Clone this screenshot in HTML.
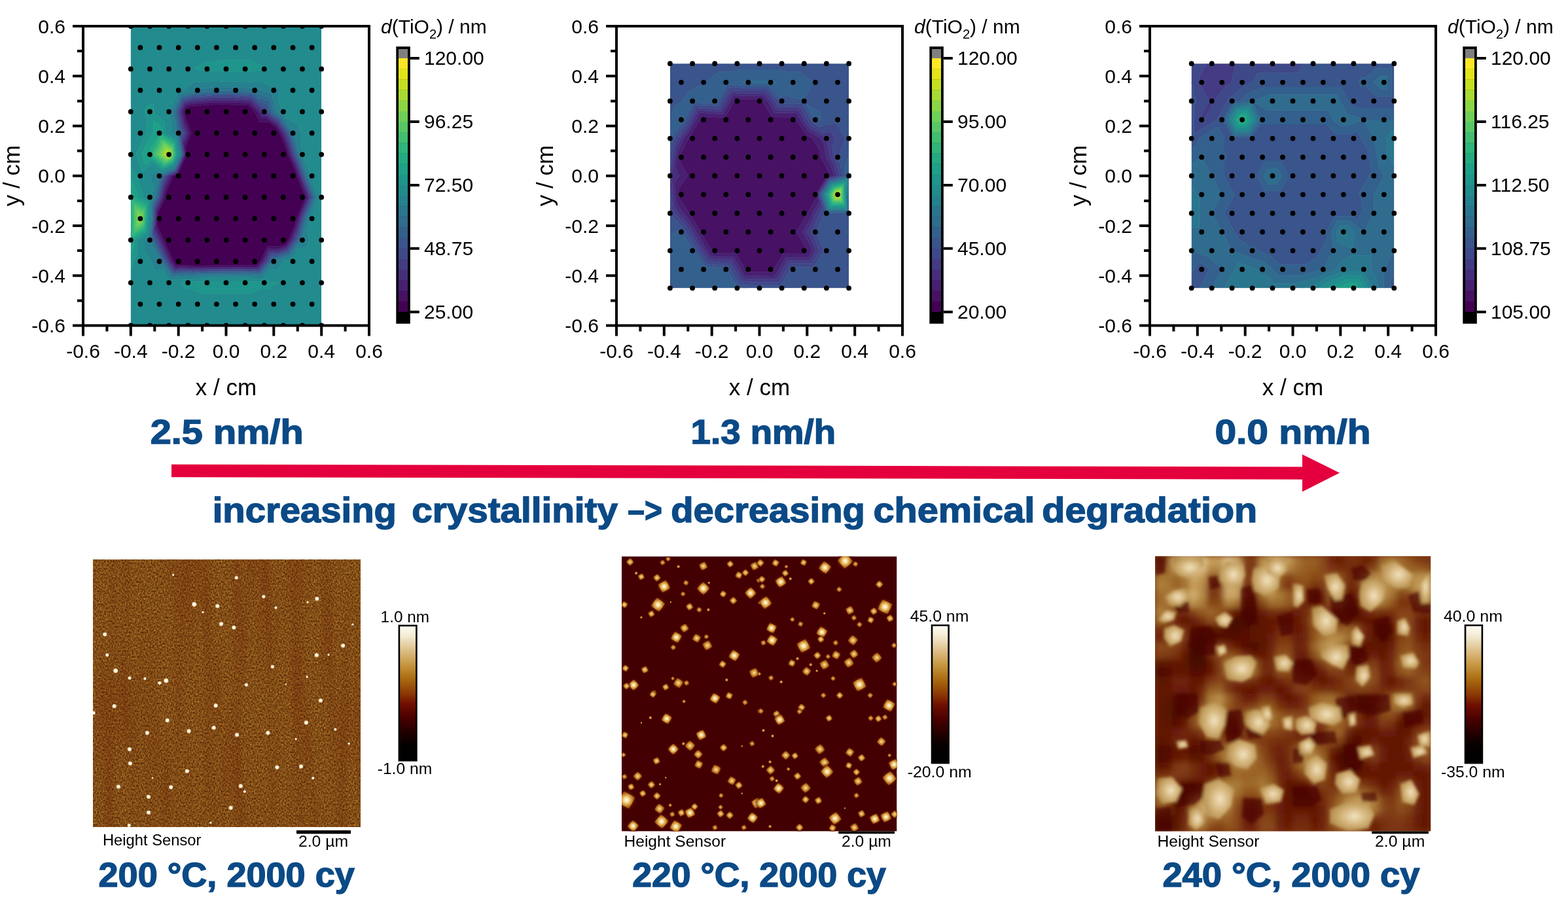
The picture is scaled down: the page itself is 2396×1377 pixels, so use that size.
<!DOCTYPE html>
<html><head><meta charset="utf-8"><title>TiO2 thickness maps and AFM</title>
<style>
html,body{margin:0;padding:0;background:#fff;}
body{width:2396px;height:1377px;overflow:hidden;position:relative;}
svg{position:absolute;left:0;top:0;}
</style></head><body>
<svg width="2396" height="1377" viewBox="0 0 2396 1377">
<clipPath id="cp0"><rect x="199.8" y="40.0" width="291.3" height="457.5"/></clipPath>
<g clip-path="url(#cp0)">
<path fill="#440154" stroke="#440154" stroke-width="0.6" fill-rule="evenodd" d="M283.3 179.6L281.8 170.7L284.5 164.7L290.8 162.7L321.1 160.0L350.3 160.0L379.0 161.0L389.0 170.7L396.7 186.5L410.8 186.5L422.0 195.1L427.3 203.4L437.1 226.7L440.1 236.1L451.1 260.7L453.7 268.8L466.9 301.4L453.1 334.1L451.2 342.4L440.8 366.8L438.9 369.7L435.9 373.4L428.7 376.2L408.2 376.8L397.6 399.5L391.9 405.5L298.9 406.0L275.1 405.0L270.0 405.5L265.3 399.5L239.6 342.9L241.0 334.1L240.6 332.6L240.7 327.8L252.4 301.4L254.2 292.7L264.9 268.8L268.5 267.6L270.0 266.5L271.6 266.4L285.1 236.1L283.0 226.5L292.6 203.4Z"/>
<path fill="#471164" stroke="#471164" stroke-width="0.6" fill-rule="evenodd" d="M284.6 183.0L292.6 203.4L283.0 226.5L285.1 236.1L271.6 266.4L270.0 266.5L268.5 267.6L264.9 268.8L254.2 292.7L252.4 301.4L240.7 327.8L240.6 332.6L241.0 334.1L239.6 342.9L265.3 399.5L270.0 405.5L275.1 405.0L298.9 406.0L391.9 405.5L397.6 399.5L408.2 376.8L428.7 376.2L435.9 373.4L438.9 369.7L440.8 366.8L451.2 342.4L453.1 334.1L466.9 301.4L453.7 268.8L451.1 260.7L440.1 236.1L437.1 226.7L427.3 203.4L422.0 195.1L410.8 186.5L396.7 186.5L389.0 170.7L379.0 161.0L350.3 160.0L321.1 160.0L290.8 162.7L284.5 164.7L281.8 170.7L283.3 179.6ZM281.5 183.6L279.1 170.7L283.2 161.6L292.4 159.1L322.8 156.4L351.9 156.4L380.6 157.4L394.1 170.7L399.2 181.1L408.4 181.1L423.1 192.6L430.3 203.4L438.7 223.2L442.5 236.1L452.3 258.0L456.1 268.8L469.4 301.4L455.7 334.1L452.6 345.6L443.8 366.8L437.0 376.1L435.8 376.6L427.1 379.7L409.8 380.3L400.7 399.5L393.0 408.1L297.8 408.5L276.3 407.6L268.7 408.3L262.4 399.5L238.0 346.4L239.1 338.2L239.4 324.9L249.9 301.4L252.6 289.1L261.7 268.8L267.9 266.2L270.7 264.3L283.3 236.1L281.2 222.5L289.1 203.4Z"/>
<path fill="#482071" stroke="#482071" stroke-width="0.6" fill-rule="evenodd" d="M282.8 187.1L289.1 203.4L281.2 222.5L283.3 236.1L270.7 264.3L267.9 266.2L261.7 268.8L252.6 289.1L249.9 301.4L239.4 324.9L239.1 338.2L238.0 346.4L262.4 399.5L268.7 408.3L276.3 407.6L297.8 408.5L393.0 408.1L400.7 399.5L409.8 380.3L427.1 379.7L435.8 376.6L437.0 376.1L443.8 366.8L452.6 345.6L455.7 334.1L469.4 301.4L456.1 268.8L452.3 258.0L442.5 236.1L438.7 223.2L430.3 203.4L423.1 192.6L408.4 181.1L399.2 181.1L394.1 170.7L380.6 157.4L351.9 156.4L322.8 156.4L292.4 159.1L283.2 161.6L279.1 170.7L281.5 183.6ZM280.7 188.8L277.0 170.7L282.1 159.3L293.7 156.2L324.1 153.5L353.2 153.5L381.9 154.5L398.2 170.7L401.1 176.7L406.4 176.7L424.1 190.4L432.8 203.4L439.9 220.4L444.7 236.1L453.3 255.6L471.2 301.4L457.6 334.1L453.8 348.3L446.0 366.8L440.0 375.4L438.0 378.1L425.9 382.5L411.0 383.0L403.2 399.5L393.8 409.8L384.8 409.4L297.0 410.3L277.1 409.4L267.8 410.3L260.0 399.5L236.8 349.2L238.3 334.1L238.5 322.7L247.9 301.4L251.4 286.3L259.2 268.8L270.3 263.4L282.4 236.1L279.8 219.3L286.4 203.4Z"/>
<path fill="#472e7c" stroke="#472e7c" stroke-width="0.6" fill-rule="evenodd" d="M281.6 191.1L286.4 203.4L279.8 219.3L282.4 236.1L270.3 263.4L259.2 268.8L251.4 286.3L247.9 301.4L238.5 322.7L238.3 334.1L236.8 349.2L260.0 399.5L267.8 410.3L277.1 409.4L297.0 410.3L384.8 409.4L393.8 409.8L403.2 399.5L411.0 383.0L425.9 382.5L438.0 378.1L440.0 375.4L446.0 366.8L453.8 348.3L457.6 334.1L471.2 301.4L453.3 255.6L444.7 236.1L439.9 220.4L432.8 203.4L424.1 190.4L406.4 176.7L401.1 176.7L398.2 170.7L381.9 154.5L353.2 153.5L324.1 153.5L293.7 156.2L282.1 159.3L277.0 170.7L280.0 186.9ZM278.7 189.8L275.1 170.7L281.2 157.2L294.9 153.5L325.2 150.9L354.3 150.9L383.0 152.0L401.9 170.7L402.9 172.7L404.6 172.7L425.0 188.5L434.9 203.4L441.0 217.9L446.5 236.1L454.3 253.5L459.8 268.8L473.0 301.4L459.4 334.1L454.9 350.7L448.1 366.8L439.5 379.0L438.8 380.0L424.8 384.9L412.1 385.4L405.4 399.5L394.6 411.6L384.0 411.1L307.2 411.5L296.2 412.0L277.9 411.1L267.0 412.2L257.8 399.5L235.6 351.8L237.4 334.1L237.6 320.7L246.2 301.4L250.2 283.7L256.9 268.8L269.9 262.4L281.6 236.1L278.5 216.5L283.9 203.4Z"/>
<path fill="#443b84" stroke="#443b84" stroke-width="0.6" fill-rule="evenodd" d="M279.2 191.1L283.9 203.4L278.5 216.5L281.6 236.1L269.9 262.4L256.9 268.8L250.2 283.7L246.2 301.4L237.6 320.7L237.4 334.1L235.6 351.8L257.8 399.5L267.0 412.2L277.9 411.1L296.2 412.0L307.2 411.5L384.0 411.1L394.6 411.6L405.4 399.5L412.1 385.4L424.8 384.9L438.8 380.0L439.5 379.0L448.1 366.8L454.9 350.7L459.4 334.1L473.0 301.4L459.8 268.8L454.3 253.5L446.5 236.1L441.0 217.9L434.9 203.4L425.0 188.5L404.6 172.7L402.9 172.7L401.9 170.7L383.0 152.0L354.3 150.9L325.2 150.9L294.9 153.5L281.2 157.2L275.1 170.7ZM277.5 192.6L273.4 170.7L280.3 155.2L296.0 151.0L326.3 148.5L355.4 148.5L384.1 149.5L402.4 167.7L404.7 168.6L405.3 170.7L425.8 186.6L437.0 203.4L442.1 215.5L448.3 236.1L455.2 251.5L461.4 268.8L474.6 301.4L461.0 334.1L455.9 353.0L450.1 366.8L443.0 376.9L439.5 381.7L435.6 383.1L423.8 387.3L413.1 387.7L407.5 399.5L395.3 413.1L383.3 412.6L307.8 413.0L295.5 413.5L278.6 412.7L266.2 414.0L255.8 399.5L234.6 354.2L236.4 334.1L236.8 318.9L244.6 301.4L249.1 281.3L254.7 268.8L269.4 261.5L280.8 236.1L277.3 213.8L281.6 203.4Z"/>
<path fill="#3f4889" stroke="#3f4889" stroke-width="0.6" fill-rule="evenodd" d="M278.5 195.2L281.6 203.4L277.3 213.8L280.8 236.1L269.4 261.5L254.7 268.8L249.1 281.3L244.6 301.4L236.8 318.9L236.4 334.1L234.6 354.2L255.8 399.5L266.2 414.0L278.6 412.7L295.5 413.5L307.8 413.0L383.3 412.6L395.3 413.1L407.5 399.5L413.1 387.7L423.8 387.3L435.6 383.1L439.5 381.7L443.0 376.9L450.1 366.8L455.9 353.0L461.0 334.1L474.6 301.4L461.4 268.8L455.2 251.5L448.3 236.1L442.1 215.5L437.0 203.4L425.8 186.6L405.3 170.7L404.7 168.6L402.4 167.7L384.1 149.5L355.4 148.5L326.3 148.5L296.0 151.0L280.3 155.2L273.4 170.7L277.5 192.6ZM276.3 195.3L271.6 170.7L279.4 153.2L297.1 148.5L327.3 146.1L356.5 146.1L385.1 147.2L399.7 161.6L406.6 164.3L408.4 170.7L426.6 184.8L439.0 203.4L443.1 213.2L450.0 236.1L456.0 249.5L463.0 268.8L476.2 301.4L462.7 334.1L456.9 355.3L451.5 367.6L440.3 383.4L422.7 389.6L414.1 389.9L409.6 399.5L396.0 414.7L382.7 414.1L308.5 414.4L294.9 415.0L279.3 414.3L265.4 415.7L253.8 399.5L233.5 356.6L235.5 334.1L235.9 317.1L242.9 301.4L248.1 278.9L252.6 268.8L269.0 260.5L279.9 236.1L276.1 211.1L279.3 203.4Z"/>
<path fill="#3a548c" stroke="#3a548c" stroke-width="0.6" fill-rule="evenodd" d="M277.8 199.3L279.3 203.4L276.1 211.1L279.9 236.1L269.0 260.5L252.6 268.8L248.1 278.9L242.9 301.4L235.9 317.1L235.5 334.1L233.5 356.6L253.8 399.5L265.4 415.7L279.3 414.3L294.9 415.0L308.5 414.4L382.7 414.1L396.0 414.7L409.6 399.5L414.1 389.9L422.7 389.6L440.3 383.4L451.5 367.6L456.9 355.3L462.7 334.1L476.2 301.4L463.0 268.8L456.0 249.5L450.0 236.1L443.1 213.2L439.0 203.4L426.6 184.8L408.4 170.7L406.6 164.3L399.7 161.6L385.1 147.2L356.5 146.1L327.3 146.1L306.1 147.6L297.1 148.5L279.4 153.2L271.6 170.7L276.3 195.3ZM275.0 198.1L269.9 170.7L278.6 151.2L298.2 146.1L328.4 143.7L357.6 143.7L386.2 144.7L396.9 155.4L408.6 159.9L411.6 170.7L427.4 183.0L441.0 203.4L444.1 210.9L451.8 236.1L456.9 247.5L464.6 268.8L477.8 301.4L464.3 334.1L457.9 357.5L454.0 366.8L441.1 385.1L421.7 392.0L415.1 392.2L411.6 399.5L396.7 416.3L382.0 415.6L309.1 415.9L294.2 416.6L280.0 415.9L264.6 417.5L251.8 399.5L235.9 366.8L232.4 358.6L234.6 334.1L235.1 315.2L241.3 301.4L247.0 276.5L250.4 268.8L268.6 259.5L279.0 236.1L274.9 208.5L277.0 203.4Z"/>
<path fill="#34608d" stroke="#34608d" stroke-width="0.6" fill-rule="evenodd" d="M275.5 199.3L277.0 203.4L274.9 208.5L279.0 236.1L268.6 259.5L250.4 268.8L247.0 276.5L241.3 301.4L235.1 315.2L234.6 334.1L232.4 358.6L235.9 366.8L251.8 399.5L264.6 417.5L280.0 415.9L294.2 416.6L309.1 415.9L382.0 415.6L396.7 416.3L411.6 399.5L415.1 392.2L421.7 392.0L441.1 385.1L454.0 366.8L457.9 357.5L464.3 334.1L477.8 301.4L464.6 268.8L456.9 247.5L451.8 236.1L444.1 210.9L441.0 203.4L427.4 183.0L411.6 170.7L408.6 159.9L396.9 155.4L386.2 144.7L357.6 143.7L328.4 143.7L298.2 146.1L278.6 151.2L269.9 170.7ZM273.7 201.0L268.0 170.7L277.6 149.1L299.4 143.4L329.6 141.1L358.7 141.1L387.3 142.2L394.0 148.9L410.6 155.3L414.9 170.7L428.3 181.0L443.1 203.4L445.2 208.5L453.7 236.1L457.8 245.5L466.3 268.8L479.4 301.4L466.0 334.1L459.0 359.9L456.1 366.8L441.9 386.9L420.6 394.4L416.1 394.6L413.8 399.5L397.4 418.0L381.3 417.2L309.9 417.5L293.4 418.2L280.8 417.7L263.8 419.3L249.6 399.5L233.6 366.8L231.3 361.6L231.4 358.6L233.7 334.1L234.3 313.3L239.6 301.4L245.9 274.0L248.2 268.8L268.1 258.5L278.1 236.1L273.8 207.5L273.7 205.7L274.6 203.4Z"/>
<path fill="#2f6c8e" stroke="#2f6c8e" stroke-width="0.6" fill-rule="evenodd" d="M274.6 203.4L273.7 205.7L273.8 207.5L278.1 236.1L268.1 258.5L248.2 268.8L245.9 274.0L239.6 301.4L234.3 313.3L233.7 334.1L231.4 358.6L231.3 361.6L233.6 366.8L249.6 399.5L263.8 419.3L280.8 417.7L293.4 418.2L309.9 417.5L381.3 417.2L397.4 418.0L413.8 399.5L416.1 394.6L420.6 394.4L441.9 386.9L456.1 366.8L459.0 359.9L466.0 334.1L479.4 301.4L466.3 268.8L457.8 245.5L453.7 236.1L445.2 208.5L443.1 203.4L428.3 181.0L414.9 170.7L410.6 155.3L394.0 148.9L387.3 142.2L358.7 141.1L329.6 141.1L299.4 143.4L277.6 149.1L268.0 170.7L273.4 199.3ZM271.9 203.4L266.0 170.7L276.6 146.9L302.8 140.3L330.8 138.4L359.9 138.4L388.6 139.4L390.9 141.8L412.9 150.3L418.5 170.7L429.2 179.0L445.5 203.4L455.7 236.1L458.9 243.2L468.1 268.8L481.3 301.4L467.9 334.1L460.1 362.5L458.3 366.8L442.8 388.9L420.8 396.7L417.3 397.2L415.3 400.7L398.2 419.6L380.5 418.9L310.6 419.2L292.7 419.9L281.6 419.4L262.9 421.4L247.4 399.5L231.1 366.8L230.0 364.4L230.0 362.7L232.8 334.1L233.3 311.2L237.7 301.4L244.6 271.2L245.7 268.8L246.8 267.9L267.7 257.5L277.2 236.1L272.5 203.8Z"/>
<path fill="#2a768e" stroke="#2a768e" stroke-width="0.6" fill-rule="evenodd" d="M272.5 203.8L277.2 236.1L267.7 257.5L246.8 267.9L245.7 268.8L244.6 271.2L237.7 301.4L233.3 311.2L232.8 334.1L230.0 362.7L230.0 364.4L231.1 366.8L247.4 399.5L262.9 421.4L281.6 419.4L292.7 419.9L310.6 419.2L380.5 418.9L398.2 419.6L415.3 400.7L417.3 397.2L420.8 396.7L442.8 388.9L458.3 366.8L460.1 362.5L467.9 334.1L481.3 301.4L468.1 268.8L458.9 243.2L455.7 236.1L445.5 203.4L429.2 179.0L418.5 170.7L412.9 150.3L390.9 141.8L388.6 139.4L359.9 138.4L330.8 138.4L302.8 140.3L276.6 146.9L266.0 170.7L271.9 203.4ZM269.3 204.1L268.3 203.4L267.7 192.4L263.5 170.7L275.4 144.1L299.2 138.0L301.0 136.3L302.5 136.5L328.7 133.1L362.2 133.3L387.8 134.9L390.8 134.5L415.6 144.3L422.9 170.7L430.4 176.3L446.2 200.5L448.2 201.7L449.0 203.4L449.2 207.2L458.0 236.1L483.4 301.4L470.2 334.1L461.1 366.8L443.7 391.1L420.1 399.5L419.1 401.2L417.7 401.0L399.3 422.1L379.5 421.2L311.6 421.4L291.6 422.3L282.6 421.8L261.9 423.6L244.5 399.5L234.0 378.2L228.0 368.9L227.9 366.8L228.7 366.1L228.6 362.7L229.5 357.4L229.3 354.5L231.4 336.9L231.9 309.6L235.7 300.3L242.5 271.1L241.8 268.8L243.1 267.7L243.8 268.1L246.1 266.3L250.9 264.7L252.1 263.4L253.3 263.3L255.1 262.0L259.1 260.6L261.0 258.8L267.2 256.5L276.4 236.1L274.5 227.9L274.5 223.9L272.6 215.6L272.6 211.5L271.6 205.9Z"/>
<path fill="#26818e" stroke="#26818e" stroke-width="0.6" fill-rule="evenodd" d="M271.6 205.9L272.6 211.5L272.6 215.6L274.5 223.9L274.5 227.9L276.4 236.1L267.2 256.5L261.0 258.8L259.1 260.6L255.1 262.0L253.3 263.3L252.1 263.4L250.9 264.7L246.1 266.3L243.8 268.1L243.1 267.7L241.8 268.8L242.5 271.1L235.7 300.3L231.9 309.6L231.4 336.9L229.3 354.5L229.5 357.4L228.6 362.7L228.7 366.1L227.9 366.8L228.0 368.9L234.0 378.2L244.5 399.5L261.9 423.6L282.6 421.8L291.6 422.3L311.6 421.4L379.5 421.2L399.3 422.1L417.7 401.0L419.1 401.2L420.1 399.5L443.7 391.1L461.1 366.8L470.2 334.1L483.4 301.4L458.0 236.1L449.2 207.2L449.0 203.4L448.2 201.7L446.2 200.5L430.4 176.3L422.9 170.7L415.6 144.3L390.8 134.5L387.8 134.9L362.2 133.3L328.7 133.1L302.5 136.5L301.0 136.3L299.2 138.0L275.4 144.1L263.5 170.7L267.7 192.4L268.3 203.4ZM268.4 207.5L266.8 206.6L264.0 206.5L262.2 203.4L261.5 199.3L261.9 194.8L261.2 191.1L261.5 186.5L260.5 178.9L260.9 177.1L258.9 170.7L273.1 139.0L280.7 138.0L295.6 124.2L307.1 126.1L324.4 123.4L337.1 124.2L366.3 124.2L383.7 125.7L395.6 123.8L399.2 125.8L404.8 127.6L415.9 132.5L421.3 131.4L427.0 138.0L424.8 152.5L430.2 170.7L432.5 171.5L436.9 179.7L453.6 189.6L459.8 203.4L461.5 234.9L473.4 264.7L480.3 285.3L487.2 301.4L480.3 317.6L468.9 351.3L473.0 366.8L467.5 379.1L456.6 379.1L450.5 390.0L448.7 391.3L448.1 392.6L446.6 393.2L445.5 395.1L444.1 395.4L442.8 397.2L441.2 397.2L439.7 398.4L437.0 398.4L432.4 399.5L424.5 413.3L413.0 411.4L410.8 415.2L409.9 415.8L408.6 418.6L405.5 419.9L403.5 423.4L402.6 424.0L401.4 426.7L388.3 426.1L378.1 424.3L313.0 424.7L299.3 426.6L282.4 426.6L260.1 427.7L258.8 425.5L257.6 425.1L257.1 424.0L255.1 422.6L249.0 411.8L237.3 413.4L231.1 399.5L221.0 383.1L221.0 366.8L223.9 363.5L227.2 362.7L226.5 358.6L228.1 350.4L227.5 346.4L229.0 342.1L228.4 338.2L229.4 333.1L229.2 325.9L229.9 321.9L229.2 317.8L230.2 313.7L229.3 309.6L230.4 305.5L229.9 303.6L231.7 299.5L231.8 297.3L235.0 287.8L229.4 268.8L231.5 266.3L234.2 265.2L237.0 262.2L240.0 260.8L243.1 261.4L245.2 264.9L250.9 260.9L254.5 260.6L257.0 258.2L260.0 256.7L263.4 256.1L265.8 253.2L273.4 236.1L274.0 232.0L271.5 223.8L272.1 219.7L269.6 211.6L269.8 209.7Z"/>
<path fill="#228b8d" stroke="#228b8d" stroke-width="0.6" fill-rule="evenodd" d="M199.8 411.3L209.8 389.1L209.8 366.8L224.5 356.7L225.2 354.5L225.0 351.2L226.2 342.3L226.3 336.4L227.1 334.1L226.6 331.2L227.2 325.9L226.8 322.6L227.4 309.6L227.2 305.4L219.6 301.4L211.4 275.6L199.8 253.7L199.8 40.0L491.2 40.0L491.2 497.5L199.8 497.5ZM269.8 209.7L269.6 211.6L272.1 219.7L271.5 223.8L274.0 232.0L273.4 236.1L265.8 253.2L263.4 256.1L260.0 256.7L257.0 258.2L254.5 260.6L250.9 260.9L245.2 264.9L243.1 261.4L240.0 260.8L237.0 262.2L234.2 265.2L231.5 266.3L229.4 268.8L235.0 287.8L231.8 297.3L231.7 299.5L229.9 303.6L230.4 305.5L229.3 309.6L230.2 313.7L229.2 317.8L229.9 321.9L229.2 325.9L229.4 333.1L228.4 338.2L229.0 342.1L227.5 346.4L228.1 350.4L226.5 358.6L227.2 362.7L223.9 363.5L221.0 366.8L221.0 383.1L231.1 399.5L237.3 413.4L249.0 411.8L255.1 422.6L257.1 424.0L257.6 425.1L258.8 425.5L260.1 427.7L282.4 426.6L299.3 426.6L313.0 424.7L378.1 424.3L388.3 426.1L401.4 426.7L402.6 424.0L403.5 423.4L405.5 419.9L408.6 418.6L409.9 415.8L410.8 415.2L413.0 411.4L424.5 413.3L432.4 399.5L437.0 398.4L439.7 398.4L441.2 397.2L442.8 397.2L444.1 395.4L445.5 395.1L446.6 393.2L448.1 392.6L448.7 391.3L450.5 390.0L456.6 379.1L467.5 379.1L473.0 366.8L468.9 351.3L480.3 317.6L487.2 301.4L480.3 285.3L473.4 264.7L461.5 234.9L459.8 203.4L453.6 189.6L436.9 179.7L432.5 171.5L430.2 170.7L424.8 152.5L427.0 138.0L421.3 131.4L415.9 132.5L404.8 127.6L399.2 125.8L395.6 123.8L383.7 125.7L366.3 124.2L337.1 124.2L324.4 123.4L307.1 126.1L295.6 124.2L280.7 138.0L273.1 139.0L258.9 170.7L260.9 177.1L260.5 178.9L261.5 186.5L261.2 191.1L261.9 194.8L261.5 199.3L262.2 203.4L264.0 206.5L266.8 206.6L268.4 207.5ZM324.7 94.7L320.7 95.6L312.0 95.6L294.5 105.4L315.0 108.4L317.6 108.1L343.6 109.7L376.7 109.9L403.3 106.4L404.4 106.8L411.1 105.4L405.6 101.3L401.9 101.3L380.7 91.7L339.4 91.7ZM255.3 205.3L252.3 203.4L251.3 185.9L234.4 170.7L234.4 158.5L224.6 160.9L220.2 170.7L224.6 180.5L223.7 203.4L218.3 212.2L207.7 236.1L217.4 261.9L234.7 249.0L247.4 260.0L253.2 257.8L254.4 256.5L259.1 254.8L264.9 251.3L271.6 236.1L271.0 227.9L270.0 225.6L269.2 220.2L269.1 215.6L268.2 213.4L257.0 205.9ZM352.8 448.5L381.9 448.5L399.4 441.9L408.1 441.9L425.6 432.1L405.1 429.1L403.2 430.9L375.7 429.9L315.4 429.9L286.7 430.9L276.3 432.1L282.9 441.9L291.6 441.9L309.1 448.5Z"/>
<path fill="#1f958b" stroke="#1f958b" stroke-width="0.6" fill-rule="evenodd" d="M199.8 253.7L211.4 275.6L219.6 301.4L227.2 305.4L227.4 309.6L226.8 322.6L227.2 325.9L226.6 331.2L227.1 334.1L226.3 336.4L226.2 342.3L225.0 351.2L225.2 354.5L224.5 356.7L209.8 366.8L209.8 389.1L199.8 411.3L199.8 387.8L204.5 377.3L204.5 366.8L223.2 354.0L225.1 334.1L225.7 309.6L225.6 308.9L211.4 301.4L206.6 286.3L199.8 273.6ZM326.1 94.5L339.4 91.7L380.7 91.7L401.9 101.3L405.6 101.3L411.1 105.4L404.4 106.8L403.3 106.4L376.7 109.9L343.6 109.7L317.6 108.1L315.0 108.4L294.5 105.4L312.0 95.6L320.7 95.6ZM257.0 205.9L268.2 213.4L269.1 215.6L269.2 220.2L270.0 225.6L271.0 227.9L271.6 236.1L264.9 251.3L259.1 254.8L254.4 256.5L253.2 257.8L247.4 260.0L234.7 249.0L217.4 261.9L207.7 236.1L218.3 212.2L223.7 203.4L224.6 180.5L220.2 170.7L224.6 160.9L234.4 158.5L234.4 170.7L251.3 185.9L252.3 203.4ZM349.1 448.5L309.1 448.5L291.6 441.9L282.9 441.9L276.3 432.1L286.7 430.9L315.4 429.9L375.7 429.9L403.2 430.9L405.1 429.1L425.6 432.1L408.1 441.9L399.4 441.9L381.9 448.5ZM247.7 203.4L247.2 195.1L234.9 184.1L234.2 203.4L222.8 222.1L216.5 236.1L222.2 251.2L232.3 243.6L248.5 257.6L264.2 249.7L270.3 236.1L267.2 215.7Z"/>
<path fill="#1fa088" stroke="#1fa088" stroke-width="0.6" fill-rule="evenodd" d="M199.8 353.2L200.1 366.2L222.0 351.2L223.6 334.1L224.1 312.4L203.1 301.4L201.8 297.1L199.8 293.5L199.8 273.6L206.6 286.3L211.4 301.4L225.6 308.9L225.7 309.6L225.1 334.1L223.2 354.0L204.5 366.8L204.5 377.3L199.8 387.8ZM250.1 204.9L267.2 215.7L270.3 236.1L264.2 249.7L248.5 257.6L232.3 243.6L222.2 251.2L216.5 236.1L222.8 222.1L234.2 203.4L234.9 184.1L247.2 195.1L247.7 203.4ZM243.7 203.8L240.5 210.2L227.2 232.1L225.4 236.1L227.0 240.4L229.9 238.2L249.6 255.2L263.5 248.2L268.9 236.1L266.2 218.0Z"/>
<path fill="#24aa83" stroke="#24aa83" stroke-width="0.6" fill-rule="evenodd" d="M199.8 293.5L201.8 297.1L203.1 301.4L224.1 312.4L223.6 334.1L222.0 351.2L200.1 366.2ZM246.3 205.4L266.2 218.0L268.9 236.1L263.5 248.2L249.6 255.2L229.9 238.2L227.0 240.4L225.4 236.1L227.2 232.1L240.5 210.2L243.7 203.8ZM202.4 361.1L220.8 348.4L222.1 334.1L222.5 315.9L201.3 304.8ZM245.5 207.9L231.3 236.1L250.6 252.8L262.8 246.7L267.6 236.1L265.2 220.2Z"/>
<path fill="#2fb47c" stroke="#2fb47c" stroke-width="0.6" fill-rule="evenodd" d="M202.3 356.0L201.3 304.8L222.5 315.9L222.1 334.1L220.8 348.4L202.4 361.1ZM248.1 209.5L265.2 220.2L267.6 236.1L262.8 246.7L250.6 252.8L231.3 236.1L245.5 207.9ZM204.7 355.9L219.6 345.7L220.6 334.1L221.0 319.4L203.8 310.4ZM247.3 211.9L235.1 236.1L251.7 250.4L262.2 245.2L266.2 236.1L264.1 222.5Z"/>
<path fill="#42be71" stroke="#42be71" stroke-width="0.6" fill-rule="evenodd" d="M204.6 353.1L203.8 310.4L221.0 319.4L220.6 334.1L219.6 345.7L204.7 355.9ZM249.9 213.5L264.1 222.5L266.2 236.1L262.2 245.2L251.7 250.4L235.1 236.1L247.3 211.9ZM207.0 350.7L218.3 342.9L219.4 322.9L206.4 316.1ZM249.1 215.9L239.0 236.1L252.8 248.0L261.5 243.6L264.9 236.1L263.1 224.8Z"/>
<path fill="#58c765" stroke="#58c765" stroke-width="0.6" fill-rule="evenodd" d="M207.0 350.2L206.4 316.1L219.4 322.9L218.3 342.9L207.0 350.7ZM251.8 217.6L263.1 224.8L264.9 236.1L261.5 243.6L252.8 248.0L239.0 236.1L249.1 215.9ZM209.3 345.5L217.1 340.2L217.8 326.4L208.9 321.7ZM250.9 220.0L242.8 236.1L253.9 245.6L260.8 242.1L263.5 236.1L262.1 227.0Z"/>
<path fill="#70cf57" stroke="#70cf57" stroke-width="0.6" fill-rule="evenodd" d="M209.2 338.7L208.9 321.7L217.8 326.4L217.1 340.2L209.3 345.5ZM253.6 221.7L262.1 227.0L263.5 236.1L260.8 242.1L253.9 245.6L242.8 236.1L250.9 220.0ZM211.6 340.4L215.9 337.4L216.3 329.9L211.4 327.3ZM258.9 227.9L252.7 224.0L246.7 236.1L254.9 243.2L260.1 240.6L262.1 236.1L261.1 229.3Z"/>
<path fill="#8bd646" stroke="#8bd646" stroke-width="0.6" fill-rule="evenodd" d="M211.5 335.8L211.4 327.3L216.3 329.9L215.9 337.4L211.6 340.4ZM261.1 229.3L262.1 236.1L260.3 240.2L254.9 243.2L246.7 236.1L252.7 224.0ZM213.9 335.2L214.7 334.7L214.7 333.4L213.9 332.9ZM254.5 228.1L250.5 236.1L256.0 240.8L259.4 239.1L260.8 236.1L260.1 231.6Z"/>
<path fill="#a8db34" stroke="#a8db34" stroke-width="0.6" fill-rule="evenodd" d="M213.9 332.9L214.7 333.4L214.7 334.7L213.9 335.2ZM257.3 229.8L260.1 231.6L260.8 236.1L259.4 239.1L256.0 240.8L250.5 236.1L254.5 228.1ZM256.3 232.1L254.3 236.1L257.1 238.4L258.8 237.6L259.4 236.1L259.1 233.8Z"/>
<path fill="#c5e021" stroke="#c5e021" stroke-width="0.6" fill-rule="evenodd" d="M259.1 233.8L259.4 236.1L258.8 237.6L257.1 238.4L254.3 236.1L256.3 232.1Z"/>
</g>
<clipPath id="ax0"><rect x="127" y="40" width="437" height="457.5"/></clipPath>
<g fill="#000" clip-path="url(#ax0)"><circle cx="199.8" cy="40.0" r="3.9"/><circle cx="229.0" cy="40.0" r="3.9"/><circle cx="258.1" cy="40.0" r="3.9"/><circle cx="287.2" cy="40.0" r="3.9"/><circle cx="316.4" cy="40.0" r="3.9"/><circle cx="345.5" cy="40.0" r="3.9"/><circle cx="374.6" cy="40.0" r="3.9"/><circle cx="403.8" cy="40.0" r="3.9"/><circle cx="432.9" cy="40.0" r="3.9"/><circle cx="462.0" cy="40.0" r="3.9"/><circle cx="491.2" cy="40.0" r="3.9"/><circle cx="214.4" cy="72.7" r="3.9"/><circle cx="243.5" cy="72.7" r="3.9"/><circle cx="272.7" cy="72.7" r="3.9"/><circle cx="301.8" cy="72.7" r="3.9"/><circle cx="330.9" cy="72.7" r="3.9"/><circle cx="360.1" cy="72.7" r="3.9"/><circle cx="389.2" cy="72.7" r="3.9"/><circle cx="418.3" cy="72.7" r="3.9"/><circle cx="447.5" cy="72.7" r="3.9"/><circle cx="476.6" cy="72.7" r="3.9"/><circle cx="199.8" cy="105.4" r="3.9"/><circle cx="229.0" cy="105.4" r="3.9"/><circle cx="258.1" cy="105.4" r="3.9"/><circle cx="287.2" cy="105.4" r="3.9"/><circle cx="316.4" cy="105.4" r="3.9"/><circle cx="345.5" cy="105.4" r="3.9"/><circle cx="374.6" cy="105.4" r="3.9"/><circle cx="403.8" cy="105.4" r="3.9"/><circle cx="432.9" cy="105.4" r="3.9"/><circle cx="462.0" cy="105.4" r="3.9"/><circle cx="491.2" cy="105.4" r="3.9"/><circle cx="214.4" cy="138.0" r="3.9"/><circle cx="243.5" cy="138.0" r="3.9"/><circle cx="272.7" cy="138.0" r="3.9"/><circle cx="301.8" cy="138.0" r="3.9"/><circle cx="330.9" cy="138.0" r="3.9"/><circle cx="360.1" cy="138.0" r="3.9"/><circle cx="389.2" cy="138.0" r="3.9"/><circle cx="418.3" cy="138.0" r="3.9"/><circle cx="447.5" cy="138.0" r="3.9"/><circle cx="476.6" cy="138.0" r="3.9"/><circle cx="199.8" cy="170.7" r="3.9"/><circle cx="229.0" cy="170.7" r="3.9"/><circle cx="258.1" cy="170.7" r="3.9"/><circle cx="287.2" cy="170.7" r="3.9"/><circle cx="316.4" cy="170.7" r="3.9"/><circle cx="345.5" cy="170.7" r="3.9"/><circle cx="374.6" cy="170.7" r="3.9"/><circle cx="403.8" cy="170.7" r="3.9"/><circle cx="432.9" cy="170.7" r="3.9"/><circle cx="462.0" cy="170.7" r="3.9"/><circle cx="491.2" cy="170.7" r="3.9"/><circle cx="214.4" cy="203.4" r="3.9"/><circle cx="243.5" cy="203.4" r="3.9"/><circle cx="272.7" cy="203.4" r="3.9"/><circle cx="301.8" cy="203.4" r="3.9"/><circle cx="330.9" cy="203.4" r="3.9"/><circle cx="360.1" cy="203.4" r="3.9"/><circle cx="389.2" cy="203.4" r="3.9"/><circle cx="418.3" cy="203.4" r="3.9"/><circle cx="447.5" cy="203.4" r="3.9"/><circle cx="476.6" cy="203.4" r="3.9"/><circle cx="199.8" cy="236.1" r="3.9"/><circle cx="229.0" cy="236.1" r="3.9"/><circle cx="258.1" cy="236.1" r="3.9"/><circle cx="287.2" cy="236.1" r="3.9"/><circle cx="316.4" cy="236.1" r="3.9"/><circle cx="345.5" cy="236.1" r="3.9"/><circle cx="374.6" cy="236.1" r="3.9"/><circle cx="403.8" cy="236.1" r="3.9"/><circle cx="432.9" cy="236.1" r="3.9"/><circle cx="462.0" cy="236.1" r="3.9"/><circle cx="491.2" cy="236.1" r="3.9"/><circle cx="214.4" cy="268.8" r="3.9"/><circle cx="243.5" cy="268.8" r="3.9"/><circle cx="272.7" cy="268.8" r="3.9"/><circle cx="301.8" cy="268.8" r="3.9"/><circle cx="330.9" cy="268.8" r="3.9"/><circle cx="360.1" cy="268.8" r="3.9"/><circle cx="389.2" cy="268.8" r="3.9"/><circle cx="418.3" cy="268.8" r="3.9"/><circle cx="447.5" cy="268.8" r="3.9"/><circle cx="476.6" cy="268.8" r="3.9"/><circle cx="199.8" cy="301.4" r="3.9"/><circle cx="229.0" cy="301.4" r="3.9"/><circle cx="258.1" cy="301.4" r="3.9"/><circle cx="287.2" cy="301.4" r="3.9"/><circle cx="316.4" cy="301.4" r="3.9"/><circle cx="345.5" cy="301.4" r="3.9"/><circle cx="374.6" cy="301.4" r="3.9"/><circle cx="403.8" cy="301.4" r="3.9"/><circle cx="432.9" cy="301.4" r="3.9"/><circle cx="462.0" cy="301.4" r="3.9"/><circle cx="491.2" cy="301.4" r="3.9"/><circle cx="214.4" cy="334.1" r="3.9"/><circle cx="243.5" cy="334.1" r="3.9"/><circle cx="272.7" cy="334.1" r="3.9"/><circle cx="301.8" cy="334.1" r="3.9"/><circle cx="330.9" cy="334.1" r="3.9"/><circle cx="360.1" cy="334.1" r="3.9"/><circle cx="389.2" cy="334.1" r="3.9"/><circle cx="418.3" cy="334.1" r="3.9"/><circle cx="447.5" cy="334.1" r="3.9"/><circle cx="476.6" cy="334.1" r="3.9"/><circle cx="199.8" cy="366.8" r="3.9"/><circle cx="229.0" cy="366.8" r="3.9"/><circle cx="258.1" cy="366.8" r="3.9"/><circle cx="287.2" cy="366.8" r="3.9"/><circle cx="316.4" cy="366.8" r="3.9"/><circle cx="345.5" cy="366.8" r="3.9"/><circle cx="374.6" cy="366.8" r="3.9"/><circle cx="403.8" cy="366.8" r="3.9"/><circle cx="432.9" cy="366.8" r="3.9"/><circle cx="462.0" cy="366.8" r="3.9"/><circle cx="491.2" cy="366.8" r="3.9"/><circle cx="214.4" cy="399.5" r="3.9"/><circle cx="243.5" cy="399.5" r="3.9"/><circle cx="272.7" cy="399.5" r="3.9"/><circle cx="301.8" cy="399.5" r="3.9"/><circle cx="330.9" cy="399.5" r="3.9"/><circle cx="360.1" cy="399.5" r="3.9"/><circle cx="389.2" cy="399.5" r="3.9"/><circle cx="418.3" cy="399.5" r="3.9"/><circle cx="447.5" cy="399.5" r="3.9"/><circle cx="476.6" cy="399.5" r="3.9"/><circle cx="199.8" cy="432.1" r="3.9"/><circle cx="229.0" cy="432.1" r="3.9"/><circle cx="258.1" cy="432.1" r="3.9"/><circle cx="287.2" cy="432.1" r="3.9"/><circle cx="316.4" cy="432.1" r="3.9"/><circle cx="345.5" cy="432.1" r="3.9"/><circle cx="374.6" cy="432.1" r="3.9"/><circle cx="403.8" cy="432.1" r="3.9"/><circle cx="432.9" cy="432.1" r="3.9"/><circle cx="462.0" cy="432.1" r="3.9"/><circle cx="491.2" cy="432.1" r="3.9"/><circle cx="214.4" cy="464.8" r="3.9"/><circle cx="243.5" cy="464.8" r="3.9"/><circle cx="272.7" cy="464.8" r="3.9"/><circle cx="301.8" cy="464.8" r="3.9"/><circle cx="330.9" cy="464.8" r="3.9"/><circle cx="360.1" cy="464.8" r="3.9"/><circle cx="389.2" cy="464.8" r="3.9"/><circle cx="418.3" cy="464.8" r="3.9"/><circle cx="447.5" cy="464.8" r="3.9"/><circle cx="476.6" cy="464.8" r="3.9"/><circle cx="199.8" cy="497.5" r="3.9"/><circle cx="229.0" cy="497.5" r="3.9"/><circle cx="258.1" cy="497.5" r="3.9"/><circle cx="287.2" cy="497.5" r="3.9"/><circle cx="316.4" cy="497.5" r="3.9"/><circle cx="345.5" cy="497.5" r="3.9"/><circle cx="374.6" cy="497.5" r="3.9"/><circle cx="403.8" cy="497.5" r="3.9"/><circle cx="432.9" cy="497.5" r="3.9"/><circle cx="462.0" cy="497.5" r="3.9"/><circle cx="491.2" cy="497.5" r="3.9"/></g>
<rect x="127" y="40" width="437" height="457.5" fill="none" stroke="#000" stroke-width="4"/>
<path d="M111.0 497.5h16M127.0 498.5v15M118.0 459.4h9M163.4 498.5v8M111.0 421.2h16M199.8 498.5v15M118.0 383.1h9M236.3 498.5v8M111.0 345.0h16M272.7 498.5v15M118.0 306.9h9M309.1 498.5v8M111.0 268.7h16M345.5 498.5v15M118.0 230.6h9M381.9 498.5v8M111.0 192.5h16M418.3 498.5v15M118.0 154.4h9M454.8 498.5v8M111.0 116.2h16M491.2 498.5v15M118.0 78.1h9M527.6 498.5v8M111.0 40.0h16M564.0 498.5v15" stroke="#000" stroke-width="4" fill="none"/>
<g style="font-family:'Liberation Sans',Arial,sans-serif;font-size:30px" fill="#000"><text x="100.0" y="508.2" text-anchor="end">-0.6</text><text x="127.0" y="547" text-anchor="middle">-0.6</text><text x="100.0" y="431.9" text-anchor="end">-0.4</text><text x="199.8" y="547" text-anchor="middle">-0.4</text><text x="100.0" y="355.7" text-anchor="end">-0.2</text><text x="272.7" y="547" text-anchor="middle">-0.2</text><text x="100.0" y="279.4" text-anchor="end">0.0</text><text x="345.5" y="547" text-anchor="middle">0.0</text><text x="100.0" y="203.2" text-anchor="end">0.2</text><text x="418.3" y="547" text-anchor="middle">0.2</text><text x="100.0" y="126.9" text-anchor="end">0.4</text><text x="491.2" y="547" text-anchor="middle">0.4</text><text x="100.0" y="50.7" text-anchor="end">0.6</text><text x="564.0" y="547" text-anchor="middle">0.6</text></g>
<text style="font-family:'Liberation Sans',Arial,sans-serif;font-size:35px" x="345.5" y="604" text-anchor="middle">x / cm</text>
<text style="font-family:'Liberation Sans',Arial,sans-serif;font-size:35px" transform="translate(30.0,268.5) rotate(-90)" text-anchor="middle">y / cm</text>
<text style="font-family:'Liberation Sans',Arial,sans-serif;font-size:30px" x="582.0" y="50.8"><tspan font-style="italic">d</tspan>(TiO<tspan font-size="20px" dy="8">2</tspan><tspan dy="-8">) / nm</tspan></text>
<rect x="605.3" y="71.1" width="21.5" height="423.6" fill="#000"/>
<rect x="609.0" y="75" width="14" height="14.5" fill="#808080"/>
<rect x="609.0" y="460.55" width="14" height="16.45" fill="#440154"/>
<rect x="609.0" y="444.39" width="14" height="16.45" fill="#471164"/>
<rect x="609.0" y="428.24" width="14" height="16.45" fill="#482071"/>
<rect x="609.0" y="412.08" width="14" height="16.45" fill="#472e7c"/>
<rect x="609.0" y="395.93" width="14" height="16.45" fill="#443b84"/>
<rect x="609.0" y="379.77" width="14" height="16.45" fill="#3f4889"/>
<rect x="609.0" y="363.62" width="14" height="16.45" fill="#3a548c"/>
<rect x="609.0" y="347.47" width="14" height="16.45" fill="#34608d"/>
<rect x="609.0" y="331.31" width="14" height="16.45" fill="#2f6c8e"/>
<rect x="609.0" y="315.16" width="14" height="16.45" fill="#2a768e"/>
<rect x="609.0" y="299.00" width="14" height="16.45" fill="#26818e"/>
<rect x="609.0" y="282.85" width="14" height="16.45" fill="#228b8d"/>
<rect x="609.0" y="266.70" width="14" height="16.45" fill="#1f958b"/>
<rect x="609.0" y="250.54" width="14" height="16.45" fill="#1fa088"/>
<rect x="609.0" y="234.39" width="14" height="16.45" fill="#24aa83"/>
<rect x="609.0" y="218.23" width="14" height="16.45" fill="#2fb47c"/>
<rect x="609.0" y="202.08" width="14" height="16.45" fill="#42be71"/>
<rect x="609.0" y="185.93" width="14" height="16.45" fill="#58c765"/>
<rect x="609.0" y="169.77" width="14" height="16.45" fill="#70cf57"/>
<rect x="609.0" y="153.62" width="14" height="16.45" fill="#8bd646"/>
<rect x="609.0" y="137.46" width="14" height="16.45" fill="#a8db34"/>
<rect x="609.0" y="121.31" width="14" height="16.45" fill="#c5e021"/>
<rect x="609.0" y="105.15" width="14" height="16.45" fill="#e2e418"/>
<rect x="609.0" y="89.00" width="14" height="16.45" fill="#fde725"/>
<rect x="609.0" y="476.7" width="14" height="14.3" fill="#000"/>
<text style="font-family:'Liberation Sans',Arial,sans-serif;font-size:30px" x="648.0" y="99.3">120.00</text>
<text style="font-family:'Liberation Sans',Arial,sans-serif;font-size:30px" x="648.0" y="196.2">96.25</text>
<text style="font-family:'Liberation Sans',Arial,sans-serif;font-size:30px" x="648.0" y="293.2">72.50</text>
<text style="font-family:'Liberation Sans',Arial,sans-serif;font-size:30px" x="648.0" y="390.1">48.75</text>
<text style="font-family:'Liberation Sans',Arial,sans-serif;font-size:30px" x="648.0" y="487.0">25.00</text>
<path d="M626.8 89.0h14M626.8 185.9h14M626.8 282.9h14M626.8 379.8h14M626.8 476.7h14" stroke="#000" stroke-width="4"/>
<clipPath id="cp1"><rect x="1023.9" y="97.2" width="273.1" height="343.1"/></clipPath>
<g clip-path="url(#cp1)">
<path fill="#471164" stroke="#471164" stroke-width="0.6" fill-rule="evenodd" d="M1141.3 415.3L1124.2 386.7L1094.3 386.7L1090.4 386.2L1088.0 383.1L1056.0 329.5L1052.9 325.9L1037.7 302.8L1036.4 289.6L1050.8 268.7L1038.4 244.5L1039.8 238.1L1043.9 228.1L1052.0 211.6L1055.4 207.1L1069.9 183.0L1072.2 178.1L1107.5 179.9L1124.4 151.2L1162.2 151.5L1165.1 154.4L1179.9 179.1L1213.9 179.3L1231.8 206.4L1241.6 211.6L1252.2 229.5L1252.5 233.0L1254.0 240.2L1266.2 263.3L1267.8 268.7L1263.4 269.6L1246.4 297.3L1248.1 301.2L1216.9 354.5L1231.4 378.8L1233.2 382.8L1231.1 386.9L1196.9 386.9L1179.9 415.5Z"/>
<path fill="#482071" stroke="#482071" stroke-width="0.6" fill-rule="evenodd" d="M1141.4 415.3L1179.9 415.5L1196.9 386.9L1231.1 386.9L1233.2 382.8L1231.4 378.8L1216.9 354.5L1248.1 301.2L1246.4 297.3L1263.4 269.6L1267.8 268.7L1266.2 263.3L1254.0 240.2L1252.5 233.0L1252.2 229.5L1241.6 211.6L1231.8 206.4L1213.9 179.3L1179.9 179.1L1165.1 154.4L1162.2 151.5L1124.4 151.2L1107.5 179.9L1072.2 178.1L1069.9 183.0L1055.4 207.1L1052.0 211.6L1043.9 228.1L1039.8 238.1L1038.4 244.5L1050.8 268.7L1036.4 289.6L1037.7 302.8L1052.9 325.9L1056.0 329.5L1088.0 383.1L1090.4 386.2L1094.3 386.7L1124.2 386.7ZM1146.0 421.7L1137.8 421.1L1120.8 392.5L1097.8 392.5L1087.3 391.4L1081.0 383.1L1052.5 335.3L1043.7 325.9L1033.3 310.2L1030.5 279.8L1038.1 268.7L1031.6 255.9L1035.9 231.6L1045.0 211.6L1052.5 202.2L1064.0 183.0L1068.8 172.4L1104.3 174.7L1121.2 145.8L1131.1 146.4L1165.3 146.4L1172.8 154.4L1183.7 172.6L1217.6 173.1L1222.9 183.0L1235.3 200.6L1254.0 211.6L1258.5 219.0L1262.2 240.2L1270.6 255.9L1274.1 268.7L1264.4 271.2L1248.3 297.3L1252.0 307.7L1241.1 325.9L1236.0 338.0L1226.1 354.5L1236.0 371.1L1241.1 383.1L1235.0 393.5L1200.8 393.5L1183.7 422.1Z"/>
<path fill="#472e7c" stroke="#472e7c" stroke-width="0.6" fill-rule="evenodd" d="M1149.6 422.1L1183.7 422.1L1200.8 393.5L1235.0 393.5L1241.1 383.1L1236.0 371.1L1226.1 354.5L1236.0 338.0L1241.1 325.9L1252.0 307.7L1248.3 297.3L1264.4 271.2L1274.1 268.7L1270.6 255.9L1262.2 240.2L1258.5 219.0L1254.0 211.6L1235.3 200.6L1222.9 183.0L1217.6 173.1L1183.7 172.6L1172.8 154.4L1165.3 146.4L1131.1 146.4L1121.2 145.8L1104.3 174.7L1068.8 172.4L1064.0 183.0L1052.5 202.2L1045.0 211.6L1035.9 231.6L1031.6 255.9L1038.1 268.7L1030.5 279.8L1033.3 310.2L1043.7 325.9L1052.5 335.3L1081.0 383.1L1087.3 391.4L1097.8 392.5L1120.8 392.5L1137.8 421.1ZM1135.2 425.4L1118.2 396.8L1100.4 396.8L1085.0 395.3L1075.8 383.1L1049.9 339.7L1037.1 325.9L1030.2 315.5L1026.3 272.8L1029.1 268.7L1026.7 264.1L1033.2 227.1L1040.3 211.6L1050.4 198.7L1059.8 183.0L1066.6 168.6L1102.0 170.8L1118.8 141.8L1133.3 142.7L1167.5 142.7L1178.5 154.4L1186.5 167.9L1220.3 168.6L1228.1 183.0L1237.7 196.6L1263.0 211.4L1268.1 240.2L1273.7 250.6L1278.7 268.7L1265.2 272.6L1250.1 297.3L1254.8 312.4L1246.7 325.9L1239.3 343.5L1232.6 354.5L1239.3 365.6L1246.7 383.1L1237.8 398.2L1203.6 398.2L1186.5 426.8L1152.4 426.8Z"/>
<path fill="#443b84" stroke="#443b84" stroke-width="0.6" fill-rule="evenodd" d="M1023.9 260.8L1030.6 222.7L1035.6 211.6L1048.4 195.3L1055.8 183.0L1064.4 164.9L1099.8 167.1L1116.5 137.9L1135.5 139.1L1169.6 139.1L1183.9 154.4L1189.3 163.3L1222.9 164.2L1233.1 183.0L1240.0 192.8L1258.1 203.5L1269.3 200.8L1275.7 211.6L1271.2 225.4L1273.9 240.2L1276.8 245.6L1283.2 268.7L1265.9 273.8L1251.5 297.3L1257.6 317.0L1252.2 325.9L1242.4 348.8L1239.0 354.5L1242.4 360.2L1252.2 383.1L1240.5 402.8L1206.4 402.8L1189.3 431.4L1155.2 431.4L1132.8 429.6L1115.7 401.0L1102.9 401.0L1082.7 399.0L1070.9 383.1L1047.4 343.8L1030.8 325.9L1027.2 320.5L1023.9 284.5ZM1139.0 425.7L1152.4 426.8L1186.5 426.8L1203.6 398.2L1237.8 398.2L1246.7 383.1L1239.3 365.6L1232.6 354.5L1239.3 343.5L1246.7 325.9L1254.8 312.4L1250.1 297.3L1265.2 272.6L1278.7 268.7L1273.7 250.6L1268.1 240.2L1263.1 211.6L1237.7 196.6L1228.1 183.0L1220.3 168.6L1186.5 167.9L1178.5 154.4L1167.5 142.7L1133.3 142.7L1118.8 141.8L1102.0 170.8L1066.6 168.6L1059.8 183.0L1050.4 198.7L1040.3 211.6L1033.2 227.1L1026.7 264.1L1029.1 268.7L1026.3 272.8L1030.2 315.5L1037.1 325.9L1049.9 339.7L1075.8 383.1L1085.0 395.3L1100.4 396.8L1118.2 396.8L1135.2 425.4Z"/>
<path fill="#3f4889" stroke="#3f4889" stroke-width="0.6" fill-rule="evenodd" d="M1023.9 284.5L1027.2 320.5L1030.8 325.9L1047.4 343.8L1070.9 383.1L1082.7 399.0L1102.9 401.0L1115.7 401.0L1132.8 429.6L1155.2 431.4L1189.3 431.4L1206.4 402.8L1240.5 402.8L1252.2 383.1L1242.4 360.2L1239.0 354.5L1242.4 348.8L1252.2 325.9L1257.6 317.0L1251.5 297.3L1265.9 273.8L1283.2 268.7L1276.8 245.6L1273.9 240.2L1271.2 225.4L1275.7 211.6L1269.3 200.8L1258.1 203.5L1240.0 192.8L1233.1 183.0L1222.9 164.2L1189.3 163.3L1183.9 154.4L1169.6 139.1L1135.5 139.1L1116.5 137.9L1099.8 167.1L1064.4 164.9L1055.8 183.0L1048.4 195.3L1035.6 211.6L1030.6 222.7L1023.9 260.8L1023.9 237.5L1026.8 221.0L1029.9 211.6L1031.6 210.2L1045.9 191.2L1050.8 183.0L1061.9 160.7L1097.1 162.5L1113.7 133.2L1129.9 134.1L1137.9 135.1L1172.0 135.1L1174.9 137.4L1182.4 146.2L1185.3 148.5L1190.4 154.4L1192.5 157.9L1226.1 158.9L1236.3 177.5L1236.8 179.4L1238.7 183.0L1242.9 188.0L1252.3 193.8L1277.1 187.9L1291.2 211.6L1281.1 242.0L1282.8 247.3L1283.2 250.9L1285.6 258.0L1286.1 261.6L1288.5 268.7L1266.6 274.9L1252.9 297.3L1260.8 322.4L1255.4 333.1L1254.4 336.7L1248.3 350.4L1250.8 354.5L1248.3 358.7L1258.7 383.1L1243.8 408.2L1209.6 408.2L1192.5 436.8L1158.4 436.8L1131.7 435.0L1129.9 434.3L1112.9 405.7L1105.7 405.7L1080.0 403.6L1065.2 383.1L1044.6 348.6L1041.7 346.2L1034.1 337.4L1031.3 335.1L1025.4 328.5L1023.9 329.6Z"/>
<path fill="#3a548c" stroke="#3a548c" stroke-width="0.6" fill-rule="evenodd" d="M1297.1 236.3L1290.2 257.2L1293.3 268.7L1267.3 276.1L1254.4 297.3L1263.2 325.4L1296.8 325.4L1297.1 309.3L1297.1 440.3L1140.6 440.3L1127.0 439.3L1109.9 410.7L1077.6 407.6L1059.3 383.1L1041.6 353.5L1038.2 349.8L1023.9 360.0L1023.9 329.6L1025.4 328.5L1031.3 335.1L1034.1 337.4L1041.7 346.2L1044.6 348.6L1065.2 383.1L1080.0 403.6L1105.7 405.7L1112.9 405.7L1129.9 434.3L1131.7 435.0L1158.4 436.8L1192.5 436.8L1209.6 408.2L1243.8 408.2L1258.7 383.1L1248.3 358.7L1250.8 354.5L1248.3 350.4L1254.4 336.7L1255.4 333.1L1260.8 322.4L1252.9 297.3L1266.6 274.9L1288.5 268.7L1286.1 261.6L1285.6 258.0L1283.2 250.9L1282.8 247.3L1281.1 242.0L1291.2 211.6L1277.1 187.9L1252.3 193.8L1242.9 188.0L1238.7 183.0L1236.8 179.4L1236.3 177.5L1226.1 158.9L1192.5 157.9L1190.4 154.4L1185.3 148.5L1182.4 146.2L1174.9 137.4L1172.0 135.1L1137.9 135.1L1129.9 134.1L1113.7 133.2L1097.1 162.5L1061.9 160.7L1050.8 183.0L1045.9 191.2L1031.6 210.2L1029.9 211.6L1026.8 221.0L1023.9 237.5L1023.9 216.3L1024.8 211.6L1043.7 187.5L1048.2 179.4L1059.3 156.4L1094.7 158.5L1111.2 129.0L1140.4 130.9L1174.5 130.9L1191.3 148.8L1199.6 146.0L1227.8 152.8L1244.0 125.8L1221.4 109.6L1202.0 109.6L1189.4 106.0L1131.6 106.0L1119.0 109.6L1099.6 109.6L1075.9 127.0L1050.3 141.3L1042.4 154.4L1029.2 163.2L1023.9 195.7L1023.9 97.2L1297.1 97.2ZM1023.9 423.6L1027.9 433.6L1031.9 440.3L1023.9 440.3ZM1249.3 184.4L1255.3 183.0L1253.0 171.1L1231.6 159.1L1244.6 183.0L1247.0 185.0Z"/>
<path fill="#34608d" stroke="#34608d" stroke-width="0.6" fill-rule="evenodd" d="M1297.1 309.3L1296.8 325.4L1263.2 325.4L1254.4 297.3L1267.3 276.1L1293.3 268.7L1290.2 257.2L1297.1 236.3ZM1031.9 440.3L1027.9 433.6L1023.9 423.6L1023.9 360.0L1038.2 349.8L1041.6 353.5L1059.3 383.1L1077.6 407.6L1109.9 410.7L1127.0 439.3L1140.6 440.3ZM1023.9 195.7L1029.2 163.2L1042.4 154.4L1050.3 141.3L1075.9 127.0L1099.6 109.6L1119.0 109.6L1131.6 106.0L1189.4 106.0L1202.0 109.6L1221.4 109.6L1244.0 125.8L1227.8 152.8L1199.6 146.0L1191.3 148.8L1174.5 130.9L1140.4 130.9L1111.2 129.0L1094.7 158.5L1059.3 156.4L1046.4 183.0L1039.0 193.9L1024.8 211.6L1023.9 216.3ZM1247.0 185.0L1244.6 183.0L1231.6 159.1L1253.0 171.1L1255.3 183.0ZM1141.8 123.1L1132.1 125.8L1143.0 126.5L1177.2 126.5L1179.5 129.0L1189.0 125.8L1179.2 123.1ZM1038.9 183.4L1038.2 187.7L1041.4 183.6L1044.8 176.6L1039.4 180.2ZM1296.7 269.3L1268.1 277.4L1256.0 297.3L1264.3 323.7L1295.7 323.7Z"/>
<path fill="#2f6c8e" stroke="#2f6c8e" stroke-width="0.6" fill-rule="evenodd" d="M1145.1 123.1L1179.2 123.1L1189.0 125.8L1179.5 129.0L1177.2 126.5L1143.0 126.5L1132.1 125.8L1141.8 123.1ZM1039.4 180.2L1044.8 176.6L1041.4 183.6L1038.2 187.7ZM1296.6 275.1L1295.7 323.7L1264.3 323.7L1256.0 297.3L1268.1 277.4L1296.7 269.3ZM1295.6 271.2L1268.9 278.8L1257.6 297.3L1265.3 321.9L1294.7 321.9Z"/>
<path fill="#2a768e" stroke="#2a768e" stroke-width="0.6" fill-rule="evenodd" d="M1295.6 273.4L1294.7 321.9L1265.3 321.9L1257.6 297.3L1268.9 278.8L1295.6 271.2ZM1294.5 273.1L1269.7 280.1L1259.2 297.3L1266.4 320.2L1293.6 320.2Z"/>
<path fill="#26818e" stroke="#26818e" stroke-width="0.6" fill-rule="evenodd" d="M1294.4 278.6L1293.6 320.2L1266.4 320.2L1259.2 297.3L1269.7 280.1L1294.5 273.1ZM1293.4 274.9L1270.5 281.4L1260.8 297.3L1267.4 318.4L1292.6 318.4Z"/>
<path fill="#228b8d" stroke="#228b8d" stroke-width="0.6" fill-rule="evenodd" d="M1293.3 276.8L1292.6 318.4L1267.4 318.4L1260.8 297.3L1270.5 281.4L1293.4 274.9ZM1292.3 276.8L1271.3 282.7L1262.3 297.3L1268.4 316.7L1291.5 316.7Z"/>
<path fill="#1f958b" stroke="#1f958b" stroke-width="0.6" fill-rule="evenodd" d="M1292.2 282.0L1291.5 316.7L1268.4 316.7L1262.3 297.3L1271.3 282.7L1292.3 276.8ZM1291.2 278.7L1272.1 284.1L1263.9 297.3L1269.5 314.9L1290.5 314.9Z"/>
<path fill="#1fa088" stroke="#1fa088" stroke-width="0.6" fill-rule="evenodd" d="M1291.1 280.2L1290.5 314.9L1269.5 314.9L1263.9 297.3L1272.1 284.1L1291.2 278.7ZM1290.0 280.5L1272.9 285.4L1265.5 297.3L1270.5 313.2L1289.5 313.2Z"/>
<path fill="#24aa83" stroke="#24aa83" stroke-width="0.6" fill-rule="evenodd" d="M1290.0 285.4L1289.5 313.2L1270.5 313.2L1265.5 297.3L1272.9 285.4L1290.0 280.5ZM1288.9 282.4L1273.6 286.7L1267.1 297.3L1271.6 311.4L1288.4 311.4Z"/>
<path fill="#2fb47c" stroke="#2fb47c" stroke-width="0.6" fill-rule="evenodd" d="M1288.9 283.7L1288.4 311.4L1271.6 311.4L1267.1 297.3L1273.6 286.7L1288.9 282.4ZM1287.8 284.2L1274.4 288.0L1268.7 297.3L1272.6 309.7L1287.4 309.7Z"/>
<path fill="#42be71" stroke="#42be71" stroke-width="0.6" fill-rule="evenodd" d="M1287.7 288.9L1287.4 309.7L1272.6 309.7L1268.7 297.3L1274.4 288.0L1287.8 284.2ZM1286.7 286.1L1275.2 289.3L1270.3 297.3L1273.7 307.9L1286.3 307.9Z"/>
<path fill="#58c765" stroke="#58c765" stroke-width="0.6" fill-rule="evenodd" d="M1286.7 287.1L1286.3 307.9L1273.7 307.9L1270.3 297.3L1275.2 289.3L1286.7 286.1ZM1285.6 288.0L1276.0 290.7L1271.9 297.3L1274.7 306.2L1285.3 306.2Z"/>
<path fill="#70cf57" stroke="#70cf57" stroke-width="0.6" fill-rule="evenodd" d="M1285.5 292.3L1285.3 306.2L1274.7 306.2L1271.9 297.3L1276.0 290.7L1285.6 288.0ZM1284.3 302.1L1284.5 289.8L1276.8 292.0L1273.5 297.3L1275.8 304.4L1284.2 304.4Z"/>
<path fill="#8bd646" stroke="#8bd646" stroke-width="0.6" fill-rule="evenodd" d="M1284.2 304.4L1275.8 304.4L1273.5 297.3L1276.8 292.0L1284.5 289.8ZM1283.4 291.7L1277.6 293.3L1275.1 297.3L1276.8 302.7L1283.2 302.7Z"/>
<path fill="#a8db34" stroke="#a8db34" stroke-width="0.6" fill-rule="evenodd" d="M1283.3 295.7L1283.2 302.7L1276.8 302.7L1275.1 297.3L1277.6 293.3L1283.4 291.7ZM1282.1 300.9L1282.3 293.5L1278.4 294.6L1276.7 297.3L1277.9 300.9Z"/>
<path fill="#c5e021" stroke="#c5e021" stroke-width="0.6" fill-rule="evenodd" d="M1282.1 300.9L1277.9 300.9L1276.7 297.3L1278.4 294.6L1282.3 293.5ZM1281.2 295.4L1279.2 296.0L1278.3 297.3L1278.9 299.2L1281.1 299.2Z"/>
<path fill="#e2e418" stroke="#e2e418" stroke-width="0.6" fill-rule="evenodd" d="M1281.1 299.2L1278.9 299.2L1278.3 297.3L1279.2 296.0L1281.2 295.4Z"/>
<path fill="#fde725" stroke="#fde725" stroke-width="0.6" fill-rule="evenodd" d=""/>
</g>
<clipPath id="ax1"><rect x="942" y="40" width="437" height="457.5"/></clipPath>
<g fill="#000" clip-path="url(#ax1)"><circle cx="1023.9" cy="97.2" r="3.9"/><circle cx="1058.1" cy="97.2" r="3.9"/><circle cx="1092.2" cy="97.2" r="3.9"/><circle cx="1126.4" cy="97.2" r="3.9"/><circle cx="1160.5" cy="97.2" r="3.9"/><circle cx="1194.6" cy="97.2" r="3.9"/><circle cx="1228.8" cy="97.2" r="3.9"/><circle cx="1262.9" cy="97.2" r="3.9"/><circle cx="1297.1" cy="97.2" r="3.9"/><circle cx="1041.0" cy="125.8" r="3.9"/><circle cx="1075.1" cy="125.8" r="3.9"/><circle cx="1109.3" cy="125.8" r="3.9"/><circle cx="1143.4" cy="125.8" r="3.9"/><circle cx="1177.6" cy="125.8" r="3.9"/><circle cx="1211.7" cy="125.8" r="3.9"/><circle cx="1245.9" cy="125.8" r="3.9"/><circle cx="1280.0" cy="125.8" r="3.9"/><circle cx="1023.9" cy="154.4" r="3.9"/><circle cx="1058.1" cy="154.4" r="3.9"/><circle cx="1092.2" cy="154.4" r="3.9"/><circle cx="1126.4" cy="154.4" r="3.9"/><circle cx="1160.5" cy="154.4" r="3.9"/><circle cx="1194.6" cy="154.4" r="3.9"/><circle cx="1228.8" cy="154.4" r="3.9"/><circle cx="1262.9" cy="154.4" r="3.9"/><circle cx="1297.1" cy="154.4" r="3.9"/><circle cx="1041.0" cy="183.0" r="3.9"/><circle cx="1075.1" cy="183.0" r="3.9"/><circle cx="1109.3" cy="183.0" r="3.9"/><circle cx="1143.4" cy="183.0" r="3.9"/><circle cx="1177.6" cy="183.0" r="3.9"/><circle cx="1211.7" cy="183.0" r="3.9"/><circle cx="1245.9" cy="183.0" r="3.9"/><circle cx="1280.0" cy="183.0" r="3.9"/><circle cx="1023.9" cy="211.6" r="3.9"/><circle cx="1058.1" cy="211.6" r="3.9"/><circle cx="1092.2" cy="211.6" r="3.9"/><circle cx="1126.4" cy="211.6" r="3.9"/><circle cx="1160.5" cy="211.6" r="3.9"/><circle cx="1194.6" cy="211.6" r="3.9"/><circle cx="1228.8" cy="211.6" r="3.9"/><circle cx="1262.9" cy="211.6" r="3.9"/><circle cx="1297.1" cy="211.6" r="3.9"/><circle cx="1041.0" cy="240.2" r="3.9"/><circle cx="1075.1" cy="240.2" r="3.9"/><circle cx="1109.3" cy="240.2" r="3.9"/><circle cx="1143.4" cy="240.2" r="3.9"/><circle cx="1177.6" cy="240.2" r="3.9"/><circle cx="1211.7" cy="240.2" r="3.9"/><circle cx="1245.9" cy="240.2" r="3.9"/><circle cx="1280.0" cy="240.2" r="3.9"/><circle cx="1023.9" cy="268.7" r="3.9"/><circle cx="1058.1" cy="268.7" r="3.9"/><circle cx="1092.2" cy="268.7" r="3.9"/><circle cx="1126.4" cy="268.7" r="3.9"/><circle cx="1160.5" cy="268.7" r="3.9"/><circle cx="1194.6" cy="268.7" r="3.9"/><circle cx="1228.8" cy="268.7" r="3.9"/><circle cx="1262.9" cy="268.7" r="3.9"/><circle cx="1297.1" cy="268.7" r="3.9"/><circle cx="1041.0" cy="297.3" r="3.9"/><circle cx="1075.1" cy="297.3" r="3.9"/><circle cx="1109.3" cy="297.3" r="3.9"/><circle cx="1143.4" cy="297.3" r="3.9"/><circle cx="1177.6" cy="297.3" r="3.9"/><circle cx="1211.7" cy="297.3" r="3.9"/><circle cx="1245.9" cy="297.3" r="3.9"/><circle cx="1280.0" cy="297.3" r="3.9"/><circle cx="1023.9" cy="325.9" r="3.9"/><circle cx="1058.1" cy="325.9" r="3.9"/><circle cx="1092.2" cy="325.9" r="3.9"/><circle cx="1126.4" cy="325.9" r="3.9"/><circle cx="1160.5" cy="325.9" r="3.9"/><circle cx="1194.6" cy="325.9" r="3.9"/><circle cx="1228.8" cy="325.9" r="3.9"/><circle cx="1262.9" cy="325.9" r="3.9"/><circle cx="1297.1" cy="325.9" r="3.9"/><circle cx="1041.0" cy="354.5" r="3.9"/><circle cx="1075.1" cy="354.5" r="3.9"/><circle cx="1109.3" cy="354.5" r="3.9"/><circle cx="1143.4" cy="354.5" r="3.9"/><circle cx="1177.6" cy="354.5" r="3.9"/><circle cx="1211.7" cy="354.5" r="3.9"/><circle cx="1245.9" cy="354.5" r="3.9"/><circle cx="1280.0" cy="354.5" r="3.9"/><circle cx="1023.9" cy="383.1" r="3.9"/><circle cx="1058.1" cy="383.1" r="3.9"/><circle cx="1092.2" cy="383.1" r="3.9"/><circle cx="1126.4" cy="383.1" r="3.9"/><circle cx="1160.5" cy="383.1" r="3.9"/><circle cx="1194.6" cy="383.1" r="3.9"/><circle cx="1228.8" cy="383.1" r="3.9"/><circle cx="1262.9" cy="383.1" r="3.9"/><circle cx="1297.1" cy="383.1" r="3.9"/><circle cx="1041.0" cy="411.7" r="3.9"/><circle cx="1075.1" cy="411.7" r="3.9"/><circle cx="1109.3" cy="411.7" r="3.9"/><circle cx="1143.4" cy="411.7" r="3.9"/><circle cx="1177.6" cy="411.7" r="3.9"/><circle cx="1211.7" cy="411.7" r="3.9"/><circle cx="1245.9" cy="411.7" r="3.9"/><circle cx="1280.0" cy="411.7" r="3.9"/><circle cx="1023.9" cy="440.3" r="3.9"/><circle cx="1058.1" cy="440.3" r="3.9"/><circle cx="1092.2" cy="440.3" r="3.9"/><circle cx="1126.4" cy="440.3" r="3.9"/><circle cx="1160.5" cy="440.3" r="3.9"/><circle cx="1194.6" cy="440.3" r="3.9"/><circle cx="1228.8" cy="440.3" r="3.9"/><circle cx="1262.9" cy="440.3" r="3.9"/><circle cx="1297.1" cy="440.3" r="3.9"/></g>
<rect x="942" y="40" width="437" height="457.5" fill="none" stroke="#000" stroke-width="4"/>
<path d="M926.0 497.5h16M942.0 498.5v15M933.0 459.4h9M978.4 498.5v8M926.0 421.2h16M1014.8 498.5v15M933.0 383.1h9M1051.3 498.5v8M926.0 345.0h16M1087.7 498.5v15M933.0 306.9h9M1124.1 498.5v8M926.0 268.7h16M1160.5 498.5v15M933.0 230.6h9M1196.9 498.5v8M926.0 192.5h16M1233.3 498.5v15M933.0 154.4h9M1269.8 498.5v8M926.0 116.2h16M1306.2 498.5v15M933.0 78.1h9M1342.6 498.5v8M926.0 40.0h16M1379.0 498.5v15" stroke="#000" stroke-width="4" fill="none"/>
<g style="font-family:'Liberation Sans',Arial,sans-serif;font-size:30px" fill="#000"><text x="915.0" y="508.2" text-anchor="end">-0.6</text><text x="942.0" y="547" text-anchor="middle">-0.6</text><text x="915.0" y="431.9" text-anchor="end">-0.4</text><text x="1014.8" y="547" text-anchor="middle">-0.4</text><text x="915.0" y="355.7" text-anchor="end">-0.2</text><text x="1087.7" y="547" text-anchor="middle">-0.2</text><text x="915.0" y="279.4" text-anchor="end">0.0</text><text x="1160.5" y="547" text-anchor="middle">0.0</text><text x="915.0" y="203.2" text-anchor="end">0.2</text><text x="1233.3" y="547" text-anchor="middle">0.2</text><text x="915.0" y="126.9" text-anchor="end">0.4</text><text x="1306.2" y="547" text-anchor="middle">0.4</text><text x="915.0" y="50.7" text-anchor="end">0.6</text><text x="1379.0" y="547" text-anchor="middle">0.6</text></g>
<text style="font-family:'Liberation Sans',Arial,sans-serif;font-size:35px" x="1160.5" y="604" text-anchor="middle">x / cm</text>
<text style="font-family:'Liberation Sans',Arial,sans-serif;font-size:35px" transform="translate(845.0,268.5) rotate(-90)" text-anchor="middle">y / cm</text>
<text style="font-family:'Liberation Sans',Arial,sans-serif;font-size:30px" x="1397.0" y="50.8"><tspan font-style="italic">d</tspan>(TiO<tspan font-size="20px" dy="8">2</tspan><tspan dy="-8">) / nm</tspan></text>
<rect x="1420.3" y="71.1" width="21.5" height="423.6" fill="#000"/>
<rect x="1424.0" y="75" width="14" height="14.5" fill="#808080"/>
<rect x="1424.0" y="460.55" width="14" height="16.45" fill="#440154"/>
<rect x="1424.0" y="444.39" width="14" height="16.45" fill="#471164"/>
<rect x="1424.0" y="428.24" width="14" height="16.45" fill="#482071"/>
<rect x="1424.0" y="412.08" width="14" height="16.45" fill="#472e7c"/>
<rect x="1424.0" y="395.93" width="14" height="16.45" fill="#443b84"/>
<rect x="1424.0" y="379.77" width="14" height="16.45" fill="#3f4889"/>
<rect x="1424.0" y="363.62" width="14" height="16.45" fill="#3a548c"/>
<rect x="1424.0" y="347.47" width="14" height="16.45" fill="#34608d"/>
<rect x="1424.0" y="331.31" width="14" height="16.45" fill="#2f6c8e"/>
<rect x="1424.0" y="315.16" width="14" height="16.45" fill="#2a768e"/>
<rect x="1424.0" y="299.00" width="14" height="16.45" fill="#26818e"/>
<rect x="1424.0" y="282.85" width="14" height="16.45" fill="#228b8d"/>
<rect x="1424.0" y="266.70" width="14" height="16.45" fill="#1f958b"/>
<rect x="1424.0" y="250.54" width="14" height="16.45" fill="#1fa088"/>
<rect x="1424.0" y="234.39" width="14" height="16.45" fill="#24aa83"/>
<rect x="1424.0" y="218.23" width="14" height="16.45" fill="#2fb47c"/>
<rect x="1424.0" y="202.08" width="14" height="16.45" fill="#42be71"/>
<rect x="1424.0" y="185.93" width="14" height="16.45" fill="#58c765"/>
<rect x="1424.0" y="169.77" width="14" height="16.45" fill="#70cf57"/>
<rect x="1424.0" y="153.62" width="14" height="16.45" fill="#8bd646"/>
<rect x="1424.0" y="137.46" width="14" height="16.45" fill="#a8db34"/>
<rect x="1424.0" y="121.31" width="14" height="16.45" fill="#c5e021"/>
<rect x="1424.0" y="105.15" width="14" height="16.45" fill="#e2e418"/>
<rect x="1424.0" y="89.00" width="14" height="16.45" fill="#fde725"/>
<rect x="1424.0" y="476.7" width="14" height="14.3" fill="#000"/>
<text style="font-family:'Liberation Sans',Arial,sans-serif;font-size:30px" x="1463.0" y="99.3">120.00</text>
<text style="font-family:'Liberation Sans',Arial,sans-serif;font-size:30px" x="1463.0" y="196.2">95.00</text>
<text style="font-family:'Liberation Sans',Arial,sans-serif;font-size:30px" x="1463.0" y="293.2">70.00</text>
<text style="font-family:'Liberation Sans',Arial,sans-serif;font-size:30px" x="1463.0" y="390.1">45.00</text>
<text style="font-family:'Liberation Sans',Arial,sans-serif;font-size:30px" x="1463.0" y="487.0">20.00</text>
<path d="M1441.8 89.0h14M1441.8 185.9h14M1441.8 282.9h14M1441.8 379.8h14M1441.8 476.7h14" stroke="#000" stroke-width="4"/>
<clipPath id="cp2"><rect x="1820.7" y="97.2" width="309.5" height="343.1"/></clipPath>
<g clip-path="url(#cp2)">
<path fill="#443b84" stroke="#443b84" stroke-width="0.6" fill-rule="evenodd" d="M1890.4 97.2L1886.5 104.3L1881.5 125.8L1871.4 133.5L1855.6 154.4L1853.6 157.9L1840.1 183.0L1837.2 184.8L1834.3 186.5L1834.3 179.4L1847.8 154.4L1834.3 129.4L1832.3 118.6L1843.9 97.2L1851.7 97.2L1882.6 97.2Z"/>
<path fill="#3f4889" stroke="#3f4889" stroke-width="0.6" fill-rule="evenodd" d="M1843.9 97.2L1832.3 118.6L1834.3 129.4L1847.8 154.4L1834.3 179.4L1834.3 186.5L1837.2 184.8L1840.1 183.0L1853.6 157.9L1855.6 154.4L1871.4 133.5L1881.5 125.8L1886.5 104.3L1890.4 97.2L1913.6 97.2L1944.5 97.2L1975.5 97.2L1991.0 97.2L1983.2 111.5L1967.8 111.5L1952.3 111.5L1936.8 111.5L1921.3 111.5L1913.6 125.8L1900.7 130.5L1890.4 140.1L1879.4 148.4L1874.9 154.4L1863.3 175.8L1859.4 183.0L1842.0 193.7L1824.6 204.4L1824.6 161.5L1828.5 154.4L1824.6 147.2L1820.7 125.8L1820.7 97.2Z"/>
<path fill="#3a548c" stroke="#3a548c" stroke-width="0.6" fill-rule="evenodd" d="M1820.7 125.8L1824.6 147.2L1828.5 154.4L1824.6 161.5L1824.6 204.4L1842.0 193.7L1859.4 183.0L1863.3 175.8L1874.9 154.4L1879.4 148.4L1890.4 140.1L1900.7 130.5L1913.6 125.8L1921.3 111.5L1936.8 111.5L1952.3 111.5L1967.8 111.5L1983.2 111.5L1991.0 97.2L2006.5 97.2L2037.4 97.2L2068.4 97.2L2099.3 97.2L2130.3 97.2L2130.3 154.4L2130.3 165.1L2124.5 165.1L2105.1 165.1L2093.5 165.1L2074.2 165.1L2064.5 161.5L2060.6 154.4L2049.0 132.9L2025.8 132.9L2018.1 132.9L1994.8 132.9L1987.1 132.9L1963.9 132.9L1956.2 132.9L1932.9 132.9L1923.3 136.5L1907.1 142.5L1894.2 154.4L1883.6 156.2L1869.1 183.0L1883.6 209.8L1912.6 209.8L1925.2 190.1L1932.9 190.1L1956.2 190.1L1963.9 190.1L1987.1 190.1L1994.8 190.1L2018.1 190.1L2025.8 190.1L2041.3 204.4L2064.5 204.4L2074.2 200.8L2080.0 211.6L2089.6 229.4L2091.6 240.2L2095.5 261.6L2091.6 268.7L2080.0 290.2L2076.1 297.3L2080.0 304.5L2080.0 325.9L2074.2 336.7L2066.0 330.2L2039.7 330.2L2026.6 354.5L2027.7 365.3L2018.1 383.1L2012.3 393.8L1994.8 404.6L1987.1 404.6L1963.9 404.6L1956.2 404.6L1940.7 390.3L1921.3 383.1L1917.5 376.0L1909.7 376.0L1892.3 365.3L1886.5 354.5L1876.8 336.7L1871.0 325.9L1876.8 315.2L1886.5 297.3L1876.8 279.5L1871.0 268.7L1871.0 247.3L1874.9 240.2L1871.0 233.0L1871.0 211.6L1861.4 193.7L1846.8 202.6L1832.3 211.6L1826.5 222.3L1820.7 225.9L1820.7 211.6L1820.7 154.4ZM2124.5 440.3L2124.5 429.6L2130.3 418.9L2130.3 440.3ZM1820.7 418.9L1830.4 401.0L1840.1 404.6L1847.8 411.7L1842.0 422.4L1832.3 440.3L1820.7 440.3ZM2126.4 104.3L2103.2 104.3L2087.7 118.6L2080.0 118.6L2076.1 125.8L2080.0 132.9L2087.7 132.9L2103.2 147.2L2126.4 147.2ZM1920.0 268.7L1932.3 291.4L1956.8 291.4L1969.1 268.7L1956.8 246.1L1932.3 246.1Z"/>
<path fill="#34608d" stroke="#34608d" stroke-width="0.6" fill-rule="evenodd" d="M2130.3 183.0L2114.8 183.0L2083.8 183.0L2058.0 173.4L2047.7 154.4L2042.6 144.8L2032.3 144.8L2011.6 144.8L2001.3 144.8L1980.7 144.8L1970.3 144.8L1949.7 144.8L1939.4 144.8L1913.6 154.4L1885.2 159.1L1872.3 183.0L1885.2 206.8L1911.0 206.8L1926.3 183.0L1913.6 154.4L1936.8 168.7L1952.3 168.7L1967.8 168.7L1983.2 168.7L1998.7 168.7L2014.2 168.7L2029.7 168.7L2037.4 183.0L2047.7 192.5L2058.0 192.5L2083.8 183.0L2099.3 211.6L2104.5 240.2L2107.1 254.5L2114.8 268.7L2107.1 283.0L2099.3 297.3L2099.3 325.9L2083.8 354.5L2062.2 337.4L2043.6 337.4L2034.3 354.5L2037.4 383.1L2021.9 411.7L1994.8 418.9L1985.8 421.2L1965.2 421.2L1954.9 421.2L1944.5 411.7L1934.2 402.2L1921.3 397.4L1908.4 392.7L1882.6 383.1L1867.2 354.5L1851.7 325.9L1867.2 297.3L1851.7 268.7L1836.2 240.2L1851.7 211.6L1836.2 240.2L1820.7 249.7L1820.7 225.9L1826.5 222.3L1832.3 211.6L1846.8 202.6L1861.4 193.7L1871.0 211.6L1871.0 233.0L1874.9 240.2L1871.0 247.3L1871.0 268.7L1876.8 279.5L1886.5 297.3L1876.8 315.2L1871.0 325.9L1876.8 336.7L1886.5 354.5L1892.3 365.3L1909.7 376.0L1917.5 376.0L1921.3 383.1L1940.7 390.3L1956.2 404.6L1963.9 404.6L1987.1 404.6L1994.8 404.6L2012.3 393.8L2018.1 383.1L2027.7 365.3L2026.6 354.5L2039.7 330.2L2066.0 330.2L2074.2 336.7L2080.0 325.9L2080.0 304.5L2076.1 297.3L2080.0 290.2L2091.6 268.7L2095.5 261.6L2091.6 240.2L2089.6 229.4L2080.0 211.6L2074.2 200.8L2064.5 204.4L2041.3 204.4L2025.8 190.1L2018.1 190.1L1994.8 190.1L1987.1 190.1L1963.9 190.1L1956.2 190.1L1932.9 190.1L1925.2 190.1L1912.6 209.8L1883.6 209.8L1869.1 183.0L1883.6 156.2L1894.2 154.4L1907.1 142.5L1923.3 136.5L1932.9 132.9L1956.2 132.9L1963.9 132.9L1987.1 132.9L1994.8 132.9L2018.1 132.9L2025.8 132.9L2049.0 132.9L2060.6 154.4L2064.5 161.5L2074.2 165.1L2093.5 165.1L2105.1 165.1L2124.5 165.1L2130.3 165.1ZM2130.3 418.9L2124.5 429.6L2124.5 440.3L2114.8 440.3L2114.8 411.7L2130.3 383.1ZM1832.3 440.3L1842.0 422.4L1847.8 411.7L1840.1 404.6L1830.4 401.0L1820.7 418.9L1820.7 383.1L1846.5 392.7L1867.2 411.7L1851.7 440.3ZM2126.4 147.2L2103.2 147.2L2087.7 132.9L2080.0 132.9L2076.1 125.8L2080.0 118.6L2087.7 118.6L2103.2 104.3L2126.4 104.3ZM1932.3 246.1L1956.8 246.1L1969.1 268.7L1956.8 291.4L1932.3 291.4L1920.0 268.7ZM2120.0 116.2L2109.6 116.2L2099.3 125.8L2109.6 135.3L2120.0 135.3ZM1930.8 268.7L1937.7 281.5L1951.4 281.5L1958.3 268.7L1951.4 256.0L1937.7 256.0Z"/>
<path fill="#2f6c8e" stroke="#2f6c8e" stroke-width="0.6" fill-rule="evenodd" d="M2130.3 200.8L2124.5 200.8L2118.7 211.6L2118.7 233.0L2130.3 254.5L2130.3 268.7L2130.3 325.9L2130.3 383.1L2114.8 411.7L2114.8 440.3L2105.1 440.3L2105.1 429.6L2095.5 411.7L2095.5 390.3L2072.2 390.3L2064.5 390.3L2047.1 401.0L2041.3 411.7L2025.2 417.7L2015.5 423.6L1999.7 427.8L1979.4 433.2L1971.6 433.2L1948.4 433.2L1932.9 418.9L1925.2 418.9L1921.3 411.7L1902.0 404.6L1892.3 401.0L1886.5 411.7L1876.8 429.6L1871.0 440.3L1851.7 440.3L1867.2 411.7L1846.5 392.7L1820.7 383.1L1820.7 347.4L1832.3 347.4L1832.3 325.9L1832.3 304.5L1820.7 283.0L1820.7 268.7L1820.7 249.7L1836.2 240.2L1851.7 211.6L1836.2 240.2L1851.7 268.7L1867.2 297.3L1851.7 325.9L1867.2 354.5L1882.6 383.1L1908.4 392.7L1921.3 397.4L1934.2 402.2L1944.5 411.7L1954.9 421.2L1965.2 421.2L1985.8 421.2L1994.8 418.9L2021.9 411.7L2037.4 383.1L2034.3 354.5L2043.6 337.4L2062.2 337.4L2083.8 354.5L2099.3 325.9L2099.3 297.3L2107.1 283.0L2114.8 268.7L2107.1 254.5L2104.5 240.2L2099.3 211.6L2083.8 183.0L2058.0 192.5L2047.7 192.5L2037.4 183.0L2029.7 168.7L2014.2 168.7L1998.7 168.7L1983.2 168.7L1967.8 168.7L1952.3 168.7L1936.8 168.7L1913.6 154.4L1926.3 183.0L1911.0 206.8L1885.2 206.8L1872.3 183.0L1885.2 159.1L1913.6 154.4L1939.4 144.8L1949.7 144.8L1970.3 144.8L1980.7 144.8L2001.3 144.8L2011.6 144.8L2032.3 144.8L2042.6 144.8L2047.7 154.4L2058.0 173.4L2083.8 183.0L2114.8 183.0L2130.3 183.0ZM2120.0 135.3L2109.6 135.3L2099.3 125.8L2109.6 116.2L2120.0 116.2ZM1937.7 256.0L1951.4 256.0L1958.3 268.7L1951.4 281.5L1937.7 281.5L1930.8 268.7ZM1941.5 268.7L1943.0 271.5L1946.1 271.5L1947.6 268.7L1946.1 266.0L1943.0 266.0ZM1875.5 183.0L1886.8 203.8L1909.4 203.8L1922.7 183.0L1911.7 157.9L1886.8 162.1ZM2058.3 344.5L2047.5 344.5L2042.1 354.5L2043.9 371.2L2066.4 379.6L2070.9 354.5Z"/>
<path fill="#2a768e" stroke="#2a768e" stroke-width="0.6" fill-rule="evenodd" d="M2130.3 254.5L2118.7 233.0L2118.7 211.6L2124.5 200.8L2130.3 200.8L2130.3 211.6ZM2096.7 440.3L2082.6 414.1L2054.2 414.1L2051.0 415.3L2028.4 423.6L2009.0 435.5L2004.5 436.7L1991.0 440.3L1975.5 440.3L1944.5 440.3L1913.6 440.3L1882.6 440.3L1871.0 440.3L1876.8 429.6L1886.5 411.7L1892.3 401.0L1902.0 404.6L1921.3 411.7L1925.2 418.9L1932.9 418.9L1948.4 433.2L1971.6 433.2L1979.4 433.2L1999.7 427.8L2015.5 423.6L2025.2 417.7L2041.3 411.7L2047.1 401.0L2064.5 390.3L2072.2 390.3L2095.5 390.3L2095.5 411.7L2105.1 429.6L2105.1 440.3L2099.3 440.3ZM1820.7 283.0L1832.3 304.5L1832.3 325.9L1832.3 347.4L1820.7 347.4L1820.7 325.9ZM1943.0 266.0L1946.1 266.0L1947.6 268.7L1946.1 271.5L1943.0 271.5L1941.5 268.7ZM1886.8 162.1L1911.7 157.9L1922.7 183.0L1909.4 203.8L1886.8 203.8L1875.5 183.0ZM2070.9 354.5L2066.4 379.6L2043.9 371.2L2042.1 354.5L2047.5 344.5L2058.3 344.5ZM1878.8 183.0L1888.4 200.8L1907.8 200.8L1919.2 183.0L1909.7 161.5L1888.4 165.1ZM2054.4 351.7L2051.3 351.7L2049.8 354.5L2050.3 359.3L2056.8 361.7L2058.0 354.5Z"/>
<path fill="#26818e" stroke="#26818e" stroke-width="0.6" fill-rule="evenodd" d="M2090.3 440.3L2079.3 420.1L2057.4 420.1L2046.1 424.2L2031.6 429.6L2014.2 440.3L2006.5 440.3L1991.0 440.3L2004.5 436.7L2009.0 435.5L2028.4 423.6L2051.0 415.3L2054.2 414.1L2082.6 414.1L2096.7 440.3ZM1888.4 165.1L1909.7 161.5L1919.2 183.0L1907.8 200.8L1888.4 200.8L1878.8 183.0ZM2058.0 354.5L2056.8 361.7L2050.3 359.3L2049.8 354.5L2051.3 351.7L2054.4 351.7ZM1882.0 183.0L1890.1 197.9L1906.2 197.9L1915.7 183.0L1907.8 165.1L1890.1 168.1Z"/>
<path fill="#228b8d" stroke="#228b8d" stroke-width="0.6" fill-rule="evenodd" d="M2083.8 440.3L2076.1 426.0L2060.6 426.0L2041.3 433.2L2034.8 435.5L2027.1 440.3L2014.2 440.3L2031.6 429.6L2046.1 424.2L2057.4 420.1L2079.3 420.1L2090.3 440.3ZM1890.1 168.1L1907.8 165.1L1915.7 183.0L1906.2 197.9L1890.1 197.9L1882.0 183.0ZM1885.2 183.0L1891.7 194.9L1904.6 194.9L1912.2 183.0L1905.9 168.7L1891.7 171.1Z"/>
<path fill="#1f958b" stroke="#1f958b" stroke-width="0.6" fill-rule="evenodd" d="M2077.4 440.3L2072.9 432.0L2063.9 432.0L2041.3 440.3L2037.4 440.3L2027.1 440.3L2034.8 435.5L2041.3 433.2L2060.6 426.0L2076.1 426.0L2083.8 440.3ZM1891.7 171.1L1905.9 168.7L1912.2 183.0L1904.6 194.9L1891.7 194.9L1885.2 183.0ZM1888.4 183.0L1893.3 191.9L1903.0 191.9L1908.7 183.0L1903.9 172.2L1893.3 174.0Z"/>
<path fill="#1fa088" stroke="#1fa088" stroke-width="0.6" fill-rule="evenodd" d="M2070.9 440.3L2069.7 437.9L2067.1 437.9L2060.6 440.3L2041.3 440.3L2063.9 432.0L2072.9 432.0L2077.4 440.3ZM1893.3 174.0L1903.9 172.2L1908.7 183.0L1903.0 191.9L1893.3 191.9L1888.4 183.0ZM1891.7 183.0L1894.9 188.9L1901.3 188.9L1905.2 183.0L1902.0 175.8L1894.9 177.0Z"/>
<path fill="#24aa83" stroke="#24aa83" stroke-width="0.6" fill-rule="evenodd" d="M2060.6 440.3L2067.1 437.9L2069.7 437.9L2070.9 440.3L2068.4 440.3ZM1894.9 177.0L1902.0 175.8L1905.2 183.0L1901.3 188.9L1894.9 188.9L1891.7 183.0ZM1894.9 183.0L1896.5 185.9L1899.7 185.9L1901.6 183.0L1900.1 179.4L1896.5 180.0Z"/>
<path fill="#2fb47c" stroke="#2fb47c" stroke-width="0.6" fill-rule="evenodd" d="M1896.5 180.0L1900.1 179.4L1901.6 183.0L1899.7 185.9L1896.5 185.9L1894.9 183.0Z"/>
<path fill="#42be71" stroke="#42be71" stroke-width="0.6" fill-rule="evenodd" d=""/>
</g>
<clipPath id="ax2"><rect x="1757" y="40" width="437" height="457.5"/></clipPath>
<g fill="#000" clip-path="url(#ax2)"><circle cx="1820.7" cy="97.2" r="3.9"/><circle cx="1851.7" cy="97.2" r="3.9"/><circle cx="1882.6" cy="97.2" r="3.9"/><circle cx="1913.6" cy="97.2" r="3.9"/><circle cx="1944.5" cy="97.2" r="3.9"/><circle cx="1975.5" cy="97.2" r="3.9"/><circle cx="2006.5" cy="97.2" r="3.9"/><circle cx="2037.4" cy="97.2" r="3.9"/><circle cx="2068.4" cy="97.2" r="3.9"/><circle cx="2099.3" cy="97.2" r="3.9"/><circle cx="2130.3" cy="97.2" r="3.9"/><circle cx="1836.2" cy="125.8" r="3.9"/><circle cx="1867.2" cy="125.8" r="3.9"/><circle cx="1898.1" cy="125.8" r="3.9"/><circle cx="1929.1" cy="125.8" r="3.9"/><circle cx="1960.0" cy="125.8" r="3.9"/><circle cx="1991.0" cy="125.8" r="3.9"/><circle cx="2021.9" cy="125.8" r="3.9"/><circle cx="2052.9" cy="125.8" r="3.9"/><circle cx="2083.8" cy="125.8" r="3.9"/><circle cx="2114.8" cy="125.8" r="3.9"/><circle cx="1820.7" cy="154.4" r="3.9"/><circle cx="1851.7" cy="154.4" r="3.9"/><circle cx="1882.6" cy="154.4" r="3.9"/><circle cx="1913.6" cy="154.4" r="3.9"/><circle cx="1944.5" cy="154.4" r="3.9"/><circle cx="1975.5" cy="154.4" r="3.9"/><circle cx="2006.5" cy="154.4" r="3.9"/><circle cx="2037.4" cy="154.4" r="3.9"/><circle cx="2068.4" cy="154.4" r="3.9"/><circle cx="2099.3" cy="154.4" r="3.9"/><circle cx="2130.3" cy="154.4" r="3.9"/><circle cx="1836.2" cy="183.0" r="3.9"/><circle cx="1867.2" cy="183.0" r="3.9"/><circle cx="1898.1" cy="183.0" r="3.9"/><circle cx="1929.1" cy="183.0" r="3.9"/><circle cx="1960.0" cy="183.0" r="3.9"/><circle cx="1991.0" cy="183.0" r="3.9"/><circle cx="2021.9" cy="183.0" r="3.9"/><circle cx="2052.9" cy="183.0" r="3.9"/><circle cx="2083.8" cy="183.0" r="3.9"/><circle cx="2114.8" cy="183.0" r="3.9"/><circle cx="1820.7" cy="211.6" r="3.9"/><circle cx="1851.7" cy="211.6" r="3.9"/><circle cx="1882.6" cy="211.6" r="3.9"/><circle cx="1913.6" cy="211.6" r="3.9"/><circle cx="1944.5" cy="211.6" r="3.9"/><circle cx="1975.5" cy="211.6" r="3.9"/><circle cx="2006.5" cy="211.6" r="3.9"/><circle cx="2037.4" cy="211.6" r="3.9"/><circle cx="2068.4" cy="211.6" r="3.9"/><circle cx="2099.3" cy="211.6" r="3.9"/><circle cx="2130.3" cy="211.6" r="3.9"/><circle cx="1836.2" cy="240.2" r="3.9"/><circle cx="1867.2" cy="240.2" r="3.9"/><circle cx="1898.1" cy="240.2" r="3.9"/><circle cx="1929.1" cy="240.2" r="3.9"/><circle cx="1960.0" cy="240.2" r="3.9"/><circle cx="1991.0" cy="240.2" r="3.9"/><circle cx="2021.9" cy="240.2" r="3.9"/><circle cx="2052.9" cy="240.2" r="3.9"/><circle cx="2083.8" cy="240.2" r="3.9"/><circle cx="2114.8" cy="240.2" r="3.9"/><circle cx="1820.7" cy="268.7" r="3.9"/><circle cx="1851.7" cy="268.7" r="3.9"/><circle cx="1882.6" cy="268.7" r="3.9"/><circle cx="1913.6" cy="268.7" r="3.9"/><circle cx="1944.5" cy="268.7" r="3.9"/><circle cx="1975.5" cy="268.7" r="3.9"/><circle cx="2006.5" cy="268.7" r="3.9"/><circle cx="2037.4" cy="268.7" r="3.9"/><circle cx="2068.4" cy="268.7" r="3.9"/><circle cx="2099.3" cy="268.7" r="3.9"/><circle cx="2130.3" cy="268.7" r="3.9"/><circle cx="1836.2" cy="297.3" r="3.9"/><circle cx="1867.2" cy="297.3" r="3.9"/><circle cx="1898.1" cy="297.3" r="3.9"/><circle cx="1929.1" cy="297.3" r="3.9"/><circle cx="1960.0" cy="297.3" r="3.9"/><circle cx="1991.0" cy="297.3" r="3.9"/><circle cx="2021.9" cy="297.3" r="3.9"/><circle cx="2052.9" cy="297.3" r="3.9"/><circle cx="2083.8" cy="297.3" r="3.9"/><circle cx="2114.8" cy="297.3" r="3.9"/><circle cx="1820.7" cy="325.9" r="3.9"/><circle cx="1851.7" cy="325.9" r="3.9"/><circle cx="1882.6" cy="325.9" r="3.9"/><circle cx="1913.6" cy="325.9" r="3.9"/><circle cx="1944.5" cy="325.9" r="3.9"/><circle cx="1975.5" cy="325.9" r="3.9"/><circle cx="2006.5" cy="325.9" r="3.9"/><circle cx="2037.4" cy="325.9" r="3.9"/><circle cx="2068.4" cy="325.9" r="3.9"/><circle cx="2099.3" cy="325.9" r="3.9"/><circle cx="2130.3" cy="325.9" r="3.9"/><circle cx="1836.2" cy="354.5" r="3.9"/><circle cx="1867.2" cy="354.5" r="3.9"/><circle cx="1898.1" cy="354.5" r="3.9"/><circle cx="1929.1" cy="354.5" r="3.9"/><circle cx="1960.0" cy="354.5" r="3.9"/><circle cx="1991.0" cy="354.5" r="3.9"/><circle cx="2021.9" cy="354.5" r="3.9"/><circle cx="2052.9" cy="354.5" r="3.9"/><circle cx="2083.8" cy="354.5" r="3.9"/><circle cx="2114.8" cy="354.5" r="3.9"/><circle cx="1820.7" cy="383.1" r="3.9"/><circle cx="1851.7" cy="383.1" r="3.9"/><circle cx="1882.6" cy="383.1" r="3.9"/><circle cx="1913.6" cy="383.1" r="3.9"/><circle cx="1944.5" cy="383.1" r="3.9"/><circle cx="1975.5" cy="383.1" r="3.9"/><circle cx="2006.5" cy="383.1" r="3.9"/><circle cx="2037.4" cy="383.1" r="3.9"/><circle cx="2068.4" cy="383.1" r="3.9"/><circle cx="2099.3" cy="383.1" r="3.9"/><circle cx="2130.3" cy="383.1" r="3.9"/><circle cx="1836.2" cy="411.7" r="3.9"/><circle cx="1867.2" cy="411.7" r="3.9"/><circle cx="1898.1" cy="411.7" r="3.9"/><circle cx="1929.1" cy="411.7" r="3.9"/><circle cx="1960.0" cy="411.7" r="3.9"/><circle cx="1991.0" cy="411.7" r="3.9"/><circle cx="2021.9" cy="411.7" r="3.9"/><circle cx="2052.9" cy="411.7" r="3.9"/><circle cx="2083.8" cy="411.7" r="3.9"/><circle cx="2114.8" cy="411.7" r="3.9"/><circle cx="1820.7" cy="440.3" r="3.9"/><circle cx="1851.7" cy="440.3" r="3.9"/><circle cx="1882.6" cy="440.3" r="3.9"/><circle cx="1913.6" cy="440.3" r="3.9"/><circle cx="1944.5" cy="440.3" r="3.9"/><circle cx="1975.5" cy="440.3" r="3.9"/><circle cx="2006.5" cy="440.3" r="3.9"/><circle cx="2037.4" cy="440.3" r="3.9"/><circle cx="2068.4" cy="440.3" r="3.9"/><circle cx="2099.3" cy="440.3" r="3.9"/><circle cx="2130.3" cy="440.3" r="3.9"/></g>
<rect x="1757" y="40" width="437" height="457.5" fill="none" stroke="#000" stroke-width="4"/>
<path d="M1741.0 497.5h16M1757.0 498.5v15M1748.0 459.4h9M1793.4 498.5v8M1741.0 421.2h16M1829.8 498.5v15M1748.0 383.1h9M1866.3 498.5v8M1741.0 345.0h16M1902.7 498.5v15M1748.0 306.9h9M1939.1 498.5v8M1741.0 268.7h16M1975.5 498.5v15M1748.0 230.6h9M2011.9 498.5v8M1741.0 192.5h16M2048.3 498.5v15M1748.0 154.4h9M2084.8 498.5v8M1741.0 116.2h16M2121.2 498.5v15M1748.0 78.1h9M2157.6 498.5v8M1741.0 40.0h16M2194.0 498.5v15" stroke="#000" stroke-width="4" fill="none"/>
<g style="font-family:'Liberation Sans',Arial,sans-serif;font-size:30px" fill="#000"><text x="1730.0" y="508.2" text-anchor="end">-0.6</text><text x="1757.0" y="547" text-anchor="middle">-0.6</text><text x="1730.0" y="431.9" text-anchor="end">-0.4</text><text x="1829.8" y="547" text-anchor="middle">-0.4</text><text x="1730.0" y="355.7" text-anchor="end">-0.2</text><text x="1902.7" y="547" text-anchor="middle">-0.2</text><text x="1730.0" y="279.4" text-anchor="end">0.0</text><text x="1975.5" y="547" text-anchor="middle">0.0</text><text x="1730.0" y="203.2" text-anchor="end">0.2</text><text x="2048.3" y="547" text-anchor="middle">0.2</text><text x="1730.0" y="126.9" text-anchor="end">0.4</text><text x="2121.2" y="547" text-anchor="middle">0.4</text><text x="1730.0" y="50.7" text-anchor="end">0.6</text><text x="2194.0" y="547" text-anchor="middle">0.6</text></g>
<text style="font-family:'Liberation Sans',Arial,sans-serif;font-size:35px" x="1975.5" y="604" text-anchor="middle">x / cm</text>
<text style="font-family:'Liberation Sans',Arial,sans-serif;font-size:35px" transform="translate(1660.0,268.5) rotate(-90)" text-anchor="middle">y / cm</text>
<text style="font-family:'Liberation Sans',Arial,sans-serif;font-size:30px" x="2212.0" y="50.8"><tspan font-style="italic">d</tspan>(TiO<tspan font-size="20px" dy="8">2</tspan><tspan dy="-8">) / nm</tspan></text>
<rect x="2235.3" y="71.1" width="21.5" height="423.6" fill="#000"/>
<rect x="2239.0" y="75" width="14" height="14.5" fill="#808080"/>
<rect x="2239.0" y="460.55" width="14" height="16.45" fill="#440154"/>
<rect x="2239.0" y="444.39" width="14" height="16.45" fill="#471164"/>
<rect x="2239.0" y="428.24" width="14" height="16.45" fill="#482071"/>
<rect x="2239.0" y="412.08" width="14" height="16.45" fill="#472e7c"/>
<rect x="2239.0" y="395.93" width="14" height="16.45" fill="#443b84"/>
<rect x="2239.0" y="379.77" width="14" height="16.45" fill="#3f4889"/>
<rect x="2239.0" y="363.62" width="14" height="16.45" fill="#3a548c"/>
<rect x="2239.0" y="347.47" width="14" height="16.45" fill="#34608d"/>
<rect x="2239.0" y="331.31" width="14" height="16.45" fill="#2f6c8e"/>
<rect x="2239.0" y="315.16" width="14" height="16.45" fill="#2a768e"/>
<rect x="2239.0" y="299.00" width="14" height="16.45" fill="#26818e"/>
<rect x="2239.0" y="282.85" width="14" height="16.45" fill="#228b8d"/>
<rect x="2239.0" y="266.70" width="14" height="16.45" fill="#1f958b"/>
<rect x="2239.0" y="250.54" width="14" height="16.45" fill="#1fa088"/>
<rect x="2239.0" y="234.39" width="14" height="16.45" fill="#24aa83"/>
<rect x="2239.0" y="218.23" width="14" height="16.45" fill="#2fb47c"/>
<rect x="2239.0" y="202.08" width="14" height="16.45" fill="#42be71"/>
<rect x="2239.0" y="185.93" width="14" height="16.45" fill="#58c765"/>
<rect x="2239.0" y="169.77" width="14" height="16.45" fill="#70cf57"/>
<rect x="2239.0" y="153.62" width="14" height="16.45" fill="#8bd646"/>
<rect x="2239.0" y="137.46" width="14" height="16.45" fill="#a8db34"/>
<rect x="2239.0" y="121.31" width="14" height="16.45" fill="#c5e021"/>
<rect x="2239.0" y="105.15" width="14" height="16.45" fill="#e2e418"/>
<rect x="2239.0" y="89.00" width="14" height="16.45" fill="#fde725"/>
<rect x="2239.0" y="476.7" width="14" height="14.3" fill="#000"/>
<text style="font-family:'Liberation Sans',Arial,sans-serif;font-size:30px" x="2278.0" y="99.3">120.00</text>
<text style="font-family:'Liberation Sans',Arial,sans-serif;font-size:30px" x="2278.0" y="196.2">116.25</text>
<text style="font-family:'Liberation Sans',Arial,sans-serif;font-size:30px" x="2278.0" y="293.2">112.50</text>
<text style="font-family:'Liberation Sans',Arial,sans-serif;font-size:30px" x="2278.0" y="390.1">108.75</text>
<text style="font-family:'Liberation Sans',Arial,sans-serif;font-size:30px" x="2278.0" y="487.0">105.00</text>
<path d="M2256.8 89.0h14M2256.8 185.9h14M2256.8 282.9h14M2256.8 379.8h14M2256.8 476.7h14" stroke="#000" stroke-width="4"/>
<text style="font-family:'Liberation Sans',Arial,sans-serif;font-weight:bold;font-size:52px" x="229.8" y="678.4" textLength="233.8" lengthAdjust="spacingAndGlyphs" fill="#0b4a86" stroke="#0b4a86" stroke-width="1.4">2.5 nm/h</text>
<text style="font-family:'Liberation Sans',Arial,sans-serif;font-weight:bold;font-size:52px" x="1055.6" y="678.4" textLength="221.5" lengthAdjust="spacingAndGlyphs" fill="#0b4a86" stroke="#0b4a86" stroke-width="1.4">1.3 nm/h</text>
<text style="font-family:'Liberation Sans',Arial,sans-serif;font-weight:bold;font-size:52px" x="1856.4" y="678.4" textLength="238.2" lengthAdjust="spacingAndGlyphs" fill="#0b4a86" stroke="#0b4a86" stroke-width="1.4">0.0 nm/h</text>
<polygon points="262,709.7 1990,713.4 1990,694.6 2047,722.7 1990,751.5 1990,732.7 262,729.2" fill="#e4003c"/>
<text style="font-family:'Liberation Sans',Arial,sans-serif;font-weight:bold;font-size:53px" x="324.7" y="798.0" textLength="281.1" lengthAdjust="spacingAndGlyphs" fill="#0b4a86" stroke="#0b4a86" stroke-width="1.4">increasing</text>
<text style="font-family:'Liberation Sans',Arial,sans-serif;font-weight:bold;font-size:53px" x="629.3" y="798.0" textLength="314.6" lengthAdjust="spacingAndGlyphs" fill="#0b4a86" stroke="#0b4a86" stroke-width="1.4">crystallinity</text>
<text style="font-family:'Liberation Sans',Arial,sans-serif;font-weight:bold;font-size:53px" x="959.3" y="798.0" textLength="52.5" lengthAdjust="spacingAndGlyphs" fill="#0b4a86" stroke="#0b4a86" stroke-width="1.4">–&gt;</text>
<text style="font-family:'Liberation Sans',Arial,sans-serif;font-weight:bold;font-size:53px" x="1025.2" y="798.0" textLength="296.6" lengthAdjust="spacingAndGlyphs" fill="#0b4a86" stroke="#0b4a86" stroke-width="1.4">decreasing</text>
<text style="font-family:'Liberation Sans',Arial,sans-serif;font-weight:bold;font-size:53px" x="1334.5" y="798.0" textLength="246.7" lengthAdjust="spacingAndGlyphs" fill="#0b4a86" stroke="#0b4a86" stroke-width="1.4">chemical</text>
<text style="font-family:'Liberation Sans',Arial,sans-serif;font-weight:bold;font-size:53px" x="1592.3" y="798.0" textLength="328.8" lengthAdjust="spacingAndGlyphs" fill="#0b4a86" stroke="#0b4a86" stroke-width="1.4">degradation</text>
<text style="font-family:'Liberation Sans',Arial,sans-serif;font-weight:bold;font-size:51px" x="150.5" y="1355.2" textLength="391.3" lengthAdjust="spacingAndGlyphs" fill="#0b4a86" stroke="#0b4a86" stroke-width="1.4">200 °C, 2000 cy</text>
<text style="font-family:'Liberation Sans',Arial,sans-serif;font-weight:bold;font-size:51px" x="966.3" y="1355.2" textLength="387.4" lengthAdjust="spacingAndGlyphs" fill="#0b4a86" stroke="#0b4a86" stroke-width="1.4">220 °C, 2000 cy</text>
<text style="font-family:'Liberation Sans',Arial,sans-serif;font-weight:bold;font-size:51px" x="1776.4" y="1355.2" textLength="393.1" lengthAdjust="spacingAndGlyphs" fill="#0b4a86" stroke="#0b4a86" stroke-width="1.4">240 °C, 2000 cy</text>
<defs>
<linearGradient id="afmcb" x1="0" y1="0" x2="0" y2="1">
<stop offset="0" stop-color="#fffef6"/><stop offset="0.08" stop-color="#f3ead2"/><stop offset="0.18" stop-color="#ddc08a"/>
<stop offset="0.30" stop-color="#c4923a"/><stop offset="0.40" stop-color="#a8680f"/><stop offset="0.50" stop-color="#8c3a05"/>
<stop offset="0.58" stop-color="#700e00"/><stop offset="0.68" stop-color="#4a0000"/><stop offset="0.80" stop-color="#1e0000"/>
<stop offset="0.88" stop-color="#050000"/><stop offset="1" stop-color="#000"/></linearGradient>
<radialGradient id="sp1" r="0.72"><stop offset="0" stop-color="#fffdf0"/><stop offset="0.25" stop-color="#f6e0a0"/><stop offset="0.55" stop-color="#d49a3a"/><stop offset="0.85" stop-color="#9a4a10"/><stop offset="1" stop-color="#6a1604"/></radialGradient>
<radialGradient id="sp2" r="0.72"><stop offset="0" stop-color="#f8e4a8"/><stop offset="0.35" stop-color="#dca848"/><stop offset="0.75" stop-color="#a45a14"/><stop offset="1" stop-color="#6a1604"/></radialGradient>
<radialGradient id="sp3" r="0.72"><stop offset="0" stop-color="#ecc070"/><stop offset="0.5" stop-color="#b87020"/><stop offset="1" stop-color="#70200a"/></radialGradient>
<radialGradient id="halo"><stop offset="0.4" stop-color="#8a3008" stop-opacity="0.9"/><stop offset="1" stop-color="#420002" stop-opacity="0"/></radialGradient>
<filter id="bl08" x="-2%" y="-2%" width="104%" height="104%"><feGaussianBlur stdDeviation="0.7"/></filter>
<radialGradient id="sc"><stop offset="0" stop-color="#f0c878"/><stop offset="0.6" stop-color="#b06a20"/><stop offset="1" stop-color="#420002" stop-opacity="0"/></radialGradient>
<radialGradient id="wd"><stop offset="0" stop-color="#ffffff"/><stop offset="0.6" stop-color="#fff6e0"/><stop offset="1" stop-color="#f0d8a8" stop-opacity="0.6"/></radialGradient>
<filter id="n1" x="0" y="0" width="100%" height="100%" color-interpolation-filters="sRGB">
<feTurbulence type="fractalNoise" baseFrequency="0.45 0.35" numOctaves="2" seed="7"/>
<feColorMatrix type="matrix" values="0.58 0 0 0 0.22  0.55 0 0 0 0.03  0.25 0 0 0 -0.035  0 0 0 0 1"/>
</filter>
<radialGradient id="fl" cx="0.55" cy="0.5" r="0.65"><stop offset="0" stop-color="#f2e4c2"/><stop offset="0.45" stop-color="#d4b47a"/><stop offset="1" stop-color="#a8803e"/></radialGradient>
<filter id="bl1" x="-2%" y="-2%" width="104%" height="104%"><feGaussianBlur stdDeviation="2.2"/></filter>
<filter id="lf1" x="0" y="0" width="100%" height="100%" color-interpolation-filters="sRGB">
<feTurbulence type="fractalNoise" baseFrequency="0.045 0.004" numOctaves="2" seed="3"/>
<feColorMatrix type="matrix" values="0 0 0 0 0.42  0 0 0 0 0.13  0 0 0 0 0.03  -2.2 0 0 0 1.25"/>
</filter>
<filter id="bl3" x="-5%" y="-5%" width="110%" height="110%"><feGaussianBlur stdDeviation="5"/></filter>
<filter id="n3" x="0" y="0" width="100%" height="100%" color-interpolation-filters="sRGB">
<feTurbulence type="fractalNoise" baseFrequency="0.06" numOctaves="3" seed="11"/>
<feColorMatrix type="matrix" values="0 0 0 0 0.5  0 0 0 0 0.3  0 0 0 0 0.1  1.6 0 0 0 -0.8"/>
</filter>
<clipPath id="ca1"><rect x="142" y="855" width="409" height="409"/></clipPath>
<clipPath id="ca2"><rect x="950" y="850.3" width="420.5" height="420.3"/></clipPath>
<clipPath id="ca3"><rect x="1765" y="850" width="421.3" height="420.5"/></clipPath>
</defs>
<g clip-path="url(#ca1)"><rect x="142" y="855" width="409" height="409" fill="#8e4713"/>
<rect x="142" y="855" width="409" height="409" filter="url(#n1)"/>
<rect x="142" y="855" width="409" height="409" filter="url(#lf1)" opacity="0.35"/>
<circle cx="264.7" cy="878.6" r="1.8" fill="url(#wd)"/>
<circle cx="361.2" cy="882.9" r="2.8" fill="url(#wd)"/>
<circle cx="402.9" cy="911.8" r="2.8" fill="url(#wd)"/>
<circle cx="484.4" cy="915.1" r="3.3" fill="url(#wd)"/>
<circle cx="470.0" cy="920.5" r="1.8" fill="url(#wd)"/>
<circle cx="296.8" cy="923.6" r="3.8" fill="url(#wd)"/>
<circle cx="332.3" cy="926.2" r="3.3" fill="url(#wd)"/>
<circle cx="421.5" cy="928.8" r="2.3" fill="url(#wd)"/>
<circle cx="310.1" cy="935.7" r="1.8" fill="url(#wd)"/>
<circle cx="338.0" cy="953.6" r="3.3" fill="url(#wd)"/>
<circle cx="357.4" cy="959.1" r="3.3" fill="url(#wd)"/>
<circle cx="538.9" cy="954.3" r="1.8" fill="url(#wd)"/>
<circle cx="160.3" cy="969.5" r="3.3" fill="url(#wd)"/>
<circle cx="524.2" cy="986.8" r="3.3" fill="url(#wd)"/>
<circle cx="163.7" cy="1001.0" r="2.8" fill="url(#wd)"/>
<circle cx="483.8" cy="1001.2" r="3.3" fill="url(#wd)"/>
<circle cx="502.0" cy="1000.7" r="1.8" fill="url(#wd)"/>
<circle cx="416.3" cy="1018.9" r="2.8" fill="url(#wd)"/>
<circle cx="176.7" cy="1025.0" r="3.8" fill="url(#wd)"/>
<circle cx="198.0" cy="1036.2" r="2.8" fill="url(#wd)"/>
<circle cx="221.4" cy="1037.1" r="2.3" fill="url(#wd)"/>
<circle cx="243.9" cy="1043.7" r="2.8" fill="url(#wd)"/>
<circle cx="253.8" cy="1040.2" r="3.8" fill="url(#wd)"/>
<circle cx="376.4" cy="1046.6" r="2.8" fill="url(#wd)"/>
<circle cx="469.1" cy="1034.5" r="1.8" fill="url(#wd)"/>
<circle cx="437.0" cy="1045.7" r="1.3" fill="url(#wd)"/>
<circle cx="174.6" cy="1079.3" r="3.3" fill="url(#wd)"/>
<circle cx="329.7" cy="1078.4" r="3.3" fill="url(#wd)"/>
<circle cx="489.9" cy="1070.6" r="3.3" fill="url(#wd)"/>
<circle cx="143.1" cy="1089.6" r="2.8" fill="url(#wd)"/>
<circle cx="255.7" cy="1100.9" r="3.3" fill="url(#wd)"/>
<circle cx="326.6" cy="1112.2" r="3.3" fill="url(#wd)"/>
<circle cx="467.9" cy="1104.4" r="3.3" fill="url(#wd)"/>
<circle cx="224.9" cy="1120.0" r="3.3" fill="url(#wd)"/>
<circle cx="288.6" cy="1117.4" r="3.3" fill="url(#wd)"/>
<circle cx="362.1" cy="1123.1" r="3.3" fill="url(#wd)"/>
<circle cx="409.4" cy="1120.0" r="3.3" fill="url(#wd)"/>
<circle cx="512.4" cy="1114.8" r="2.3" fill="url(#wd)"/>
<circle cx="452.1" cy="1129.5" r="1.8" fill="url(#wd)"/>
<circle cx="198.0" cy="1145.1" r="3.3" fill="url(#wd)"/>
<circle cx="198.9" cy="1166.7" r="3.3" fill="url(#wd)"/>
<circle cx="285.9" cy="1178.5" r="3.3" fill="url(#wd)"/>
<circle cx="423.4" cy="1172.8" r="3.3" fill="url(#wd)"/>
<circle cx="460.0" cy="1171.4" r="3.3" fill="url(#wd)"/>
<circle cx="478.3" cy="1189.2" r="2.3" fill="url(#wd)"/>
<circle cx="233.0" cy="1188.9" r="1.3" fill="url(#wd)"/>
<circle cx="180.9" cy="1202.2" r="3.3" fill="url(#wd)"/>
<circle cx="261.3" cy="1203.1" r="3.3" fill="url(#wd)"/>
<circle cx="367.8" cy="1201.4" r="3.3" fill="url(#wd)"/>
<circle cx="373.8" cy="1209.7" r="2.3" fill="url(#wd)"/>
<circle cx="227.0" cy="1217.8" r="3.3" fill="url(#wd)"/>
<circle cx="352.7" cy="1234.6" r="3.3" fill="url(#wd)"/>
<circle cx="227.1" cy="1241.7" r="3.3" fill="url(#wd)"/>
<circle cx="197.2" cy="1261.5" r="2.8" fill="url(#wd)"/>
<circle cx="321.9" cy="1257.3" r="1.8" fill="url(#wd)"/>
<circle cx="533.2" cy="1136.4" r="1.8" fill="url(#wd)"/>
</g>
<g clip-path="url(#ca2)"><rect x="950" y="850.3" width="420.5" height="420.3" fill="#420002"/><g filter="url(#bl08)">
<circle cx="962.8" cy="858.9" r="7.7" fill="url(#halo)"/>
<rect x="958.5" y="854.6" width="8.5" height="8.5" fill="url(#sp2)" transform="rotate(50 962.8 858.9)"/>
<circle cx="1012.5" cy="859.7" r="5.8" fill="url(#halo)"/>
<rect x="1009.3" y="856.5" width="6.4" height="6.4" fill="url(#sp3)" transform="rotate(55 1012.5 859.7)"/>
<circle cx="1021.0" cy="854.2" r="5.1" fill="url(#halo)"/>
<rect x="1018.1" y="851.4" width="5.7" height="5.7" fill="url(#sp3)" transform="rotate(57 1021.0 854.2)"/>
<circle cx="1036.6" cy="865.9" r="3.0" fill="url(#sc)"/>
<circle cx="1074.7" cy="865.1" r="9.0" fill="url(#halo)"/>
<rect x="1069.7" y="860.1" width="10.0" height="10.0" fill="url(#sp2)" transform="rotate(63 1074.7 865.1)"/>
<circle cx="1115.8" cy="862.0" r="7.1" fill="url(#halo)"/>
<rect x="1111.9" y="858.1" width="7.8" height="7.8" fill="url(#sp2)" transform="rotate(55 1115.8 862.0)"/>
<circle cx="1153.1" cy="865.1" r="9.0" fill="url(#halo)"/>
<rect x="1148.1" y="860.1" width="10.0" height="10.0" fill="url(#sp2)" transform="rotate(62 1153.1 865.1)"/>
<circle cx="1129.0" cy="879.1" r="7.7" fill="url(#halo)"/>
<rect x="1124.7" y="874.8" width="8.5" height="8.5" fill="url(#sp2)" transform="rotate(26 1129.0 879.1)"/>
<circle cx="1139.1" cy="875.2" r="7.1" fill="url(#halo)"/>
<rect x="1135.2" y="871.3" width="7.8" height="7.8" fill="url(#sp2)" transform="rotate(44 1139.1 875.2)"/>
<circle cx="979.9" cy="881.4" r="7.1" fill="url(#halo)"/>
<rect x="976.0" y="877.5" width="7.8" height="7.8" fill="url(#sp2)" transform="rotate(63 979.9 881.4)"/>
<circle cx="972.1" cy="876.0" r="3.0" fill="url(#sc)"/>
<circle cx="1003.9" cy="883.0" r="7.7" fill="url(#halo)"/>
<rect x="999.6" y="878.7" width="8.5" height="8.5" fill="url(#sp2)" transform="rotate(51 1003.9 883.0)"/>
<circle cx="1014.8" cy="896.2" r="12.8" fill="url(#halo)"/>
<rect x="1007.7" y="889.1" width="14.2" height="14.2" fill="url(#sp1)" transform="rotate(61 1014.8 896.2)"/>
<circle cx="1048.2" cy="890.7" r="5.8" fill="url(#halo)"/>
<rect x="1045.0" y="887.5" width="6.4" height="6.4" fill="url(#sp3)" transform="rotate(30 1048.2 890.7)"/>
<circle cx="1074.7" cy="899.3" r="12.8" fill="url(#halo)"/>
<rect x="1067.6" y="892.2" width="14.2" height="14.2" fill="url(#sp1)" transform="rotate(44 1074.7 899.3)"/>
<circle cx="1083.2" cy="890.7" r="2.4" fill="url(#sc)"/>
<circle cx="1105.0" cy="907.8" r="7.1" fill="url(#halo)"/>
<rect x="1101.1" y="903.9" width="7.8" height="7.8" fill="url(#sp2)" transform="rotate(35 1105.0 907.8)"/>
<circle cx="1146.9" cy="906.3" r="11.5" fill="url(#halo)"/>
<rect x="1140.5" y="899.9" width="12.8" height="12.8" fill="url(#sp1)" transform="rotate(47 1146.9 906.3)"/>
<circle cx="1120.5" cy="917.9" r="7.7" fill="url(#halo)"/>
<rect x="1116.2" y="913.6" width="8.5" height="8.5" fill="url(#sp2)" transform="rotate(48 1120.5 917.9)"/>
<circle cx="1043.6" cy="907.8" r="5.1" fill="url(#halo)"/>
<rect x="1040.8" y="904.9" width="5.7" height="5.7" fill="url(#sp3)" transform="rotate(26 1043.6 907.8)"/>
<circle cx="954.2" cy="924.1" r="7.1" fill="url(#halo)"/>
<rect x="950.3" y="920.2" width="7.8" height="7.8" fill="url(#sp2)" transform="rotate(34 954.2 924.1)"/>
<circle cx="1005.5" cy="924.1" r="14.1" fill="url(#halo)"/>
<rect x="997.7" y="916.3" width="15.7" height="15.7" fill="url(#sp1)" transform="rotate(36 1005.5 924.1)"/>
<circle cx="995.4" cy="938.1" r="7.1" fill="url(#halo)"/>
<rect x="991.5" y="934.2" width="7.8" height="7.8" fill="url(#sp2)" transform="rotate(62 995.4 938.1)"/>
<circle cx="979.9" cy="943.6" r="2.4" fill="url(#sc)"/>
<circle cx="1053.7" cy="927.3" r="7.7" fill="url(#halo)"/>
<rect x="1049.4" y="923.0" width="8.5" height="8.5" fill="url(#sp2)" transform="rotate(56 1053.7 927.3)"/>
<circle cx="1068.4" cy="931.9" r="5.8" fill="url(#halo)"/>
<rect x="1065.2" y="928.7" width="6.4" height="6.4" fill="url(#sp3)" transform="rotate(31 1068.4 931.9)"/>
<circle cx="1082.4" cy="931.9" r="3.0" fill="url(#sc)"/>
<circle cx="1024.9" cy="920.3" r="1.8" fill="url(#sc)"/>
<circle cx="1045.9" cy="959.9" r="9.0" fill="url(#halo)"/>
<rect x="1040.9" y="954.9" width="10.0" height="10.0" fill="url(#sp2)" transform="rotate(57 1045.9 959.9)"/>
<circle cx="1033.5" cy="973.9" r="11.5" fill="url(#halo)"/>
<rect x="1027.1" y="967.5" width="12.8" height="12.8" fill="url(#sp1)" transform="rotate(31 1033.5 973.9)"/>
<circle cx="1028.8" cy="989.4" r="5.8" fill="url(#halo)"/>
<rect x="1025.6" y="986.2" width="6.4" height="6.4" fill="url(#sp3)" transform="rotate(50 1028.8 989.4)"/>
<circle cx="1064.5" cy="975.4" r="9.0" fill="url(#halo)"/>
<rect x="1059.5" y="970.4" width="10.0" height="10.0" fill="url(#sp2)" transform="rotate(30 1064.5 975.4)"/>
<circle cx="1079.3" cy="973.1" r="5.1" fill="url(#halo)"/>
<rect x="1076.5" y="970.2" width="5.7" height="5.7" fill="url(#sp3)" transform="rotate(25 1079.3 973.1)"/>
<circle cx="1080.9" cy="986.3" r="10.3" fill="url(#halo)"/>
<rect x="1075.2" y="980.6" width="11.4" height="11.4" fill="url(#sp2)" transform="rotate(60 1080.9 986.3)"/>
<circle cx="1122.0" cy="1001.8" r="11.5" fill="url(#halo)"/>
<rect x="1115.6" y="995.4" width="12.8" height="12.8" fill="url(#sp1)" transform="rotate(33 1122.0 1001.8)"/>
<circle cx="1104.2" cy="1015.1" r="7.7" fill="url(#halo)"/>
<rect x="1099.9" y="1010.8" width="8.5" height="8.5" fill="url(#sp2)" transform="rotate(34 1104.2 1015.1)"/>
<circle cx="1152.4" cy="1028.3" r="10.3" fill="url(#halo)"/>
<rect x="1146.7" y="1022.6" width="11.4" height="11.4" fill="url(#sp2)" transform="rotate(64 1152.4 1028.3)"/>
<circle cx="1159.3" cy="886.9" r="5.1" fill="url(#halo)"/>
<rect x="1156.5" y="884.0" width="5.7" height="5.7" fill="url(#sp3)" transform="rotate(60 1159.3 886.9)"/>
<circle cx="955.8" cy="1021.3" r="7.1" fill="url(#halo)"/>
<rect x="951.9" y="1017.4" width="7.8" height="7.8" fill="url(#sp2)" transform="rotate(37 955.8 1021.3)"/>
<circle cx="985.3" cy="1023.6" r="7.7" fill="url(#halo)"/>
<rect x="981.0" y="1019.3" width="8.5" height="8.5" fill="url(#sp2)" transform="rotate(63 985.3 1023.6)"/>
<circle cx="968.2" cy="1046.9" r="10.9" fill="url(#halo)"/>
<rect x="962.1" y="1040.8" width="12.1" height="12.1" fill="url(#sp1)" transform="rotate(47 968.2 1046.9)"/>
<circle cx="957.3" cy="1048.5" r="7.1" fill="url(#halo)"/>
<rect x="953.4" y="1044.6" width="7.8" height="7.8" fill="url(#sp2)" transform="rotate(52 957.3 1048.5)"/>
<circle cx="1036.6" cy="1043.8" r="10.3" fill="url(#halo)"/>
<rect x="1030.9" y="1038.1" width="11.4" height="11.4" fill="url(#sp2)" transform="rotate(33 1036.6 1043.8)"/>
<circle cx="1049.0" cy="1043.8" r="5.8" fill="url(#halo)"/>
<rect x="1045.8" y="1040.6" width="6.4" height="6.4" fill="url(#sp3)" transform="rotate(63 1049.0 1043.8)"/>
<circle cx="1028.0" cy="1036.8" r="3.8" fill="url(#halo)"/>
<rect x="1025.9" y="1034.7" width="4.3" height="4.3" fill="url(#sp3)" transform="rotate(53 1028.0 1036.8)"/>
<circle cx="1017.2" cy="1050.0" r="7.1" fill="url(#halo)"/>
<rect x="1013.3" y="1046.1" width="7.8" height="7.8" fill="url(#sp2)" transform="rotate(64 1017.2 1050.0)"/>
<circle cx="1110.4" cy="1039.1" r="3.0" fill="url(#sc)"/>
<circle cx="999.3" cy="1058.6" r="5.8" fill="url(#halo)"/>
<rect x="996.1" y="1055.4" width="6.4" height="6.4" fill="url(#sp3)" transform="rotate(61 999.3 1058.6)"/>
<circle cx="1160.9" cy="921.0" r="3.8" fill="url(#halo)"/>
<rect x="1158.8" y="918.9" width="4.3" height="4.3" fill="url(#sp3)" transform="rotate(37 1160.9 921.0)"/>
<circle cx="1161.9" cy="860.4" r="7.7" fill="url(#halo)"/>
<rect x="1157.6" y="856.1" width="8.5" height="8.5" fill="url(#sp2)" transform="rotate(39 1161.9 860.4)"/>
<circle cx="1185.2" cy="860.4" r="7.7" fill="url(#halo)"/>
<rect x="1180.9" y="856.1" width="8.5" height="8.5" fill="url(#sp2)" transform="rotate(32 1185.2 860.4)"/>
<circle cx="1201.5" cy="865.9" r="3.8" fill="url(#halo)"/>
<rect x="1199.4" y="863.8" width="4.3" height="4.3" fill="url(#sp3)" transform="rotate(31 1201.5 865.9)"/>
<circle cx="1227.9" cy="859.7" r="7.1" fill="url(#halo)"/>
<rect x="1224.0" y="855.8" width="7.8" height="7.8" fill="url(#sp2)" transform="rotate(28 1227.9 859.7)"/>
<circle cx="1260.6" cy="867.4" r="12.8" fill="url(#halo)"/>
<rect x="1253.5" y="860.3" width="14.2" height="14.2" fill="url(#sp1)" transform="rotate(37 1260.6 867.4)"/>
<circle cx="1291.6" cy="857.3" r="15.4" fill="url(#halo)"/>
<rect x="1283.0" y="848.8" width="17.1" height="17.1" fill="url(#sp1)" transform="rotate(49 1291.6 857.3)"/>
<circle cx="1307.2" cy="862.0" r="5.8" fill="url(#halo)"/>
<rect x="1304.0" y="858.8" width="6.4" height="6.4" fill="url(#sp3)" transform="rotate(25 1307.2 862.0)"/>
<circle cx="1200.0" cy="876.0" r="7.1" fill="url(#halo)"/>
<rect x="1196.1" y="872.1" width="7.8" height="7.8" fill="url(#sp2)" transform="rotate(52 1200.0 876.0)"/>
<circle cx="1164.2" cy="885.3" r="7.1" fill="url(#halo)"/>
<rect x="1160.3" y="881.4" width="7.8" height="7.8" fill="url(#sp2)" transform="rotate(39 1164.2 885.3)"/>
<circle cx="1165.0" cy="896.2" r="5.8" fill="url(#halo)"/>
<rect x="1161.8" y="893.0" width="6.4" height="6.4" fill="url(#sp3)" transform="rotate(37 1165.0 896.2)"/>
<circle cx="1193.0" cy="889.2" r="11.5" fill="url(#halo)"/>
<rect x="1186.6" y="882.8" width="12.8" height="12.8" fill="url(#sp1)" transform="rotate(58 1193.0 889.2)"/>
<circle cx="1207.7" cy="884.5" r="3.0" fill="url(#sc)"/>
<circle cx="1239.6" cy="888.4" r="7.1" fill="url(#halo)"/>
<rect x="1235.7" y="884.5" width="7.8" height="7.8" fill="url(#sp2)" transform="rotate(44 1239.6 888.4)"/>
<circle cx="1282.3" cy="900.8" r="5.8" fill="url(#halo)"/>
<rect x="1279.1" y="897.6" width="6.4" height="6.4" fill="url(#sp3)" transform="rotate(38 1282.3 900.8)"/>
<circle cx="1343.7" cy="893.1" r="7.7" fill="url(#halo)"/>
<rect x="1339.4" y="888.8" width="8.5" height="8.5" fill="url(#sp2)" transform="rotate(44 1343.7 893.1)"/>
<circle cx="1169.7" cy="921.0" r="12.8" fill="url(#halo)"/>
<rect x="1162.6" y="913.9" width="14.2" height="14.2" fill="url(#sp1)" transform="rotate(53 1169.7 921.0)"/>
<circle cx="1246.6" cy="924.9" r="9.0" fill="url(#halo)"/>
<rect x="1241.6" y="919.9" width="10.0" height="10.0" fill="url(#sp2)" transform="rotate(27 1246.6 924.9)"/>
<circle cx="1259.8" cy="937.4" r="2.4" fill="url(#sc)"/>
<circle cx="1298.6" cy="932.7" r="9.0" fill="url(#halo)"/>
<rect x="1293.6" y="927.7" width="10.0" height="10.0" fill="url(#sp2)" transform="rotate(64 1298.6 932.7)"/>
<circle cx="1352.3" cy="927.3" r="15.4" fill="url(#halo)"/>
<rect x="1343.8" y="918.8" width="17.1" height="17.1" fill="url(#sp1)" transform="rotate(26 1352.3 927.3)"/>
<circle cx="1335.2" cy="934.2" r="7.7" fill="url(#halo)"/>
<rect x="1330.9" y="929.9" width="8.5" height="8.5" fill="url(#sp2)" transform="rotate(55 1335.2 934.2)"/>
<circle cx="1360.0" cy="945.1" r="7.7" fill="url(#halo)"/>
<rect x="1355.7" y="940.8" width="8.5" height="8.5" fill="url(#sp2)" transform="rotate(59 1360.0 945.1)"/>
<circle cx="1330.5" cy="947.5" r="7.1" fill="url(#halo)"/>
<rect x="1326.6" y="943.6" width="7.8" height="7.8" fill="url(#sp2)" transform="rotate(26 1330.5 947.5)"/>
<circle cx="1304.9" cy="944.3" r="5.8" fill="url(#halo)"/>
<rect x="1301.7" y="941.1" width="6.4" height="6.4" fill="url(#sp3)" transform="rotate(57 1304.9 944.3)"/>
<circle cx="1313.4" cy="954.4" r="5.8" fill="url(#halo)"/>
<rect x="1310.2" y="951.2" width="6.4" height="6.4" fill="url(#sp3)" transform="rotate(40 1313.4 954.4)"/>
<circle cx="1210.8" cy="946.7" r="5.1" fill="url(#halo)"/>
<rect x="1208.0" y="943.9" width="5.7" height="5.7" fill="url(#sp3)" transform="rotate(48 1210.8 946.7)"/>
<circle cx="1223.3" cy="953.7" r="5.8" fill="url(#halo)"/>
<rect x="1220.1" y="950.5" width="6.4" height="6.4" fill="url(#sp3)" transform="rotate(25 1223.3 953.7)"/>
<circle cx="1179.0" cy="959.9" r="10.9" fill="url(#halo)"/>
<rect x="1172.9" y="953.8" width="12.1" height="12.1" fill="url(#sp1)" transform="rotate(27 1179.0 959.9)"/>
<circle cx="1179.8" cy="978.5" r="11.5" fill="url(#halo)"/>
<rect x="1173.4" y="972.1" width="12.8" height="12.8" fill="url(#sp1)" transform="rotate(32 1179.8 978.5)"/>
<circle cx="1166.5" cy="982.4" r="5.8" fill="url(#halo)"/>
<rect x="1163.3" y="979.2" width="6.4" height="6.4" fill="url(#sp3)" transform="rotate(63 1166.5 982.4)"/>
<circle cx="1255.9" cy="966.1" r="11.5" fill="url(#halo)"/>
<rect x="1249.5" y="959.7" width="12.8" height="12.8" fill="url(#sp1)" transform="rotate(33 1255.9 966.1)"/>
<circle cx="1254.3" cy="977.0" r="7.1" fill="url(#halo)"/>
<rect x="1250.4" y="973.1" width="7.8" height="7.8" fill="url(#sp2)" transform="rotate(55 1254.3 977.0)"/>
<circle cx="1227.9" cy="987.1" r="14.1" fill="url(#halo)"/>
<rect x="1220.1" y="979.3" width="15.7" height="15.7" fill="url(#sp1)" transform="rotate(62 1227.9 987.1)"/>
<circle cx="1276.9" cy="982.4" r="5.8" fill="url(#halo)"/>
<rect x="1273.7" y="979.2" width="6.4" height="6.4" fill="url(#sp3)" transform="rotate(63 1276.9 982.4)"/>
<circle cx="1303.3" cy="978.5" r="10.3" fill="url(#halo)"/>
<rect x="1297.6" y="972.8" width="11.4" height="11.4" fill="url(#sp2)" transform="rotate(39 1303.3 978.5)"/>
<circle cx="1366.2" cy="986.3" r="5.8" fill="url(#halo)"/>
<rect x="1363.0" y="983.1" width="6.4" height="6.4" fill="url(#sp3)" transform="rotate(39 1366.2 986.3)"/>
<circle cx="1248.9" cy="1001.8" r="7.7" fill="url(#halo)"/>
<rect x="1244.6" y="997.5" width="8.5" height="8.5" fill="url(#sp2)" transform="rotate(46 1248.9 1001.8)"/>
<circle cx="1265.2" cy="1003.4" r="5.1" fill="url(#halo)"/>
<rect x="1262.4" y="1000.5" width="5.7" height="5.7" fill="url(#sp3)" transform="rotate(56 1265.2 1003.4)"/>
<circle cx="1277.7" cy="1001.1" r="9.0" fill="url(#halo)"/>
<rect x="1272.7" y="996.1" width="10.0" height="10.0" fill="url(#sp2)" transform="rotate(29 1277.7 1001.1)"/>
<circle cx="1304.9" cy="999.5" r="9.0" fill="url(#halo)"/>
<rect x="1299.9" y="994.5" width="10.0" height="10.0" fill="url(#sp2)" transform="rotate(55 1304.9 999.5)"/>
<circle cx="1297.1" cy="1012.7" r="10.3" fill="url(#halo)"/>
<rect x="1291.4" y="1007.0" width="11.4" height="11.4" fill="url(#sp2)" transform="rotate(57 1297.1 1012.7)"/>
<circle cx="1259.8" cy="1015.8" r="10.3" fill="url(#halo)"/>
<rect x="1254.1" y="1010.1" width="11.4" height="11.4" fill="url(#sp2)" transform="rotate(59 1259.8 1015.8)"/>
<circle cx="1210.1" cy="1013.5" r="7.7" fill="url(#halo)"/>
<rect x="1205.8" y="1009.2" width="8.5" height="8.5" fill="url(#sp2)" transform="rotate(26 1210.1 1013.5)"/>
<circle cx="1218.6" cy="1006.5" r="3.8" fill="url(#halo)"/>
<rect x="1216.5" y="1004.4" width="4.3" height="4.3" fill="url(#sp3)" transform="rotate(63 1218.6 1006.5)"/>
<circle cx="1238.8" cy="1015.8" r="3.8" fill="url(#halo)"/>
<rect x="1236.7" y="1013.7" width="4.3" height="4.3" fill="url(#sp3)" transform="rotate(29 1238.8 1015.8)"/>
<circle cx="1232.6" cy="1025.9" r="9.0" fill="url(#halo)"/>
<rect x="1227.6" y="1020.9" width="10.0" height="10.0" fill="url(#sp2)" transform="rotate(39 1232.6 1025.9)"/>
<circle cx="1339.8" cy="1005.0" r="10.3" fill="url(#halo)"/>
<rect x="1334.1" y="999.3" width="11.4" height="11.4" fill="url(#sp2)" transform="rotate(49 1339.8 1005.0)"/>
<circle cx="1178.2" cy="1036.0" r="5.8" fill="url(#halo)"/>
<rect x="1175.0" y="1032.8" width="6.4" height="6.4" fill="url(#sp3)" transform="rotate(62 1178.2 1036.0)"/>
<circle cx="1193.7" cy="1042.2" r="3.0" fill="url(#sc)"/>
<circle cx="1273.0" cy="1036.8" r="5.1" fill="url(#halo)"/>
<rect x="1270.2" y="1034.0" width="5.7" height="5.7" fill="url(#sp3)" transform="rotate(39 1273.0 1036.8)"/>
<circle cx="1313.4" cy="1046.1" r="14.1" fill="url(#halo)"/>
<rect x="1305.6" y="1038.3" width="15.7" height="15.7" fill="url(#sp1)" transform="rotate(62 1313.4 1046.1)"/>
<circle cx="1367.0" cy="1045.4" r="5.1" fill="url(#halo)"/>
<rect x="1364.2" y="1042.6" width="5.7" height="5.7" fill="url(#sp3)" transform="rotate(47 1367.0 1045.4)"/>
<circle cx="1248.1" cy="1025.2" r="2.4" fill="url(#sc)"/>
<circle cx="1160.3" cy="1029.8" r="3.8" fill="url(#halo)"/>
<rect x="1158.2" y="1027.7" width="4.3" height="4.3" fill="url(#sp3)" transform="rotate(37 1160.3 1029.8)"/>
<circle cx="997.7" cy="1061.1" r="7.1" fill="url(#halo)"/>
<rect x="993.8" y="1057.2" width="7.8" height="7.8" fill="url(#sp2)" transform="rotate(38 997.7 1061.1)"/>
<circle cx="1092.5" cy="1067.3" r="10.9" fill="url(#halo)"/>
<rect x="1086.4" y="1061.2" width="12.1" height="12.1" fill="url(#sp1)" transform="rotate(32 1092.5 1067.3)"/>
<circle cx="1114.3" cy="1063.4" r="7.7" fill="url(#halo)"/>
<rect x="1110.0" y="1059.1" width="8.5" height="8.5" fill="url(#sp2)" transform="rotate(28 1114.3 1063.4)"/>
<circle cx="1045.1" cy="1072.0" r="3.8" fill="url(#halo)"/>
<rect x="1043.0" y="1069.9" width="4.3" height="4.3" fill="url(#sp3)" transform="rotate(31 1045.1 1072.0)"/>
<circle cx="1138.4" cy="1073.5" r="5.8" fill="url(#halo)"/>
<rect x="1135.2" y="1070.3" width="6.4" height="6.4" fill="url(#sp3)" transform="rotate(53 1138.4 1073.5)"/>
<circle cx="1160.9" cy="1086.7" r="5.1" fill="url(#halo)"/>
<rect x="1158.1" y="1083.9" width="5.7" height="5.7" fill="url(#sp3)" transform="rotate(65 1160.9 1086.7)"/>
<circle cx="1018.7" cy="1098.4" r="10.9" fill="url(#halo)"/>
<rect x="1012.6" y="1092.3" width="12.1" height="12.1" fill="url(#sp1)" transform="rotate(31 1018.7 1098.4)"/>
<circle cx="993.8" cy="1096.9" r="3.0" fill="url(#sc)"/>
<circle cx="979.9" cy="1104.6" r="1.8" fill="url(#sc)"/>
<circle cx="955.0" cy="1123.3" r="7.1" fill="url(#halo)"/>
<rect x="951.1" y="1119.4" width="7.8" height="7.8" fill="url(#sp2)" transform="rotate(27 955.0 1123.3)"/>
<circle cx="1071.5" cy="1123.3" r="10.9" fill="url(#halo)"/>
<rect x="1065.4" y="1117.2" width="12.1" height="12.1" fill="url(#sp1)" transform="rotate(64 1071.5 1123.3)"/>
<circle cx="1028.8" cy="1145.0" r="10.9" fill="url(#halo)"/>
<rect x="1022.7" y="1138.9" width="12.1" height="12.1" fill="url(#sp1)" transform="rotate(46 1028.8 1145.0)"/>
<circle cx="1054.4" cy="1139.6" r="10.3" fill="url(#halo)"/>
<rect x="1048.7" y="1133.9" width="11.4" height="11.4" fill="url(#sp2)" transform="rotate(41 1054.4 1139.6)"/>
<circle cx="1044.3" cy="1136.5" r="3.8" fill="url(#halo)"/>
<rect x="1042.2" y="1134.4" width="4.3" height="4.3" fill="url(#sp3)" transform="rotate(34 1044.3 1136.5)"/>
<circle cx="1105.7" cy="1142.7" r="7.7" fill="url(#halo)"/>
<rect x="1101.4" y="1138.4" width="8.5" height="8.5" fill="url(#sp2)" transform="rotate(49 1105.7 1142.7)"/>
<circle cx="1149.2" cy="1136.5" r="5.8" fill="url(#halo)"/>
<rect x="1146.0" y="1133.3" width="6.4" height="6.4" fill="url(#sp3)" transform="rotate(58 1149.2 1136.5)"/>
<circle cx="1133.7" cy="1140.4" r="1.8" fill="url(#sc)"/>
<circle cx="952.7" cy="1153.6" r="5.1" fill="url(#halo)"/>
<rect x="949.9" y="1150.8" width="5.7" height="5.7" fill="url(#sp3)" transform="rotate(43 952.7 1153.6)"/>
<circle cx="1066.9" cy="1152.8" r="9.0" fill="url(#halo)"/>
<rect x="1061.9" y="1147.8" width="10.0" height="10.0" fill="url(#sp2)" transform="rotate(42 1066.9 1152.8)"/>
<circle cx="1067.7" cy="1168.3" r="9.0" fill="url(#halo)"/>
<rect x="1062.7" y="1163.3" width="10.0" height="10.0" fill="url(#sp2)" transform="rotate(27 1067.7 1168.3)"/>
<circle cx="1003.2" cy="1162.9" r="7.7" fill="url(#halo)"/>
<rect x="998.9" y="1158.6" width="8.5" height="8.5" fill="url(#sp2)" transform="rotate(62 1003.2 1162.9)"/>
<circle cx="1094.1" cy="1176.1" r="10.3" fill="url(#halo)"/>
<rect x="1088.4" y="1170.4" width="11.4" height="11.4" fill="url(#sp2)" transform="rotate(26 1094.1 1176.1)"/>
<circle cx="974.4" cy="1186.2" r="9.0" fill="url(#halo)"/>
<rect x="969.4" y="1181.2" width="10.0" height="10.0" fill="url(#sp2)" transform="rotate(45 974.4 1186.2)"/>
<circle cx="954.2" cy="1187.0" r="5.8" fill="url(#halo)"/>
<rect x="951.0" y="1183.8" width="6.4" height="6.4" fill="url(#sp3)" transform="rotate(59 954.2 1187.0)"/>
<circle cx="1017.2" cy="1188.5" r="1.8" fill="url(#sc)"/>
<circle cx="1118.2" cy="1193.2" r="9.0" fill="url(#halo)"/>
<rect x="1113.2" y="1188.2" width="10.0" height="10.0" fill="url(#sp2)" transform="rotate(30 1118.2 1193.2)"/>
<circle cx="1129.0" cy="1200.2" r="7.7" fill="url(#halo)"/>
<rect x="1124.7" y="1195.9" width="8.5" height="8.5" fill="url(#sp2)" transform="rotate(54 1129.0 1200.2)"/>
<circle cx="964.3" cy="1202.5" r="7.1" fill="url(#halo)"/>
<rect x="960.4" y="1198.6" width="7.8" height="7.8" fill="url(#sp2)" transform="rotate(63 964.3 1202.5)"/>
<circle cx="995.4" cy="1199.4" r="7.7" fill="url(#halo)"/>
<rect x="991.1" y="1195.1" width="8.5" height="8.5" fill="url(#sp2)" transform="rotate(50 995.4 1199.4)"/>
<circle cx="1008.6" cy="1198.6" r="2.4" fill="url(#sc)"/>
<circle cx="982.2" cy="1212.6" r="7.1" fill="url(#halo)"/>
<rect x="978.3" y="1208.7" width="7.8" height="7.8" fill="url(#sp2)" transform="rotate(57 982.2 1212.6)"/>
<circle cx="957.3" cy="1222.7" r="18.0" fill="url(#halo)"/>
<rect x="947.3" y="1212.7" width="19.9" height="19.9" fill="url(#sp1)" transform="rotate(29 957.3 1222.7)"/>
<circle cx="1003.9" cy="1216.5" r="7.7" fill="url(#halo)"/>
<rect x="999.6" y="1212.2" width="8.5" height="8.5" fill="url(#sp2)" transform="rotate(42 1003.9 1216.5)"/>
<circle cx="1101.8" cy="1215.7" r="5.1" fill="url(#halo)"/>
<rect x="1099.0" y="1212.9" width="5.7" height="5.7" fill="url(#sp3)" transform="rotate(31 1101.8 1215.7)"/>
<circle cx="1133.7" cy="1212.6" r="1.8" fill="url(#sc)"/>
<circle cx="1156.2" cy="1227.4" r="10.9" fill="url(#halo)"/>
<rect x="1150.1" y="1221.3" width="12.1" height="12.1" fill="url(#sp1)" transform="rotate(59 1156.2 1227.4)"/>
<circle cx="1007.8" cy="1235.9" r="10.3" fill="url(#halo)"/>
<rect x="1002.1" y="1230.2" width="11.4" height="11.4" fill="url(#sp2)" transform="rotate(37 1007.8 1235.9)"/>
<circle cx="1024.1" cy="1230.5" r="3.8" fill="url(#halo)"/>
<rect x="1022.0" y="1228.4" width="4.3" height="4.3" fill="url(#sp3)" transform="rotate(43 1024.1 1230.5)"/>
<circle cx="1027.3" cy="1244.5" r="5.8" fill="url(#halo)"/>
<rect x="1024.1" y="1241.3" width="6.4" height="6.4" fill="url(#sp3)" transform="rotate(65 1027.3 1244.5)"/>
<circle cx="1041.2" cy="1242.2" r="7.7" fill="url(#halo)"/>
<rect x="1036.9" y="1237.9" width="8.5" height="8.5" fill="url(#sp2)" transform="rotate(59 1041.2 1242.2)"/>
<circle cx="1054.4" cy="1242.2" r="10.9" fill="url(#halo)"/>
<rect x="1048.3" y="1236.1" width="12.1" height="12.1" fill="url(#sp1)" transform="rotate(64 1054.4 1242.2)"/>
<circle cx="1061.4" cy="1232.8" r="7.1" fill="url(#halo)"/>
<rect x="1057.5" y="1228.9" width="7.8" height="7.8" fill="url(#sp2)" transform="rotate(43 1061.4 1232.8)"/>
<circle cx="1101.1" cy="1233.6" r="5.1" fill="url(#halo)"/>
<rect x="1098.2" y="1230.8" width="5.7" height="5.7" fill="url(#sp3)" transform="rotate(45 1101.1 1233.6)"/>
<circle cx="1101.1" cy="1243.7" r="7.7" fill="url(#halo)"/>
<rect x="1096.8" y="1239.4" width="8.5" height="8.5" fill="url(#sp2)" transform="rotate(54 1101.1 1243.7)"/>
<circle cx="1115.1" cy="1246.0" r="7.7" fill="url(#halo)"/>
<rect x="1110.8" y="1241.7" width="8.5" height="8.5" fill="url(#sp2)" transform="rotate(44 1115.1 1246.0)"/>
<circle cx="1150.0" cy="1249.9" r="10.9" fill="url(#halo)"/>
<rect x="1143.9" y="1243.8" width="12.1" height="12.1" fill="url(#sp1)" transform="rotate(37 1150.0 1249.9)"/>
<circle cx="1010.9" cy="1255.4" r="14.1" fill="url(#halo)"/>
<rect x="1003.1" y="1247.6" width="15.7" height="15.7" fill="url(#sp1)" transform="rotate(41 1010.9 1255.4)"/>
<circle cx="1032.7" cy="1263.1" r="12.8" fill="url(#halo)"/>
<rect x="1025.6" y="1256.0" width="14.2" height="14.2" fill="url(#sp1)" transform="rotate(31 1032.7 1263.1)"/>
<circle cx="967.4" cy="1262.4" r="11.5" fill="url(#halo)"/>
<rect x="961.0" y="1256.0" width="12.8" height="12.8" fill="url(#sp1)" transform="rotate(40 967.4 1262.4)"/>
<circle cx="1092.5" cy="1264.7" r="5.8" fill="url(#halo)"/>
<rect x="1089.3" y="1261.5" width="6.4" height="6.4" fill="url(#sp3)" transform="rotate(65 1092.5 1264.7)"/>
<circle cx="1136.8" cy="1264.7" r="5.8" fill="url(#halo)"/>
<rect x="1133.6" y="1261.5" width="6.4" height="6.4" fill="url(#sp3)" transform="rotate(63 1136.8 1264.7)"/>
<circle cx="1258.2" cy="1062.7" r="5.8" fill="url(#halo)"/>
<rect x="1255.0" y="1059.5" width="6.4" height="6.4" fill="url(#sp3)" transform="rotate(50 1258.2 1062.7)"/>
<circle cx="1283.1" cy="1062.7" r="7.1" fill="url(#halo)"/>
<rect x="1279.2" y="1058.8" width="7.8" height="7.8" fill="url(#sp2)" transform="rotate(45 1283.1 1062.7)"/>
<circle cx="1329.7" cy="1062.7" r="5.8" fill="url(#halo)"/>
<rect x="1326.5" y="1059.5" width="6.4" height="6.4" fill="url(#sp3)" transform="rotate(39 1329.7 1062.7)"/>
<circle cx="1358.5" cy="1078.2" r="12.8" fill="url(#halo)"/>
<rect x="1351.4" y="1071.1" width="14.2" height="14.2" fill="url(#sp1)" transform="rotate(29 1358.5 1078.2)"/>
<circle cx="1162.7" cy="1086.7" r="5.8" fill="url(#halo)"/>
<rect x="1159.5" y="1083.5" width="6.4" height="6.4" fill="url(#sp3)" transform="rotate(36 1162.7 1086.7)"/>
<circle cx="1186.7" cy="1091.4" r="7.7" fill="url(#halo)"/>
<rect x="1182.4" y="1087.1" width="8.5" height="8.5" fill="url(#sp2)" transform="rotate(56 1186.7 1091.4)"/>
<circle cx="1191.4" cy="1100.0" r="10.9" fill="url(#halo)"/>
<rect x="1185.3" y="1093.9" width="12.1" height="12.1" fill="url(#sp1)" transform="rotate(60 1191.4 1100.0)"/>
<circle cx="1224.8" cy="1081.3" r="7.7" fill="url(#halo)"/>
<rect x="1220.5" y="1077.0" width="8.5" height="8.5" fill="url(#sp2)" transform="rotate(39 1224.8 1081.3)"/>
<circle cx="1221.7" cy="1087.5" r="5.8" fill="url(#halo)"/>
<rect x="1218.5" y="1084.3" width="6.4" height="6.4" fill="url(#sp3)" transform="rotate(56 1221.7 1087.5)"/>
<circle cx="1266.8" cy="1097.6" r="7.1" fill="url(#halo)"/>
<rect x="1262.9" y="1093.7" width="7.8" height="7.8" fill="url(#sp2)" transform="rotate(56 1266.8 1097.6)"/>
<circle cx="1330.5" cy="1097.6" r="5.8" fill="url(#halo)"/>
<rect x="1327.3" y="1094.4" width="6.4" height="6.4" fill="url(#sp3)" transform="rotate(53 1330.5 1097.6)"/>
<circle cx="1342.2" cy="1098.4" r="7.1" fill="url(#halo)"/>
<rect x="1338.3" y="1094.5" width="7.8" height="7.8" fill="url(#sp2)" transform="rotate(52 1342.2 1098.4)"/>
<circle cx="1352.3" cy="1096.1" r="5.8" fill="url(#halo)"/>
<rect x="1349.1" y="1092.9" width="6.4" height="6.4" fill="url(#sp3)" transform="rotate(55 1352.3 1096.1)"/>
<circle cx="1166.5" cy="1116.3" r="3.0" fill="url(#sc)"/>
<circle cx="1180.5" cy="1124.8" r="3.0" fill="url(#sc)"/>
<circle cx="1346.8" cy="1133.4" r="9.0" fill="url(#halo)"/>
<rect x="1341.8" y="1128.4" width="10.0" height="10.0" fill="url(#sp2)" transform="rotate(40 1346.8 1133.4)"/>
<circle cx="1252.8" cy="1145.0" r="10.3" fill="url(#halo)"/>
<rect x="1247.1" y="1139.3" width="11.4" height="11.4" fill="url(#sp2)" transform="rotate(53 1252.8 1145.0)"/>
<circle cx="1298.6" cy="1149.7" r="9.0" fill="url(#halo)"/>
<rect x="1293.6" y="1144.7" width="10.0" height="10.0" fill="url(#sp2)" transform="rotate(36 1298.6 1149.7)"/>
<circle cx="1200.7" cy="1154.3" r="9.0" fill="url(#halo)"/>
<rect x="1195.7" y="1149.3" width="10.0" height="10.0" fill="url(#sp2)" transform="rotate(44 1200.7 1154.3)"/>
<circle cx="1214.7" cy="1155.1" r="7.1" fill="url(#halo)"/>
<rect x="1210.8" y="1151.2" width="7.8" height="7.8" fill="url(#sp2)" transform="rotate(56 1214.7 1155.1)"/>
<circle cx="1316.5" cy="1158.2" r="7.7" fill="url(#halo)"/>
<rect x="1312.2" y="1153.9" width="8.5" height="8.5" fill="url(#sp2)" transform="rotate(53 1316.5 1158.2)"/>
<circle cx="1359.2" cy="1154.3" r="3.8" fill="url(#halo)"/>
<rect x="1357.1" y="1152.2" width="4.3" height="4.3" fill="url(#sp3)" transform="rotate(37 1359.2 1154.3)"/>
<circle cx="1366.2" cy="1168.3" r="11.5" fill="url(#halo)"/>
<rect x="1359.8" y="1161.9" width="12.8" height="12.8" fill="url(#sp1)" transform="rotate(63 1366.2 1168.3)"/>
<circle cx="1259.8" cy="1165.2" r="10.3" fill="url(#halo)"/>
<rect x="1254.1" y="1159.5" width="11.4" height="11.4" fill="url(#sp2)" transform="rotate(51 1259.8 1165.2)"/>
<circle cx="1263.7" cy="1179.2" r="12.8" fill="url(#halo)"/>
<rect x="1256.6" y="1172.1" width="14.2" height="14.2" fill="url(#sp1)" transform="rotate(48 1263.7 1179.2)"/>
<circle cx="1297.1" cy="1169.9" r="7.1" fill="url(#halo)"/>
<rect x="1293.2" y="1166.0" width="7.8" height="7.8" fill="url(#sp2)" transform="rotate(25 1297.1 1169.9)"/>
<circle cx="1177.4" cy="1176.9" r="9.0" fill="url(#halo)"/>
<rect x="1172.4" y="1171.9" width="10.0" height="10.0" fill="url(#sp2)" transform="rotate(47 1177.4 1176.9)"/>
<circle cx="1165.8" cy="1171.4" r="3.0" fill="url(#sc)"/>
<circle cx="1204.6" cy="1175.3" r="3.8" fill="url(#halo)"/>
<rect x="1202.5" y="1173.2" width="4.3" height="4.3" fill="url(#sp3)" transform="rotate(35 1204.6 1175.3)"/>
<circle cx="1176.6" cy="1164.4" r="3.0" fill="url(#sc)"/>
<circle cx="1218.6" cy="1186.2" r="7.7" fill="url(#halo)"/>
<rect x="1214.3" y="1181.9" width="8.5" height="8.5" fill="url(#sp2)" transform="rotate(52 1218.6 1186.2)"/>
<circle cx="1308.7" cy="1180.0" r="7.1" fill="url(#halo)"/>
<rect x="1304.8" y="1176.1" width="7.8" height="7.8" fill="url(#sp2)" transform="rotate(44 1308.7 1180.0)"/>
<circle cx="1311.1" cy="1194.0" r="9.0" fill="url(#halo)"/>
<rect x="1306.1" y="1189.0" width="10.0" height="10.0" fill="url(#sp2)" transform="rotate(58 1311.1 1194.0)"/>
<circle cx="1359.2" cy="1189.3" r="14.1" fill="url(#halo)"/>
<rect x="1351.4" y="1181.5" width="15.7" height="15.7" fill="url(#sp1)" transform="rotate(51 1359.2 1189.3)"/>
<circle cx="1179.8" cy="1190.1" r="5.8" fill="url(#halo)"/>
<rect x="1176.6" y="1186.9" width="6.4" height="6.4" fill="url(#sp3)" transform="rotate(57 1179.8 1190.1)"/>
<circle cx="1186.7" cy="1193.2" r="3.0" fill="url(#sc)"/>
<circle cx="1189.9" cy="1204.9" r="10.9" fill="url(#halo)"/>
<rect x="1183.8" y="1198.8" width="12.1" height="12.1" fill="url(#sp1)" transform="rotate(39 1189.9 1204.9)"/>
<circle cx="1231.0" cy="1204.1" r="10.3" fill="url(#halo)"/>
<rect x="1225.3" y="1198.4" width="11.4" height="11.4" fill="url(#sp2)" transform="rotate(51 1231.0 1204.1)"/>
<circle cx="1308.7" cy="1215.7" r="5.8" fill="url(#halo)"/>
<rect x="1305.5" y="1212.5" width="6.4" height="6.4" fill="url(#sp3)" transform="rotate(55 1308.7 1215.7)"/>
<circle cx="1162.7" cy="1227.4" r="10.9" fill="url(#halo)"/>
<rect x="1156.6" y="1221.3" width="12.1" height="12.1" fill="url(#sp1)" transform="rotate(58 1162.7 1227.4)"/>
<circle cx="1231.0" cy="1222.0" r="7.7" fill="url(#halo)"/>
<rect x="1226.7" y="1217.7" width="8.5" height="8.5" fill="url(#sp2)" transform="rotate(39 1231.0 1222.0)"/>
<circle cx="1250.5" cy="1223.5" r="7.7" fill="url(#halo)"/>
<rect x="1246.2" y="1219.2" width="8.5" height="8.5" fill="url(#sp2)" transform="rotate(59 1250.5 1223.5)"/>
<circle cx="1316.5" cy="1243.7" r="7.7" fill="url(#halo)"/>
<rect x="1312.2" y="1239.4" width="8.5" height="8.5" fill="url(#sp2)" transform="rotate(60 1316.5 1243.7)"/>
<circle cx="1276.1" cy="1250.7" r="12.8" fill="url(#halo)"/>
<rect x="1269.0" y="1243.6" width="14.2" height="14.2" fill="url(#sp1)" transform="rotate(53 1276.1 1250.7)"/>
<circle cx="1336.7" cy="1251.5" r="10.9" fill="url(#halo)"/>
<rect x="1330.6" y="1245.4" width="12.1" height="12.1" fill="url(#sp1)" transform="rotate(64 1336.7 1251.5)"/>
<circle cx="1353.8" cy="1248.4" r="11.5" fill="url(#halo)"/>
<rect x="1347.4" y="1242.0" width="12.8" height="12.8" fill="url(#sp1)" transform="rotate(63 1353.8 1248.4)"/>
<circle cx="1367.0" cy="1244.5" r="7.7" fill="url(#halo)"/>
<rect x="1362.7" y="1240.2" width="8.5" height="8.5" fill="url(#sp2)" transform="rotate(46 1367.0 1244.5)"/>
<circle cx="1221.7" cy="1264.7" r="7.7" fill="url(#halo)"/>
<rect x="1217.4" y="1260.4" width="8.5" height="8.5" fill="url(#sp2)" transform="rotate(46 1221.7 1264.7)"/>
<circle cx="1272.2" cy="1265.5" r="7.7" fill="url(#halo)"/>
<rect x="1267.9" y="1261.2" width="8.5" height="8.5" fill="url(#sp2)" transform="rotate(32 1272.2 1265.5)"/>
<circle cx="1305.6" cy="1264.7" r="9.0" fill="url(#halo)"/>
<rect x="1300.6" y="1259.7" width="10.0" height="10.0" fill="url(#sp2)" transform="rotate(58 1305.6 1264.7)"/>
<circle cx="1176.6" cy="1263.1" r="3.0" fill="url(#sc)"/>
<circle cx="1290.9" cy="1235.2" r="1.8" fill="url(#sc)"/>
</g>
</g>
<g clip-path="url(#ca3)"><rect x="1765" y="850" width="421.3" height="420.5" fill="#7c3612"/><g filter="url(#bl3)">
<rect x="1764.7" y="849.7" width="13.8" height="13.7" fill="#7b3512"/>
<rect x="1777.9" y="849.7" width="13.8" height="13.7" fill="#986025"/>
<rect x="1791.0" y="849.7" width="13.8" height="13.7" fill="#d5b578"/>
<rect x="1804.2" y="849.7" width="13.8" height="13.7" fill="#ecd9af"/>
<rect x="1817.4" y="849.7" width="13.8" height="13.7" fill="#ecd9af"/>
<rect x="1830.5" y="849.7" width="13.8" height="13.7" fill="#e2c893"/>
<rect x="1843.7" y="849.7" width="13.8" height="13.7" fill="#c69f5c"/>
<rect x="1856.9" y="849.7" width="13.8" height="13.7" fill="#c69f5c"/>
<rect x="1870.0" y="849.7" width="13.8" height="13.7" fill="#e2c893"/>
<rect x="1883.2" y="849.7" width="13.8" height="13.7" fill="#ceaa6a"/>
<rect x="1896.4" y="849.7" width="13.8" height="13.7" fill="#834016"/>
<rect x="1909.5" y="849.7" width="13.8" height="13.7" fill="#7b3512"/>
<rect x="1922.7" y="849.7" width="13.8" height="13.7" fill="#b78c48"/>
<rect x="1935.9" y="849.7" width="13.8" height="13.7" fill="#d5b578"/>
<rect x="1949.0" y="849.7" width="13.8" height="13.7" fill="#d5b578"/>
<rect x="1962.2" y="849.7" width="13.8" height="13.7" fill="#c69f5c"/>
<rect x="1975.4" y="849.7" width="13.8" height="13.7" fill="#a77736"/>
<rect x="1988.5" y="849.7" width="13.8" height="13.7" fill="#986025"/>
<rect x="2001.7" y="849.7" width="13.8" height="13.7" fill="#986025"/>
<rect x="2014.8" y="849.7" width="13.8" height="13.7" fill="#8a4a1a"/>
<rect x="2028.0" y="849.7" width="13.8" height="13.7" fill="#6e240a"/>
<rect x="2041.2" y="849.7" width="13.8" height="13.7" fill="#671b06"/>
<rect x="2054.3" y="849.7" width="13.8" height="13.7" fill="#752d0e"/>
<rect x="2067.5" y="849.7" width="13.8" height="13.7" fill="#752d0e"/>
<rect x="2080.7" y="849.7" width="13.8" height="13.7" fill="#671b06"/>
<rect x="2093.8" y="849.7" width="13.8" height="13.7" fill="#752d0e"/>
<rect x="2107.0" y="849.7" width="13.8" height="13.7" fill="#a06c2e"/>
<rect x="2120.2" y="849.7" width="13.8" height="13.7" fill="#af823f"/>
<rect x="2133.3" y="849.7" width="13.8" height="13.7" fill="#a06c2e"/>
<rect x="2146.5" y="849.7" width="13.8" height="13.7" fill="#91551e"/>
<rect x="2159.7" y="849.7" width="13.8" height="13.7" fill="#834016"/>
<rect x="2172.8" y="849.7" width="13.8" height="13.7" fill="#7b3512"/>
<rect x="1764.7" y="862.8" width="13.8" height="13.7" fill="#8a4a1a"/>
<rect x="1777.9" y="862.8" width="13.8" height="13.7" fill="#9c6629"/>
<rect x="1791.0" y="862.8" width="13.8" height="13.7" fill="#c39a56"/>
<rect x="1804.2" y="862.8" width="13.8" height="13.7" fill="#dbbd82"/>
<rect x="1817.4" y="862.8" width="13.8" height="13.7" fill="#e3ca97"/>
<rect x="1830.5" y="862.8" width="13.8" height="13.7" fill="#d9ba7f"/>
<rect x="1843.7" y="862.8" width="13.8" height="13.7" fill="#b38744"/>
<rect x="1856.9" y="862.8" width="13.8" height="13.7" fill="#b58946"/>
<rect x="1870.0" y="862.8" width="13.8" height="13.7" fill="#dec189"/>
<rect x="1883.2" y="862.8" width="13.8" height="13.7" fill="#ceaa6a"/>
<rect x="1896.4" y="862.8" width="13.8" height="13.7" fill="#834016"/>
<rect x="1909.5" y="862.8" width="13.8" height="13.7" fill="#7d3813"/>
<rect x="1922.7" y="862.8" width="13.8" height="13.7" fill="#bd934f"/>
<rect x="1935.9" y="862.8" width="13.8" height="13.7" fill="#d4b274"/>
<rect x="1949.0" y="862.8" width="13.8" height="13.7" fill="#c19854"/>
<rect x="1962.2" y="862.8" width="13.8" height="13.7" fill="#af823f"/>
<rect x="1975.4" y="862.8" width="13.8" height="13.7" fill="#a06c2e"/>
<rect x="1988.5" y="862.8" width="13.8" height="13.7" fill="#975d23"/>
<rect x="2001.7" y="862.8" width="13.8" height="13.7" fill="#93581f"/>
<rect x="2014.8" y="862.8" width="13.8" height="13.7" fill="#8a4a1a"/>
<rect x="2028.0" y="862.8" width="13.8" height="13.7" fill="#7b3512"/>
<rect x="2041.2" y="862.8" width="13.8" height="13.7" fill="#752d0e"/>
<rect x="2054.3" y="862.8" width="13.8" height="13.7" fill="#752d0e"/>
<rect x="2067.5" y="862.8" width="13.8" height="13.7" fill="#762f0f"/>
<rect x="2080.7" y="862.8" width="13.8" height="13.7" fill="#7a3311"/>
<rect x="2093.8" y="862.8" width="13.8" height="13.7" fill="#8a4a1a"/>
<rect x="2107.0" y="862.8" width="13.8" height="13.7" fill="#a77736"/>
<rect x="2120.2" y="862.8" width="13.8" height="13.7" fill="#b18441"/>
<rect x="2133.3" y="862.8" width="13.8" height="13.7" fill="#a67534"/>
<rect x="2146.5" y="862.8" width="13.8" height="13.7" fill="#9c6629"/>
<rect x="2159.7" y="862.8" width="13.8" height="13.7" fill="#955b21"/>
<rect x="2172.8" y="862.8" width="13.8" height="13.7" fill="#91551e"/>
<rect x="1764.7" y="876.0" width="13.8" height="13.7" fill="#a77736"/>
<rect x="1777.9" y="876.0" width="13.8" height="13.7" fill="#a47232"/>
<rect x="1791.0" y="876.0" width="13.8" height="13.7" fill="#9c6629"/>
<rect x="1804.2" y="876.0" width="13.8" height="13.7" fill="#a97a38"/>
<rect x="1817.4" y="876.0" width="13.8" height="13.7" fill="#cca767"/>
<rect x="1830.5" y="876.0" width="13.8" height="13.7" fill="#c39a56"/>
<rect x="1843.7" y="876.0" width="13.8" height="13.7" fill="#8d501c"/>
<rect x="1856.9" y="876.0" width="13.8" height="13.7" fill="#93581f"/>
<rect x="1870.0" y="876.0" width="13.8" height="13.7" fill="#d4b274"/>
<rect x="1883.2" y="876.0" width="13.8" height="13.7" fill="#ceaa6a"/>
<rect x="1896.4" y="876.0" width="13.8" height="13.7" fill="#834016"/>
<rect x="1909.5" y="876.0" width="13.8" height="13.7" fill="#813d15"/>
<rect x="1922.7" y="876.0" width="13.8" height="13.7" fill="#c8a260"/>
<rect x="1935.9" y="876.0" width="13.8" height="13.7" fill="#d0ad6e"/>
<rect x="1949.0" y="876.0" width="13.8" height="13.7" fill="#975d23"/>
<rect x="1962.2" y="876.0" width="13.8" height="13.7" fill="#834016"/>
<rect x="1975.4" y="876.0" width="13.8" height="13.7" fill="#91551e"/>
<rect x="1988.5" y="876.0" width="13.8" height="13.7" fill="#93581f"/>
<rect x="2001.7" y="876.0" width="13.8" height="13.7" fill="#884819"/>
<rect x="2014.8" y="876.0" width="13.8" height="13.7" fill="#8a4a1a"/>
<rect x="2028.0" y="876.0" width="13.8" height="13.7" fill="#986025"/>
<rect x="2041.2" y="876.0" width="13.8" height="13.7" fill="#91551e"/>
<rect x="2054.3" y="876.0" width="13.8" height="13.7" fill="#752d0e"/>
<rect x="2067.5" y="876.0" width="13.8" height="13.7" fill="#7a3311"/>
<rect x="2080.7" y="876.0" width="13.8" height="13.7" fill="#a26f30"/>
<rect x="2093.8" y="876.0" width="13.8" height="13.7" fill="#b78c48"/>
<rect x="2107.0" y="876.0" width="13.8" height="13.7" fill="#b78c48"/>
<rect x="2120.2" y="876.0" width="13.8" height="13.7" fill="#b58946"/>
<rect x="2133.3" y="876.0" width="13.8" height="13.7" fill="#b18441"/>
<rect x="2146.5" y="876.0" width="13.8" height="13.7" fill="#b38744"/>
<rect x="2159.7" y="876.0" width="13.8" height="13.7" fill="#bb914d"/>
<rect x="2172.8" y="876.0" width="13.8" height="13.7" fill="#bf9552"/>
<rect x="1764.7" y="889.1" width="13.8" height="13.7" fill="#af823f"/>
<rect x="1777.9" y="889.1" width="13.8" height="13.7" fill="#a77736"/>
<rect x="1791.0" y="889.1" width="13.8" height="13.7" fill="#986025"/>
<rect x="1804.2" y="889.1" width="13.8" height="13.7" fill="#a26f30"/>
<rect x="1817.4" y="889.1" width="13.8" height="13.7" fill="#c59d59"/>
<rect x="1830.5" y="889.1" width="13.8" height="13.7" fill="#b78c48"/>
<rect x="1843.7" y="889.1" width="13.8" height="13.7" fill="#7b3512"/>
<rect x="1856.9" y="889.1" width="13.8" height="13.7" fill="#834016"/>
<rect x="1870.0" y="889.1" width="13.8" height="13.7" fill="#ceaa6a"/>
<rect x="1883.2" y="889.1" width="13.8" height="13.7" fill="#cca767"/>
<rect x="1896.4" y="889.1" width="13.8" height="13.7" fill="#7d3813"/>
<rect x="1909.5" y="889.1" width="13.8" height="13.7" fill="#7a3311"/>
<rect x="1922.7" y="889.1" width="13.8" height="13.7" fill="#c19854"/>
<rect x="1935.9" y="889.1" width="13.8" height="13.7" fill="#c8a260"/>
<rect x="1949.0" y="889.1" width="13.8" height="13.7" fill="#8f521d"/>
<rect x="1962.2" y="889.1" width="13.8" height="13.7" fill="#7b3512"/>
<rect x="1975.4" y="889.1" width="13.8" height="13.7" fill="#8a4a1a"/>
<rect x="1988.5" y="889.1" width="13.8" height="13.7" fill="#884819"/>
<rect x="2001.7" y="889.1" width="13.8" height="13.7" fill="#762f0f"/>
<rect x="2014.8" y="889.1" width="13.8" height="13.7" fill="#7f3a14"/>
<rect x="2028.0" y="889.1" width="13.8" height="13.7" fill="#a47232"/>
<rect x="2041.2" y="889.1" width="13.8" height="13.7" fill="#9e692b"/>
<rect x="2054.3" y="889.1" width="13.8" height="13.7" fill="#6f260b"/>
<rect x="2067.5" y="889.1" width="13.8" height="13.7" fill="#762f0f"/>
<rect x="2080.7" y="889.1" width="13.8" height="13.7" fill="#b58946"/>
<rect x="2093.8" y="889.1" width="13.8" height="13.7" fill="#ceaa6a"/>
<rect x="2107.0" y="889.1" width="13.8" height="13.7" fill="#bf9552"/>
<rect x="2120.2" y="889.1" width="13.8" height="13.7" fill="#b18441"/>
<rect x="2133.3" y="889.1" width="13.8" height="13.7" fill="#a67534"/>
<rect x="2146.5" y="889.1" width="13.8" height="13.7" fill="#ab7d3a"/>
<rect x="2159.7" y="889.1" width="13.8" height="13.7" fill="#c39a56"/>
<rect x="2172.8" y="889.1" width="13.8" height="13.7" fill="#ceaa6a"/>
<rect x="1764.7" y="902.3" width="13.8" height="13.7" fill="#a06c2e"/>
<rect x="1777.9" y="902.3" width="13.8" height="13.7" fill="#a77736"/>
<rect x="1791.0" y="902.3" width="13.8" height="13.7" fill="#b78c48"/>
<rect x="1804.2" y="902.3" width="13.8" height="13.7" fill="#c59d59"/>
<rect x="1817.4" y="902.3" width="13.8" height="13.7" fill="#d0ad6e"/>
<rect x="1830.5" y="902.3" width="13.8" height="13.7" fill="#b78c48"/>
<rect x="1843.7" y="902.3" width="13.8" height="13.7" fill="#7b3512"/>
<rect x="1856.9" y="902.3" width="13.8" height="13.7" fill="#834016"/>
<rect x="1870.0" y="902.3" width="13.8" height="13.7" fill="#ceaa6a"/>
<rect x="1883.2" y="902.3" width="13.8" height="13.7" fill="#c8a260"/>
<rect x="1896.4" y="902.3" width="13.8" height="13.7" fill="#732a0d"/>
<rect x="1909.5" y="902.3" width="13.8" height="13.7" fill="#691d07"/>
<rect x="1922.7" y="902.3" width="13.8" height="13.7" fill="#a67534"/>
<rect x="1935.9" y="902.3" width="13.8" height="13.7" fill="#bd934f"/>
<rect x="1949.0" y="902.3" width="13.8" height="13.7" fill="#a97a38"/>
<rect x="1962.2" y="902.3" width="13.8" height="13.7" fill="#986025"/>
<rect x="1975.4" y="902.3" width="13.8" height="13.7" fill="#8a4a1a"/>
<rect x="1988.5" y="902.3" width="13.8" height="13.7" fill="#762f0f"/>
<rect x="2001.7" y="902.3" width="13.8" height="13.7" fill="#5e1505"/>
<rect x="2014.8" y="902.3" width="13.8" height="13.7" fill="#6a1f08"/>
<rect x="2028.0" y="902.3" width="13.8" height="13.7" fill="#9c6629"/>
<rect x="2041.2" y="902.3" width="13.8" height="13.7" fill="#9a6327"/>
<rect x="2054.3" y="902.3" width="13.8" height="13.7" fill="#651906"/>
<rect x="2067.5" y="902.3" width="13.8" height="13.7" fill="#6c2209"/>
<rect x="2080.7" y="902.3" width="13.8" height="13.7" fill="#b18441"/>
<rect x="2093.8" y="902.3" width="13.8" height="13.7" fill="#ceaa6a"/>
<rect x="2107.0" y="902.3" width="13.8" height="13.7" fill="#bf9552"/>
<rect x="2120.2" y="902.3" width="13.8" height="13.7" fill="#a67534"/>
<rect x="2133.3" y="902.3" width="13.8" height="13.7" fill="#844217"/>
<rect x="2146.5" y="902.3" width="13.8" height="13.7" fill="#864518"/>
<rect x="2159.7" y="902.3" width="13.8" height="13.7" fill="#ab7d3a"/>
<rect x="2172.8" y="902.3" width="13.8" height="13.7" fill="#bf9552"/>
<rect x="1764.7" y="915.4" width="13.8" height="13.7" fill="#a06c2e"/>
<rect x="1777.9" y="915.4" width="13.8" height="13.7" fill="#a47232"/>
<rect x="1791.0" y="915.4" width="13.8" height="13.7" fill="#ab7d3a"/>
<rect x="1804.2" y="915.4" width="13.8" height="13.7" fill="#b38744"/>
<rect x="1817.4" y="915.4" width="13.8" height="13.7" fill="#bb914d"/>
<rect x="1830.5" y="915.4" width="13.8" height="13.7" fill="#ab7d3a"/>
<rect x="1843.7" y="915.4" width="13.8" height="13.7" fill="#864518"/>
<rect x="1856.9" y="915.4" width="13.8" height="13.7" fill="#884819"/>
<rect x="1870.0" y="915.4" width="13.8" height="13.7" fill="#b18441"/>
<rect x="1883.2" y="915.4" width="13.8" height="13.7" fill="#a47232"/>
<rect x="1896.4" y="915.4" width="13.8" height="13.7" fill="#631806"/>
<rect x="1909.5" y="915.4" width="13.8" height="13.7" fill="#5b1304"/>
<rect x="1922.7" y="915.4" width="13.8" height="13.7" fill="#884819"/>
<rect x="1935.9" y="915.4" width="13.8" height="13.7" fill="#a06c2e"/>
<rect x="1949.0" y="915.4" width="13.8" height="13.7" fill="#a06c2e"/>
<rect x="1962.2" y="915.4" width="13.8" height="13.7" fill="#955b21"/>
<rect x="1975.4" y="915.4" width="13.8" height="13.7" fill="#7f3a14"/>
<rect x="1988.5" y="915.4" width="13.8" height="13.7" fill="#6f260b"/>
<rect x="2001.7" y="915.4" width="13.8" height="13.7" fill="#651906"/>
<rect x="2014.8" y="915.4" width="13.8" height="13.7" fill="#6e240a"/>
<rect x="2028.0" y="915.4" width="13.8" height="13.7" fill="#8a4a1a"/>
<rect x="2041.2" y="915.4" width="13.8" height="13.7" fill="#834016"/>
<rect x="2054.3" y="915.4" width="13.8" height="13.7" fill="#591204"/>
<rect x="2067.5" y="915.4" width="13.8" height="13.7" fill="#601605"/>
<rect x="2080.7" y="915.4" width="13.8" height="13.7" fill="#986025"/>
<rect x="2093.8" y="915.4" width="13.8" height="13.7" fill="#b18441"/>
<rect x="2107.0" y="915.4" width="13.8" height="13.7" fill="#a67534"/>
<rect x="2120.2" y="915.4" width="13.8" height="13.7" fill="#93581f"/>
<rect x="2133.3" y="915.4" width="13.8" height="13.7" fill="#7a3311"/>
<rect x="2146.5" y="915.4" width="13.8" height="13.7" fill="#7a3311"/>
<rect x="2159.7" y="915.4" width="13.8" height="13.7" fill="#93581f"/>
<rect x="2172.8" y="915.4" width="13.8" height="13.7" fill="#a06c2e"/>
<rect x="1764.7" y="928.5" width="13.8" height="13.7" fill="#af823f"/>
<rect x="1777.9" y="928.5" width="13.8" height="13.7" fill="#9c6629"/>
<rect x="1791.0" y="928.5" width="13.8" height="13.7" fill="#783110"/>
<rect x="1804.2" y="928.5" width="13.8" height="13.7" fill="#71280c"/>
<rect x="1817.4" y="928.5" width="13.8" height="13.7" fill="#864518"/>
<rect x="1830.5" y="928.5" width="13.8" height="13.7" fill="#955b21"/>
<rect x="1843.7" y="928.5" width="13.8" height="13.7" fill="#9c6629"/>
<rect x="1856.9" y="928.5" width="13.8" height="13.7" fill="#93581f"/>
<rect x="1870.0" y="928.5" width="13.8" height="13.7" fill="#7a3311"/>
<rect x="1883.2" y="928.5" width="13.8" height="13.7" fill="#631806"/>
<rect x="1896.4" y="928.5" width="13.8" height="13.7" fill="#4f0c02"/>
<rect x="1909.5" y="928.5" width="13.8" height="13.7" fill="#500c02"/>
<rect x="1922.7" y="928.5" width="13.8" height="13.7" fill="#691d07"/>
<rect x="1935.9" y="928.5" width="13.8" height="13.7" fill="#752d0e"/>
<rect x="1949.0" y="928.5" width="13.8" height="13.7" fill="#752d0e"/>
<rect x="1962.2" y="928.5" width="13.8" height="13.7" fill="#71280c"/>
<rect x="1975.4" y="928.5" width="13.8" height="13.7" fill="#6a1f08"/>
<rect x="1988.5" y="928.5" width="13.8" height="13.7" fill="#732a0d"/>
<rect x="2001.7" y="928.5" width="13.8" height="13.7" fill="#8c4d1b"/>
<rect x="2014.8" y="928.5" width="13.8" height="13.7" fill="#8a4a1a"/>
<rect x="2028.0" y="928.5" width="13.8" height="13.7" fill="#6e240a"/>
<rect x="2041.2" y="928.5" width="13.8" height="13.7" fill="#591204"/>
<rect x="2054.3" y="928.5" width="13.8" height="13.7" fill="#4b0a02"/>
<rect x="2067.5" y="928.5" width="13.8" height="13.7" fill="#520d02"/>
<rect x="2080.7" y="928.5" width="13.8" height="13.7" fill="#6e240a"/>
<rect x="2093.8" y="928.5" width="13.8" height="13.7" fill="#7a3311"/>
<rect x="2107.0" y="928.5" width="13.8" height="13.7" fill="#762f0f"/>
<rect x="2120.2" y="928.5" width="13.8" height="13.7" fill="#7a3311"/>
<rect x="2133.3" y="928.5" width="13.8" height="13.7" fill="#844217"/>
<rect x="2146.5" y="928.5" width="13.8" height="13.7" fill="#844217"/>
<rect x="2159.7" y="928.5" width="13.8" height="13.7" fill="#7a3311"/>
<rect x="2172.8" y="928.5" width="13.8" height="13.7" fill="#752d0e"/>
<rect x="1764.7" y="941.7" width="13.8" height="13.7" fill="#a06c2e"/>
<rect x="1777.9" y="941.7" width="13.8" height="13.7" fill="#8d501c"/>
<rect x="1791.0" y="941.7" width="13.8" height="13.7" fill="#6a1f08"/>
<rect x="1804.2" y="941.7" width="13.8" height="13.7" fill="#5e1505"/>
<rect x="1817.4" y="941.7" width="13.8" height="13.7" fill="#691d07"/>
<rect x="1830.5" y="941.7" width="13.8" height="13.7" fill="#783110"/>
<rect x="1843.7" y="941.7" width="13.8" height="13.7" fill="#8d501c"/>
<rect x="1856.9" y="941.7" width="13.8" height="13.7" fill="#834016"/>
<rect x="1870.0" y="941.7" width="13.8" height="13.7" fill="#591204"/>
<rect x="1883.2" y="941.7" width="13.8" height="13.7" fill="#450801"/>
<rect x="1896.4" y="941.7" width="13.8" height="13.7" fill="#490a01"/>
<rect x="1909.5" y="941.7" width="13.8" height="13.7" fill="#500c02"/>
<rect x="1922.7" y="941.7" width="13.8" height="13.7" fill="#5b1304"/>
<rect x="1935.9" y="941.7" width="13.8" height="13.7" fill="#621705"/>
<rect x="1949.0" y="941.7" width="13.8" height="13.7" fill="#651906"/>
<rect x="1962.2" y="941.7" width="13.8" height="13.7" fill="#651906"/>
<rect x="1975.4" y="941.7" width="13.8" height="13.7" fill="#621705"/>
<rect x="1988.5" y="941.7" width="13.8" height="13.7" fill="#732a0d"/>
<rect x="2001.7" y="941.7" width="13.8" height="13.7" fill="#9a6327"/>
<rect x="2014.8" y="941.7" width="13.8" height="13.7" fill="#9a6327"/>
<rect x="2028.0" y="941.7" width="13.8" height="13.7" fill="#732a0d"/>
<rect x="2041.2" y="941.7" width="13.8" height="13.7" fill="#601605"/>
<rect x="2054.3" y="941.7" width="13.8" height="13.7" fill="#601605"/>
<rect x="2067.5" y="941.7" width="13.8" height="13.7" fill="#601605"/>
<rect x="2080.7" y="941.7" width="13.8" height="13.7" fill="#601605"/>
<rect x="2093.8" y="941.7" width="13.8" height="13.7" fill="#5e1505"/>
<rect x="2107.0" y="941.7" width="13.8" height="13.7" fill="#5b1304"/>
<rect x="2120.2" y="941.7" width="13.8" height="13.7" fill="#691d07"/>
<rect x="2133.3" y="941.7" width="13.8" height="13.7" fill="#884819"/>
<rect x="2146.5" y="941.7" width="13.8" height="13.7" fill="#8a4a1a"/>
<rect x="2159.7" y="941.7" width="13.8" height="13.7" fill="#6e240a"/>
<rect x="2172.8" y="941.7" width="13.8" height="13.7" fill="#601605"/>
<rect x="1764.7" y="954.8" width="13.8" height="13.7" fill="#752d0e"/>
<rect x="1777.9" y="954.8" width="13.8" height="13.7" fill="#783110"/>
<rect x="1791.0" y="954.8" width="13.8" height="13.7" fill="#7f3a14"/>
<rect x="1804.2" y="954.8" width="13.8" height="13.7" fill="#762f0f"/>
<rect x="1817.4" y="954.8" width="13.8" height="13.7" fill="#5e1505"/>
<rect x="1830.5" y="954.8" width="13.8" height="13.7" fill="#561003"/>
<rect x="1843.7" y="954.8" width="13.8" height="13.7" fill="#5d1404"/>
<rect x="1856.9" y="954.8" width="13.8" height="13.7" fill="#591204"/>
<rect x="1870.0" y="954.8" width="13.8" height="13.7" fill="#4b0a02"/>
<rect x="1883.2" y="954.8" width="13.8" height="13.7" fill="#490a01"/>
<rect x="1896.4" y="954.8" width="13.8" height="13.7" fill="#540e03"/>
<rect x="1909.5" y="954.8" width="13.8" height="13.7" fill="#5b1304"/>
<rect x="1922.7" y="954.8" width="13.8" height="13.7" fill="#5e1505"/>
<rect x="1935.9" y="954.8" width="13.8" height="13.7" fill="#651906"/>
<rect x="1949.0" y="954.8" width="13.8" height="13.7" fill="#6f260b"/>
<rect x="1962.2" y="954.8" width="13.8" height="13.7" fill="#6f260b"/>
<rect x="1975.4" y="954.8" width="13.8" height="13.7" fill="#651906"/>
<rect x="1988.5" y="954.8" width="13.8" height="13.7" fill="#6f260b"/>
<rect x="2001.7" y="954.8" width="13.8" height="13.7" fill="#8f521d"/>
<rect x="2014.8" y="954.8" width="13.8" height="13.7" fill="#9e692b"/>
<rect x="2028.0" y="954.8" width="13.8" height="13.7" fill="#9a6327"/>
<rect x="2041.2" y="954.8" width="13.8" height="13.7" fill="#986025"/>
<rect x="2054.3" y="954.8" width="13.8" height="13.7" fill="#986025"/>
<rect x="2067.5" y="954.8" width="13.8" height="13.7" fill="#8a4a1a"/>
<rect x="2080.7" y="954.8" width="13.8" height="13.7" fill="#6e240a"/>
<rect x="2093.8" y="954.8" width="13.8" height="13.7" fill="#5b1304"/>
<rect x="2107.0" y="954.8" width="13.8" height="13.7" fill="#500c02"/>
<rect x="2120.2" y="954.8" width="13.8" height="13.7" fill="#5e1505"/>
<rect x="2133.3" y="954.8" width="13.8" height="13.7" fill="#844217"/>
<rect x="2146.5" y="954.8" width="13.8" height="13.7" fill="#8a4a1a"/>
<rect x="2159.7" y="954.8" width="13.8" height="13.7" fill="#6e240a"/>
<rect x="2172.8" y="954.8" width="13.8" height="13.7" fill="#601605"/>
<rect x="1764.7" y="968.0" width="13.8" height="13.7" fill="#6e240a"/>
<rect x="1777.9" y="968.0" width="13.8" height="13.7" fill="#762f0f"/>
<rect x="1791.0" y="968.0" width="13.8" height="13.7" fill="#884819"/>
<rect x="1804.2" y="968.0" width="13.8" height="13.7" fill="#7b3512"/>
<rect x="1817.4" y="968.0" width="13.8" height="13.7" fill="#520d02"/>
<rect x="1830.5" y="968.0" width="13.8" height="13.7" fill="#430801"/>
<rect x="1843.7" y="968.0" width="13.8" height="13.7" fill="#520d02"/>
<rect x="1856.9" y="968.0" width="13.8" height="13.7" fill="#571103"/>
<rect x="1870.0" y="968.0" width="13.8" height="13.7" fill="#540e03"/>
<rect x="1883.2" y="968.0" width="13.8" height="13.7" fill="#540e03"/>
<rect x="1896.4" y="968.0" width="13.8" height="13.7" fill="#571103"/>
<rect x="1909.5" y="968.0" width="13.8" height="13.7" fill="#5b1304"/>
<rect x="1922.7" y="968.0" width="13.8" height="13.7" fill="#5e1505"/>
<rect x="1935.9" y="968.0" width="13.8" height="13.7" fill="#691d07"/>
<rect x="1949.0" y="968.0" width="13.8" height="13.7" fill="#7a3311"/>
<rect x="1962.2" y="968.0" width="13.8" height="13.7" fill="#7a3311"/>
<rect x="1975.4" y="968.0" width="13.8" height="13.7" fill="#691d07"/>
<rect x="1988.5" y="968.0" width="13.8" height="13.7" fill="#6f260b"/>
<rect x="2001.7" y="968.0" width="13.8" height="13.7" fill="#8f521d"/>
<rect x="2014.8" y="968.0" width="13.8" height="13.7" fill="#a77736"/>
<rect x="2028.0" y="968.0" width="13.8" height="13.7" fill="#b78c48"/>
<rect x="2041.2" y="968.0" width="13.8" height="13.7" fill="#b58946"/>
<rect x="2054.3" y="968.0" width="13.8" height="13.7" fill="#a26f30"/>
<rect x="2067.5" y="968.0" width="13.8" height="13.7" fill="#8a4a1a"/>
<rect x="2080.7" y="968.0" width="13.8" height="13.7" fill="#6e240a"/>
<rect x="2093.8" y="968.0" width="13.8" height="13.7" fill="#5b1304"/>
<rect x="2107.0" y="968.0" width="13.8" height="13.7" fill="#500c02"/>
<rect x="2120.2" y="968.0" width="13.8" height="13.7" fill="#5e1505"/>
<rect x="2133.3" y="968.0" width="13.8" height="13.7" fill="#844217"/>
<rect x="2146.5" y="968.0" width="13.8" height="13.7" fill="#8c4d1b"/>
<rect x="2159.7" y="968.0" width="13.8" height="13.7" fill="#732a0d"/>
<rect x="2172.8" y="968.0" width="13.8" height="13.7" fill="#671b06"/>
<rect x="1764.7" y="981.1" width="13.8" height="13.7" fill="#8a4a1a"/>
<rect x="1777.9" y="981.1" width="13.8" height="13.7" fill="#884819"/>
<rect x="1791.0" y="981.1" width="13.8" height="13.7" fill="#844217"/>
<rect x="1804.2" y="981.1" width="13.8" height="13.7" fill="#6e240a"/>
<rect x="1817.4" y="981.1" width="13.8" height="13.7" fill="#430801"/>
<rect x="1830.5" y="981.1" width="13.8" height="13.7" fill="#430801"/>
<rect x="1843.7" y="981.1" width="13.8" height="13.7" fill="#6e240a"/>
<rect x="1856.9" y="981.1" width="13.8" height="13.7" fill="#7d3813"/>
<rect x="1870.0" y="981.1" width="13.8" height="13.7" fill="#732a0d"/>
<rect x="1883.2" y="981.1" width="13.8" height="13.7" fill="#651906"/>
<rect x="1896.4" y="981.1" width="13.8" height="13.7" fill="#540e03"/>
<rect x="1909.5" y="981.1" width="13.8" height="13.7" fill="#500c02"/>
<rect x="1922.7" y="981.1" width="13.8" height="13.7" fill="#5b1304"/>
<rect x="1935.9" y="981.1" width="13.8" height="13.7" fill="#6c2209"/>
<rect x="1949.0" y="981.1" width="13.8" height="13.7" fill="#844217"/>
<rect x="1962.2" y="981.1" width="13.8" height="13.7" fill="#844217"/>
<rect x="1975.4" y="981.1" width="13.8" height="13.7" fill="#6c2209"/>
<rect x="1988.5" y="981.1" width="13.8" height="13.7" fill="#732a0d"/>
<rect x="2001.7" y="981.1" width="13.8" height="13.7" fill="#9a6327"/>
<rect x="2014.8" y="981.1" width="13.8" height="13.7" fill="#b78c48"/>
<rect x="2028.0" y="981.1" width="13.8" height="13.7" fill="#c69f5c"/>
<rect x="2041.2" y="981.1" width="13.8" height="13.7" fill="#b18441"/>
<rect x="2054.3" y="981.1" width="13.8" height="13.7" fill="#7a3311"/>
<rect x="2067.5" y="981.1" width="13.8" height="13.7" fill="#601605"/>
<rect x="2080.7" y="981.1" width="13.8" height="13.7" fill="#601605"/>
<rect x="2093.8" y="981.1" width="13.8" height="13.7" fill="#5e1505"/>
<rect x="2107.0" y="981.1" width="13.8" height="13.7" fill="#5b1304"/>
<rect x="2120.2" y="981.1" width="13.8" height="13.7" fill="#691d07"/>
<rect x="2133.3" y="981.1" width="13.8" height="13.7" fill="#884819"/>
<rect x="2146.5" y="981.1" width="13.8" height="13.7" fill="#8f521d"/>
<rect x="2159.7" y="981.1" width="13.8" height="13.7" fill="#7d3813"/>
<rect x="2172.8" y="981.1" width="13.8" height="13.7" fill="#752d0e"/>
<rect x="1764.7" y="994.2" width="13.8" height="13.7" fill="#834016"/>
<rect x="1777.9" y="994.2" width="13.8" height="13.7" fill="#7f3a14"/>
<rect x="1791.0" y="994.2" width="13.8" height="13.7" fill="#783110"/>
<rect x="1804.2" y="994.2" width="13.8" height="13.7" fill="#631806"/>
<rect x="1817.4" y="994.2" width="13.8" height="13.7" fill="#400701"/>
<rect x="1830.5" y="994.2" width="13.8" height="13.7" fill="#450801"/>
<rect x="1843.7" y="994.2" width="13.8" height="13.7" fill="#732a0d"/>
<rect x="1856.9" y="994.2" width="13.8" height="13.7" fill="#8c4d1b"/>
<rect x="1870.0" y="994.2" width="13.8" height="13.7" fill="#8f521d"/>
<rect x="1883.2" y="994.2" width="13.8" height="13.7" fill="#864518"/>
<rect x="1896.4" y="994.2" width="13.8" height="13.7" fill="#71280c"/>
<rect x="1909.5" y="994.2" width="13.8" height="13.7" fill="#651906"/>
<rect x="1922.7" y="994.2" width="13.8" height="13.7" fill="#621705"/>
<rect x="1935.9" y="994.2" width="13.8" height="13.7" fill="#6f260b"/>
<rect x="1949.0" y="994.2" width="13.8" height="13.7" fill="#8f521d"/>
<rect x="1962.2" y="994.2" width="13.8" height="13.7" fill="#8d501c"/>
<rect x="1975.4" y="994.2" width="13.8" height="13.7" fill="#6a1f08"/>
<rect x="1988.5" y="994.2" width="13.8" height="13.7" fill="#6a1f08"/>
<rect x="2001.7" y="994.2" width="13.8" height="13.7" fill="#8d501c"/>
<rect x="2014.8" y="994.2" width="13.8" height="13.7" fill="#a97a38"/>
<rect x="2028.0" y="994.2" width="13.8" height="13.7" fill="#bd934f"/>
<rect x="2041.2" y="994.2" width="13.8" height="13.7" fill="#a67534"/>
<rect x="2054.3" y="994.2" width="13.8" height="13.7" fill="#691d07"/>
<rect x="2067.5" y="994.2" width="13.8" height="13.7" fill="#540e03"/>
<rect x="2080.7" y="994.2" width="13.8" height="13.7" fill="#651906"/>
<rect x="2093.8" y="994.2" width="13.8" height="13.7" fill="#6a1f08"/>
<rect x="2107.0" y="994.2" width="13.8" height="13.7" fill="#631806"/>
<rect x="2120.2" y="994.2" width="13.8" height="13.7" fill="#6f260b"/>
<rect x="2133.3" y="994.2" width="13.8" height="13.7" fill="#8f521d"/>
<rect x="2146.5" y="994.2" width="13.8" height="13.7" fill="#975d23"/>
<rect x="2159.7" y="994.2" width="13.8" height="13.7" fill="#844217"/>
<rect x="2172.8" y="994.2" width="13.8" height="13.7" fill="#7b3512"/>
<rect x="1764.7" y="1007.4" width="13.8" height="13.7" fill="#591204"/>
<rect x="1777.9" y="1007.4" width="13.8" height="13.7" fill="#5d1404"/>
<rect x="1791.0" y="1007.4" width="13.8" height="13.7" fill="#631806"/>
<rect x="1804.2" y="1007.4" width="13.8" height="13.7" fill="#5d1404"/>
<rect x="1817.4" y="1007.4" width="13.8" height="13.7" fill="#470901"/>
<rect x="1830.5" y="1007.4" width="13.8" height="13.7" fill="#490a01"/>
<rect x="1843.7" y="1007.4" width="13.8" height="13.7" fill="#621705"/>
<rect x="1856.9" y="1007.4" width="13.8" height="13.7" fill="#813d15"/>
<rect x="1870.0" y="1007.4" width="13.8" height="13.7" fill="#a97a38"/>
<rect x="1883.2" y="1007.4" width="13.8" height="13.7" fill="#bb914d"/>
<rect x="1896.4" y="1007.4" width="13.8" height="13.7" fill="#b38744"/>
<rect x="1909.5" y="1007.4" width="13.8" height="13.7" fill="#9a6327"/>
<rect x="1922.7" y="1007.4" width="13.8" height="13.7" fill="#732a0d"/>
<rect x="1935.9" y="1007.4" width="13.8" height="13.7" fill="#732a0d"/>
<rect x="1949.0" y="1007.4" width="13.8" height="13.7" fill="#9a6327"/>
<rect x="1962.2" y="1007.4" width="13.8" height="13.7" fill="#955b21"/>
<rect x="1975.4" y="1007.4" width="13.8" height="13.7" fill="#631806"/>
<rect x="1988.5" y="1007.4" width="13.8" height="13.7" fill="#561003"/>
<rect x="2001.7" y="1007.4" width="13.8" height="13.7" fill="#6a1f08"/>
<rect x="2014.8" y="1007.4" width="13.8" height="13.7" fill="#813d15"/>
<rect x="2028.0" y="1007.4" width="13.8" height="13.7" fill="#9a6327"/>
<rect x="2041.2" y="1007.4" width="13.8" height="13.7" fill="#93581f"/>
<rect x="2054.3" y="1007.4" width="13.8" height="13.7" fill="#6c2209"/>
<rect x="2067.5" y="1007.4" width="13.8" height="13.7" fill="#651906"/>
<rect x="2080.7" y="1007.4" width="13.8" height="13.7" fill="#7d3813"/>
<rect x="2093.8" y="1007.4" width="13.8" height="13.7" fill="#7f3a14"/>
<rect x="2107.0" y="1007.4" width="13.8" height="13.7" fill="#6a1f08"/>
<rect x="2120.2" y="1007.4" width="13.8" height="13.7" fill="#732a0d"/>
<rect x="2133.3" y="1007.4" width="13.8" height="13.7" fill="#9a6327"/>
<rect x="2146.5" y="1007.4" width="13.8" height="13.7" fill="#a26f30"/>
<rect x="2159.7" y="1007.4" width="13.8" height="13.7" fill="#884819"/>
<rect x="2172.8" y="1007.4" width="13.8" height="13.7" fill="#7b3512"/>
<rect x="1764.7" y="1020.5" width="13.8" height="13.7" fill="#4b0a02"/>
<rect x="1777.9" y="1020.5" width="13.8" height="13.7" fill="#520d02"/>
<rect x="1791.0" y="1020.5" width="13.8" height="13.7" fill="#601605"/>
<rect x="1804.2" y="1020.5" width="13.8" height="13.7" fill="#601605"/>
<rect x="1817.4" y="1020.5" width="13.8" height="13.7" fill="#520d02"/>
<rect x="1830.5" y="1020.5" width="13.8" height="13.7" fill="#540e03"/>
<rect x="1843.7" y="1020.5" width="13.8" height="13.7" fill="#651906"/>
<rect x="1856.9" y="1020.5" width="13.8" height="13.7" fill="#7f3a14"/>
<rect x="1870.0" y="1020.5" width="13.8" height="13.7" fill="#a47232"/>
<rect x="1883.2" y="1020.5" width="13.8" height="13.7" fill="#b78c48"/>
<rect x="1896.4" y="1020.5" width="13.8" height="13.7" fill="#b78c48"/>
<rect x="1909.5" y="1020.5" width="13.8" height="13.7" fill="#a06c2e"/>
<rect x="1922.7" y="1020.5" width="13.8" height="13.7" fill="#752d0e"/>
<rect x="1935.9" y="1020.5" width="13.8" height="13.7" fill="#6f260b"/>
<rect x="1949.0" y="1020.5" width="13.8" height="13.7" fill="#8f521d"/>
<rect x="1962.2" y="1020.5" width="13.8" height="13.7" fill="#8d501c"/>
<rect x="1975.4" y="1020.5" width="13.8" height="13.7" fill="#6a1f08"/>
<rect x="1988.5" y="1020.5" width="13.8" height="13.7" fill="#5b1304"/>
<rect x="2001.7" y="1020.5" width="13.8" height="13.7" fill="#5e1505"/>
<rect x="2014.8" y="1020.5" width="13.8" height="13.7" fill="#6a1f08"/>
<rect x="2028.0" y="1020.5" width="13.8" height="13.7" fill="#7f3a14"/>
<rect x="2041.2" y="1020.5" width="13.8" height="13.7" fill="#834016"/>
<rect x="2054.3" y="1020.5" width="13.8" height="13.7" fill="#752d0e"/>
<rect x="2067.5" y="1020.5" width="13.8" height="13.7" fill="#783110"/>
<rect x="2080.7" y="1020.5" width="13.8" height="13.7" fill="#8d501c"/>
<rect x="2093.8" y="1020.5" width="13.8" height="13.7" fill="#8a4a1a"/>
<rect x="2107.0" y="1020.5" width="13.8" height="13.7" fill="#6e240a"/>
<rect x="2120.2" y="1020.5" width="13.8" height="13.7" fill="#6f260b"/>
<rect x="2133.3" y="1020.5" width="13.8" height="13.7" fill="#8f521d"/>
<rect x="2146.5" y="1020.5" width="13.8" height="13.7" fill="#986025"/>
<rect x="2159.7" y="1020.5" width="13.8" height="13.7" fill="#8a4a1a"/>
<rect x="2172.8" y="1020.5" width="13.8" height="13.7" fill="#834016"/>
<rect x="1764.7" y="1033.7" width="13.8" height="13.7" fill="#591204"/>
<rect x="1777.9" y="1033.7" width="13.8" height="13.7" fill="#601605"/>
<rect x="1791.0" y="1033.7" width="13.8" height="13.7" fill="#6e240a"/>
<rect x="1804.2" y="1033.7" width="13.8" height="13.7" fill="#6e240a"/>
<rect x="1817.4" y="1033.7" width="13.8" height="13.7" fill="#601605"/>
<rect x="1830.5" y="1033.7" width="13.8" height="13.7" fill="#651906"/>
<rect x="1843.7" y="1033.7" width="13.8" height="13.7" fill="#7d3813"/>
<rect x="1856.9" y="1033.7" width="13.8" height="13.7" fill="#864518"/>
<rect x="1870.0" y="1033.7" width="13.8" height="13.7" fill="#7f3a14"/>
<rect x="1883.2" y="1033.7" width="13.8" height="13.7" fill="#7b3512"/>
<rect x="1896.4" y="1033.7" width="13.8" height="13.7" fill="#7b3512"/>
<rect x="1909.5" y="1033.7" width="13.8" height="13.7" fill="#752d0e"/>
<rect x="1922.7" y="1033.7" width="13.8" height="13.7" fill="#671b06"/>
<rect x="1935.9" y="1033.7" width="13.8" height="13.7" fill="#651906"/>
<rect x="1949.0" y="1033.7" width="13.8" height="13.7" fill="#6f260b"/>
<rect x="1962.2" y="1033.7" width="13.8" height="13.7" fill="#783110"/>
<rect x="1975.4" y="1033.7" width="13.8" height="13.7" fill="#7f3a14"/>
<rect x="1988.5" y="1033.7" width="13.8" height="13.7" fill="#7a3311"/>
<rect x="2001.7" y="1033.7" width="13.8" height="13.7" fill="#691d07"/>
<rect x="2014.8" y="1033.7" width="13.8" height="13.7" fill="#631806"/>
<rect x="2028.0" y="1033.7" width="13.8" height="13.7" fill="#6a1f08"/>
<rect x="2041.2" y="1033.7" width="13.8" height="13.7" fill="#752d0e"/>
<rect x="2054.3" y="1033.7" width="13.8" height="13.7" fill="#834016"/>
<rect x="2067.5" y="1033.7" width="13.8" height="13.7" fill="#8d501c"/>
<rect x="2080.7" y="1033.7" width="13.8" height="13.7" fill="#955b21"/>
<rect x="2093.8" y="1033.7" width="13.8" height="13.7" fill="#8a4a1a"/>
<rect x="2107.0" y="1033.7" width="13.8" height="13.7" fill="#6e240a"/>
<rect x="2120.2" y="1033.7" width="13.8" height="13.7" fill="#651906"/>
<rect x="2133.3" y="1033.7" width="13.8" height="13.7" fill="#6f260b"/>
<rect x="2146.5" y="1033.7" width="13.8" height="13.7" fill="#7b3512"/>
<rect x="2159.7" y="1033.7" width="13.8" height="13.7" fill="#8a4a1a"/>
<rect x="2172.8" y="1033.7" width="13.8" height="13.7" fill="#91551e"/>
<rect x="1764.7" y="1046.8" width="13.8" height="13.7" fill="#601605"/>
<rect x="1777.9" y="1046.8" width="13.8" height="13.7" fill="#631806"/>
<rect x="1791.0" y="1046.8" width="13.8" height="13.7" fill="#6a1f08"/>
<rect x="1804.2" y="1046.8" width="13.8" height="13.7" fill="#6a1f08"/>
<rect x="1817.4" y="1046.8" width="13.8" height="13.7" fill="#631806"/>
<rect x="1830.5" y="1046.8" width="13.8" height="13.7" fill="#71280c"/>
<rect x="1843.7" y="1046.8" width="13.8" height="13.7" fill="#955b21"/>
<rect x="1856.9" y="1046.8" width="13.8" height="13.7" fill="#986025"/>
<rect x="1870.0" y="1046.8" width="13.8" height="13.7" fill="#7b3512"/>
<rect x="1883.2" y="1046.8" width="13.8" height="13.7" fill="#6a1f08"/>
<rect x="1896.4" y="1046.8" width="13.8" height="13.7" fill="#631806"/>
<rect x="1909.5" y="1046.8" width="13.8" height="13.7" fill="#631806"/>
<rect x="1922.7" y="1046.8" width="13.8" height="13.7" fill="#6a1f08"/>
<rect x="1935.9" y="1046.8" width="13.8" height="13.7" fill="#6a1f08"/>
<rect x="1949.0" y="1046.8" width="13.8" height="13.7" fill="#631806"/>
<rect x="1962.2" y="1046.8" width="13.8" height="13.7" fill="#6a1f08"/>
<rect x="1975.4" y="1046.8" width="13.8" height="13.7" fill="#7f3a14"/>
<rect x="1988.5" y="1046.8" width="13.8" height="13.7" fill="#844217"/>
<rect x="2001.7" y="1046.8" width="13.8" height="13.7" fill="#7a3311"/>
<rect x="2014.8" y="1046.8" width="13.8" height="13.7" fill="#752d0e"/>
<rect x="2028.0" y="1046.8" width="13.8" height="13.7" fill="#752d0e"/>
<rect x="2041.2" y="1046.8" width="13.8" height="13.7" fill="#783110"/>
<rect x="2054.3" y="1046.8" width="13.8" height="13.7" fill="#7f3a14"/>
<rect x="2067.5" y="1046.8" width="13.8" height="13.7" fill="#834016"/>
<rect x="2080.7" y="1046.8" width="13.8" height="13.7" fill="#834016"/>
<rect x="2093.8" y="1046.8" width="13.8" height="13.7" fill="#7d3813"/>
<rect x="2107.0" y="1046.8" width="13.8" height="13.7" fill="#732a0d"/>
<rect x="2120.2" y="1046.8" width="13.8" height="13.7" fill="#71280c"/>
<rect x="2133.3" y="1046.8" width="13.8" height="13.7" fill="#783110"/>
<rect x="2146.5" y="1046.8" width="13.8" height="13.7" fill="#7f3a14"/>
<rect x="2159.7" y="1046.8" width="13.8" height="13.7" fill="#864518"/>
<rect x="2172.8" y="1046.8" width="13.8" height="13.7" fill="#8a4a1a"/>
<rect x="1764.7" y="1060.0" width="13.8" height="13.7" fill="#601605"/>
<rect x="1777.9" y="1060.0" width="13.8" height="13.7" fill="#5d1404"/>
<rect x="1791.0" y="1060.0" width="13.8" height="13.7" fill="#561003"/>
<rect x="1804.2" y="1060.0" width="13.8" height="13.7" fill="#561003"/>
<rect x="1817.4" y="1060.0" width="13.8" height="13.7" fill="#5d1404"/>
<rect x="1830.5" y="1060.0" width="13.8" height="13.7" fill="#783110"/>
<rect x="1843.7" y="1060.0" width="13.8" height="13.7" fill="#ab7d3a"/>
<rect x="1856.9" y="1060.0" width="13.8" height="13.7" fill="#b78c48"/>
<rect x="1870.0" y="1060.0" width="13.8" height="13.7" fill="#986025"/>
<rect x="1883.2" y="1060.0" width="13.8" height="13.7" fill="#7f3a14"/>
<rect x="1896.4" y="1060.0" width="13.8" height="13.7" fill="#6a1f08"/>
<rect x="1909.5" y="1060.0" width="13.8" height="13.7" fill="#6a1f08"/>
<rect x="1922.7" y="1060.0" width="13.8" height="13.7" fill="#7f3a14"/>
<rect x="1935.9" y="1060.0" width="13.8" height="13.7" fill="#7f3a14"/>
<rect x="1949.0" y="1060.0" width="13.8" height="13.7" fill="#6a1f08"/>
<rect x="1962.2" y="1060.0" width="13.8" height="13.7" fill="#631806"/>
<rect x="1975.4" y="1060.0" width="13.8" height="13.7" fill="#6a1f08"/>
<rect x="1988.5" y="1060.0" width="13.8" height="13.7" fill="#7a3311"/>
<rect x="2001.7" y="1060.0" width="13.8" height="13.7" fill="#93581f"/>
<rect x="2014.8" y="1060.0" width="13.8" height="13.7" fill="#a06c2e"/>
<rect x="2028.0" y="1060.0" width="13.8" height="13.7" fill="#a06c2e"/>
<rect x="2041.2" y="1060.0" width="13.8" height="13.7" fill="#8d501c"/>
<rect x="2054.3" y="1060.0" width="13.8" height="13.7" fill="#6a1f08"/>
<rect x="2067.5" y="1060.0" width="13.8" height="13.7" fill="#591204"/>
<rect x="2080.7" y="1060.0" width="13.8" height="13.7" fill="#591204"/>
<rect x="2093.8" y="1060.0" width="13.8" height="13.7" fill="#651906"/>
<rect x="2107.0" y="1060.0" width="13.8" height="13.7" fill="#7d3813"/>
<rect x="2120.2" y="1060.0" width="13.8" height="13.7" fill="#955b21"/>
<rect x="2133.3" y="1060.0" width="13.8" height="13.7" fill="#ab7d3a"/>
<rect x="2146.5" y="1060.0" width="13.8" height="13.7" fill="#a47232"/>
<rect x="2159.7" y="1060.0" width="13.8" height="13.7" fill="#7f3a14"/>
<rect x="2172.8" y="1060.0" width="13.8" height="13.7" fill="#6e240a"/>
<rect x="1764.7" y="1073.1" width="13.8" height="13.7" fill="#601605"/>
<rect x="1777.9" y="1073.1" width="13.8" height="13.7" fill="#591204"/>
<rect x="1791.0" y="1073.1" width="13.8" height="13.7" fill="#4b0a02"/>
<rect x="1804.2" y="1073.1" width="13.8" height="13.7" fill="#500c02"/>
<rect x="1817.4" y="1073.1" width="13.8" height="13.7" fill="#691d07"/>
<rect x="1830.5" y="1073.1" width="13.8" height="13.7" fill="#8a4a1a"/>
<rect x="1843.7" y="1073.1" width="13.8" height="13.7" fill="#b78c48"/>
<rect x="1856.9" y="1073.1" width="13.8" height="13.7" fill="#bb914d"/>
<rect x="1870.0" y="1073.1" width="13.8" height="13.7" fill="#955b21"/>
<rect x="1883.2" y="1073.1" width="13.8" height="13.7" fill="#813d15"/>
<rect x="1896.4" y="1073.1" width="13.8" height="13.7" fill="#7d3813"/>
<rect x="1909.5" y="1073.1" width="13.8" height="13.7" fill="#844217"/>
<rect x="1922.7" y="1073.1" width="13.8" height="13.7" fill="#975d23"/>
<rect x="1935.9" y="1073.1" width="13.8" height="13.7" fill="#93581f"/>
<rect x="1949.0" y="1073.1" width="13.8" height="13.7" fill="#7a3311"/>
<rect x="1962.2" y="1073.1" width="13.8" height="13.7" fill="#6e240a"/>
<rect x="1975.4" y="1073.1" width="13.8" height="13.7" fill="#6e240a"/>
<rect x="1988.5" y="1073.1" width="13.8" height="13.7" fill="#7b3512"/>
<rect x="2001.7" y="1073.1" width="13.8" height="13.7" fill="#986025"/>
<rect x="2014.8" y="1073.1" width="13.8" height="13.7" fill="#a97a38"/>
<rect x="2028.0" y="1073.1" width="13.8" height="13.7" fill="#ad803d"/>
<rect x="2041.2" y="1073.1" width="13.8" height="13.7" fill="#986025"/>
<rect x="2054.3" y="1073.1" width="13.8" height="13.7" fill="#6e240a"/>
<rect x="2067.5" y="1073.1" width="13.8" height="13.7" fill="#561003"/>
<rect x="2080.7" y="1073.1" width="13.8" height="13.7" fill="#4f0c02"/>
<rect x="2093.8" y="1073.1" width="13.8" height="13.7" fill="#5e1505"/>
<rect x="2107.0" y="1073.1" width="13.8" height="13.7" fill="#844217"/>
<rect x="2120.2" y="1073.1" width="13.8" height="13.7" fill="#9e692b"/>
<rect x="2133.3" y="1073.1" width="13.8" height="13.7" fill="#a97a38"/>
<rect x="2146.5" y="1073.1" width="13.8" height="13.7" fill="#9a6327"/>
<rect x="2159.7" y="1073.1" width="13.8" height="13.7" fill="#732a0d"/>
<rect x="2172.8" y="1073.1" width="13.8" height="13.7" fill="#601605"/>
<rect x="1764.7" y="1086.2" width="13.8" height="13.7" fill="#601605"/>
<rect x="1777.9" y="1086.2" width="13.8" height="13.7" fill="#591204"/>
<rect x="1791.0" y="1086.2" width="13.8" height="13.7" fill="#4b0a02"/>
<rect x="1804.2" y="1086.2" width="13.8" height="13.7" fill="#5b1304"/>
<rect x="1817.4" y="1086.2" width="13.8" height="13.7" fill="#884819"/>
<rect x="1830.5" y="1086.2" width="13.8" height="13.7" fill="#a77736"/>
<rect x="1843.7" y="1086.2" width="13.8" height="13.7" fill="#b78c48"/>
<rect x="1856.9" y="1086.2" width="13.8" height="13.7" fill="#a47232"/>
<rect x="1870.0" y="1086.2" width="13.8" height="13.7" fill="#71280c"/>
<rect x="1883.2" y="1086.2" width="13.8" height="13.7" fill="#6f260b"/>
<rect x="1896.4" y="1086.2" width="13.8" height="13.7" fill="#9e692b"/>
<rect x="1909.5" y="1086.2" width="13.8" height="13.7" fill="#b58946"/>
<rect x="1922.7" y="1086.2" width="13.8" height="13.7" fill="#b18441"/>
<rect x="1935.9" y="1086.2" width="13.8" height="13.7" fill="#a67534"/>
<rect x="1949.0" y="1086.2" width="13.8" height="13.7" fill="#93581f"/>
<rect x="1962.2" y="1086.2" width="13.8" height="13.7" fill="#8a4a1a"/>
<rect x="1975.4" y="1086.2" width="13.8" height="13.7" fill="#8a4a1a"/>
<rect x="1988.5" y="1086.2" width="13.8" height="13.7" fill="#8a4a1a"/>
<rect x="2001.7" y="1086.2" width="13.8" height="13.7" fill="#8a4a1a"/>
<rect x="2014.8" y="1086.2" width="13.8" height="13.7" fill="#8f521d"/>
<rect x="2028.0" y="1086.2" width="13.8" height="13.7" fill="#9a6327"/>
<rect x="2041.2" y="1086.2" width="13.8" height="13.7" fill="#986025"/>
<rect x="2054.3" y="1086.2" width="13.8" height="13.7" fill="#8a4a1a"/>
<rect x="2067.5" y="1086.2" width="13.8" height="13.7" fill="#783110"/>
<rect x="2080.7" y="1086.2" width="13.8" height="13.7" fill="#631806"/>
<rect x="2093.8" y="1086.2" width="13.8" height="13.7" fill="#691d07"/>
<rect x="2107.0" y="1086.2" width="13.8" height="13.7" fill="#884819"/>
<rect x="2120.2" y="1086.2" width="13.8" height="13.7" fill="#8c4d1b"/>
<rect x="2133.3" y="1086.2" width="13.8" height="13.7" fill="#732a0d"/>
<rect x="2146.5" y="1086.2" width="13.8" height="13.7" fill="#651906"/>
<rect x="2159.7" y="1086.2" width="13.8" height="13.7" fill="#621705"/>
<rect x="2172.8" y="1086.2" width="13.8" height="13.7" fill="#601605"/>
<rect x="1764.7" y="1099.4" width="13.8" height="13.7" fill="#601605"/>
<rect x="1777.9" y="1099.4" width="13.8" height="13.7" fill="#5d1404"/>
<rect x="1791.0" y="1099.4" width="13.8" height="13.7" fill="#561003"/>
<rect x="1804.2" y="1099.4" width="13.8" height="13.7" fill="#651906"/>
<rect x="1817.4" y="1099.4" width="13.8" height="13.7" fill="#8c4d1b"/>
<rect x="1830.5" y="1099.4" width="13.8" height="13.7" fill="#a47232"/>
<rect x="1843.7" y="1099.4" width="13.8" height="13.7" fill="#ab7d3a"/>
<rect x="1856.9" y="1099.4" width="13.8" height="13.7" fill="#93581f"/>
<rect x="1870.0" y="1099.4" width="13.8" height="13.7" fill="#5e1505"/>
<rect x="1883.2" y="1099.4" width="13.8" height="13.7" fill="#621705"/>
<rect x="1896.4" y="1099.4" width="13.8" height="13.7" fill="#9e692b"/>
<rect x="1909.5" y="1099.4" width="13.8" height="13.7" fill="#b98e4b"/>
<rect x="1922.7" y="1099.4" width="13.8" height="13.7" fill="#ad803d"/>
<rect x="1935.9" y="1099.4" width="13.8" height="13.7" fill="#a26f30"/>
<rect x="1949.0" y="1099.4" width="13.8" height="13.7" fill="#975d23"/>
<rect x="1962.2" y="1099.4" width="13.8" height="13.7" fill="#8f521d"/>
<rect x="1975.4" y="1099.4" width="13.8" height="13.7" fill="#8c4d1b"/>
<rect x="1988.5" y="1099.4" width="13.8" height="13.7" fill="#844217"/>
<rect x="2001.7" y="1099.4" width="13.8" height="13.7" fill="#7a3311"/>
<rect x="2014.8" y="1099.4" width="13.8" height="13.7" fill="#7f3a14"/>
<rect x="2028.0" y="1099.4" width="13.8" height="13.7" fill="#955b21"/>
<rect x="2041.2" y="1099.4" width="13.8" height="13.7" fill="#986025"/>
<rect x="2054.3" y="1099.4" width="13.8" height="13.7" fill="#8a4a1a"/>
<rect x="2067.5" y="1099.4" width="13.8" height="13.7" fill="#7a3311"/>
<rect x="2080.7" y="1099.4" width="13.8" height="13.7" fill="#691d07"/>
<rect x="2093.8" y="1099.4" width="13.8" height="13.7" fill="#6a1f08"/>
<rect x="2107.0" y="1099.4" width="13.8" height="13.7" fill="#7f3a14"/>
<rect x="2120.2" y="1099.4" width="13.8" height="13.7" fill="#7a3311"/>
<rect x="2133.3" y="1099.4" width="13.8" height="13.7" fill="#5b1304"/>
<rect x="2146.5" y="1099.4" width="13.8" height="13.7" fill="#540e03"/>
<rect x="2159.7" y="1099.4" width="13.8" height="13.7" fill="#651906"/>
<rect x="2172.8" y="1099.4" width="13.8" height="13.7" fill="#6e240a"/>
<rect x="1764.7" y="1112.5" width="13.8" height="13.7" fill="#601605"/>
<rect x="1777.9" y="1112.5" width="13.8" height="13.7" fill="#631806"/>
<rect x="1791.0" y="1112.5" width="13.8" height="13.7" fill="#6a1f08"/>
<rect x="1804.2" y="1112.5" width="13.8" height="13.7" fill="#6f260b"/>
<rect x="1817.4" y="1112.5" width="13.8" height="13.7" fill="#732a0d"/>
<rect x="1830.5" y="1112.5" width="13.8" height="13.7" fill="#7f3a14"/>
<rect x="1843.7" y="1112.5" width="13.8" height="13.7" fill="#955b21"/>
<rect x="1856.9" y="1112.5" width="13.8" height="13.7" fill="#884819"/>
<rect x="1870.0" y="1112.5" width="13.8" height="13.7" fill="#5b1304"/>
<rect x="1883.2" y="1112.5" width="13.8" height="13.7" fill="#571103"/>
<rect x="1896.4" y="1112.5" width="13.8" height="13.7" fill="#7d3813"/>
<rect x="1909.5" y="1112.5" width="13.8" height="13.7" fill="#8f521d"/>
<rect x="1922.7" y="1112.5" width="13.8" height="13.7" fill="#8c4d1b"/>
<rect x="1935.9" y="1112.5" width="13.8" height="13.7" fill="#884819"/>
<rect x="1949.0" y="1112.5" width="13.8" height="13.7" fill="#844217"/>
<rect x="1962.2" y="1112.5" width="13.8" height="13.7" fill="#7d3813"/>
<rect x="1975.4" y="1112.5" width="13.8" height="13.7" fill="#732a0d"/>
<rect x="1988.5" y="1112.5" width="13.8" height="13.7" fill="#6c2209"/>
<rect x="2001.7" y="1112.5" width="13.8" height="13.7" fill="#691d07"/>
<rect x="2014.8" y="1112.5" width="13.8" height="13.7" fill="#783110"/>
<rect x="2028.0" y="1112.5" width="13.8" height="13.7" fill="#9c6629"/>
<rect x="2041.2" y="1112.5" width="13.8" height="13.7" fill="#986025"/>
<rect x="2054.3" y="1112.5" width="13.8" height="13.7" fill="#6e240a"/>
<rect x="2067.5" y="1112.5" width="13.8" height="13.7" fill="#5b1304"/>
<rect x="2080.7" y="1112.5" width="13.8" height="13.7" fill="#5e1505"/>
<rect x="2093.8" y="1112.5" width="13.8" height="13.7" fill="#631806"/>
<rect x="2107.0" y="1112.5" width="13.8" height="13.7" fill="#6a1f08"/>
<rect x="2120.2" y="1112.5" width="13.8" height="13.7" fill="#691d07"/>
<rect x="2133.3" y="1112.5" width="13.8" height="13.7" fill="#5e1505"/>
<rect x="2146.5" y="1112.5" width="13.8" height="13.7" fill="#651906"/>
<rect x="2159.7" y="1112.5" width="13.8" height="13.7" fill="#7d3813"/>
<rect x="2172.8" y="1112.5" width="13.8" height="13.7" fill="#8a4a1a"/>
<rect x="1764.7" y="1125.7" width="13.8" height="13.7" fill="#591204"/>
<rect x="1777.9" y="1125.7" width="13.8" height="13.7" fill="#601605"/>
<rect x="1791.0" y="1125.7" width="13.8" height="13.7" fill="#6e240a"/>
<rect x="1804.2" y="1125.7" width="13.8" height="13.7" fill="#6e240a"/>
<rect x="1817.4" y="1125.7" width="13.8" height="13.7" fill="#601605"/>
<rect x="1830.5" y="1125.7" width="13.8" height="13.7" fill="#691d07"/>
<rect x="1843.7" y="1125.7" width="13.8" height="13.7" fill="#884819"/>
<rect x="1856.9" y="1125.7" width="13.8" height="13.7" fill="#8c4d1b"/>
<rect x="1870.0" y="1125.7" width="13.8" height="13.7" fill="#732a0d"/>
<rect x="1883.2" y="1125.7" width="13.8" height="13.7" fill="#6f260b"/>
<rect x="1896.4" y="1125.7" width="13.8" height="13.7" fill="#813d15"/>
<rect x="1909.5" y="1125.7" width="13.8" height="13.7" fill="#864518"/>
<rect x="1922.7" y="1125.7" width="13.8" height="13.7" fill="#7f3a14"/>
<rect x="1935.9" y="1125.7" width="13.8" height="13.7" fill="#7a3311"/>
<rect x="1949.0" y="1125.7" width="13.8" height="13.7" fill="#762f0f"/>
<rect x="1962.2" y="1125.7" width="13.8" height="13.7" fill="#752d0e"/>
<rect x="1975.4" y="1125.7" width="13.8" height="13.7" fill="#752d0e"/>
<rect x="1988.5" y="1125.7" width="13.8" height="13.7" fill="#752d0e"/>
<rect x="2001.7" y="1125.7" width="13.8" height="13.7" fill="#752d0e"/>
<rect x="2014.8" y="1125.7" width="13.8" height="13.7" fill="#7d3813"/>
<rect x="2028.0" y="1125.7" width="13.8" height="13.7" fill="#8f521d"/>
<rect x="2041.2" y="1125.7" width="13.8" height="13.7" fill="#834016"/>
<rect x="2054.3" y="1125.7" width="13.8" height="13.7" fill="#591204"/>
<rect x="2067.5" y="1125.7" width="13.8" height="13.7" fill="#4f0c02"/>
<rect x="2080.7" y="1125.7" width="13.8" height="13.7" fill="#631806"/>
<rect x="2093.8" y="1125.7" width="13.8" height="13.7" fill="#6a1f08"/>
<rect x="2107.0" y="1125.7" width="13.8" height="13.7" fill="#631806"/>
<rect x="2120.2" y="1125.7" width="13.8" height="13.7" fill="#601605"/>
<rect x="2133.3" y="1125.7" width="13.8" height="13.7" fill="#601605"/>
<rect x="2146.5" y="1125.7" width="13.8" height="13.7" fill="#6e240a"/>
<rect x="2159.7" y="1125.7" width="13.8" height="13.7" fill="#8a4a1a"/>
<rect x="2172.8" y="1125.7" width="13.8" height="13.7" fill="#986025"/>
<rect x="1764.7" y="1138.8" width="13.8" height="13.7" fill="#4b0a02"/>
<rect x="1777.9" y="1138.8" width="13.8" height="13.7" fill="#520d02"/>
<rect x="1791.0" y="1138.8" width="13.8" height="13.7" fill="#601605"/>
<rect x="1804.2" y="1138.8" width="13.8" height="13.7" fill="#601605"/>
<rect x="1817.4" y="1138.8" width="13.8" height="13.7" fill="#520d02"/>
<rect x="1830.5" y="1138.8" width="13.8" height="13.7" fill="#5e1505"/>
<rect x="1843.7" y="1138.8" width="13.8" height="13.7" fill="#844217"/>
<rect x="1856.9" y="1138.8" width="13.8" height="13.7" fill="#9e692b"/>
<rect x="1870.0" y="1138.8" width="13.8" height="13.7" fill="#a97a38"/>
<rect x="1883.2" y="1138.8" width="13.8" height="13.7" fill="#ad803d"/>
<rect x="1896.4" y="1138.8" width="13.8" height="13.7" fill="#a97a38"/>
<rect x="1909.5" y="1138.8" width="13.8" height="13.7" fill="#9c6629"/>
<rect x="1922.7" y="1138.8" width="13.8" height="13.7" fill="#864518"/>
<rect x="1935.9" y="1138.8" width="13.8" height="13.7" fill="#762f0f"/>
<rect x="1949.0" y="1138.8" width="13.8" height="13.7" fill="#6c2209"/>
<rect x="1962.2" y="1138.8" width="13.8" height="13.7" fill="#752d0e"/>
<rect x="1975.4" y="1138.8" width="13.8" height="13.7" fill="#91551e"/>
<rect x="1988.5" y="1138.8" width="13.8" height="13.7" fill="#a06c2e"/>
<rect x="2001.7" y="1138.8" width="13.8" height="13.7" fill="#a06c2e"/>
<rect x="2014.8" y="1138.8" width="13.8" height="13.7" fill="#8f521d"/>
<rect x="2028.0" y="1138.8" width="13.8" height="13.7" fill="#6f260b"/>
<rect x="2041.2" y="1138.8" width="13.8" height="13.7" fill="#591204"/>
<rect x="2054.3" y="1138.8" width="13.8" height="13.7" fill="#4b0a02"/>
<rect x="2067.5" y="1138.8" width="13.8" height="13.7" fill="#561003"/>
<rect x="2080.7" y="1138.8" width="13.8" height="13.7" fill="#783110"/>
<rect x="2093.8" y="1138.8" width="13.8" height="13.7" fill="#7f3a14"/>
<rect x="2107.0" y="1138.8" width="13.8" height="13.7" fill="#6a1f08"/>
<rect x="2120.2" y="1138.8" width="13.8" height="13.7" fill="#601605"/>
<rect x="2133.3" y="1138.8" width="13.8" height="13.7" fill="#601605"/>
<rect x="2146.5" y="1138.8" width="13.8" height="13.7" fill="#6e240a"/>
<rect x="2159.7" y="1138.8" width="13.8" height="13.7" fill="#8a4a1a"/>
<rect x="2172.8" y="1138.8" width="13.8" height="13.7" fill="#986025"/>
<rect x="1764.7" y="1151.9" width="13.8" height="13.7" fill="#4b0a02"/>
<rect x="1777.9" y="1151.9" width="13.8" height="13.7" fill="#540e03"/>
<rect x="1791.0" y="1151.9" width="13.8" height="13.7" fill="#651906"/>
<rect x="1804.2" y="1151.9" width="13.8" height="13.7" fill="#671b06"/>
<rect x="1817.4" y="1151.9" width="13.8" height="13.7" fill="#591204"/>
<rect x="1830.5" y="1151.9" width="13.8" height="13.7" fill="#5e1505"/>
<rect x="1843.7" y="1151.9" width="13.8" height="13.7" fill="#762f0f"/>
<rect x="1856.9" y="1151.9" width="13.8" height="13.7" fill="#93581f"/>
<rect x="1870.0" y="1151.9" width="13.8" height="13.7" fill="#b58946"/>
<rect x="1883.2" y="1151.9" width="13.8" height="13.7" fill="#c19854"/>
<rect x="1896.4" y="1151.9" width="13.8" height="13.7" fill="#b58946"/>
<rect x="1909.5" y="1151.9" width="13.8" height="13.7" fill="#a47232"/>
<rect x="1922.7" y="1151.9" width="13.8" height="13.7" fill="#8d501c"/>
<rect x="1935.9" y="1151.9" width="13.8" height="13.7" fill="#7a3311"/>
<rect x="1949.0" y="1151.9" width="13.8" height="13.7" fill="#691d07"/>
<rect x="1962.2" y="1151.9" width="13.8" height="13.7" fill="#732a0d"/>
<rect x="1975.4" y="1151.9" width="13.8" height="13.7" fill="#9a6327"/>
<rect x="1988.5" y="1151.9" width="13.8" height="13.7" fill="#b18441"/>
<rect x="2001.7" y="1151.9" width="13.8" height="13.7" fill="#b58946"/>
<rect x="2014.8" y="1151.9" width="13.8" height="13.7" fill="#9a6327"/>
<rect x="2028.0" y="1151.9" width="13.8" height="13.7" fill="#651906"/>
<rect x="2041.2" y="1151.9" width="13.8" height="13.7" fill="#490a01"/>
<rect x="2054.3" y="1151.9" width="13.8" height="13.7" fill="#450801"/>
<rect x="2067.5" y="1151.9" width="13.8" height="13.7" fill="#561003"/>
<rect x="2080.7" y="1151.9" width="13.8" height="13.7" fill="#783110"/>
<rect x="2093.8" y="1151.9" width="13.8" height="13.7" fill="#7f3a14"/>
<rect x="2107.0" y="1151.9" width="13.8" height="13.7" fill="#6a1f08"/>
<rect x="2120.2" y="1151.9" width="13.8" height="13.7" fill="#601605"/>
<rect x="2133.3" y="1151.9" width="13.8" height="13.7" fill="#601605"/>
<rect x="2146.5" y="1151.9" width="13.8" height="13.7" fill="#6a1f08"/>
<rect x="2159.7" y="1151.9" width="13.8" height="13.7" fill="#7f3a14"/>
<rect x="2172.8" y="1151.9" width="13.8" height="13.7" fill="#8a4a1a"/>
<rect x="1764.7" y="1165.1" width="13.8" height="13.7" fill="#591204"/>
<rect x="1777.9" y="1165.1" width="13.8" height="13.7" fill="#651906"/>
<rect x="1791.0" y="1165.1" width="13.8" height="13.7" fill="#7d3813"/>
<rect x="1804.2" y="1165.1" width="13.8" height="13.7" fill="#834016"/>
<rect x="1817.4" y="1165.1" width="13.8" height="13.7" fill="#752d0e"/>
<rect x="1830.5" y="1165.1" width="13.8" height="13.7" fill="#691d07"/>
<rect x="1843.7" y="1165.1" width="13.8" height="13.7" fill="#5e1505"/>
<rect x="1856.9" y="1165.1" width="13.8" height="13.7" fill="#6c2209"/>
<rect x="1870.0" y="1165.1" width="13.8" height="13.7" fill="#93581f"/>
<rect x="1883.2" y="1165.1" width="13.8" height="13.7" fill="#a67534"/>
<rect x="1896.4" y="1165.1" width="13.8" height="13.7" fill="#a26f30"/>
<rect x="1909.5" y="1165.1" width="13.8" height="13.7" fill="#9c6629"/>
<rect x="1922.7" y="1165.1" width="13.8" height="13.7" fill="#955b21"/>
<rect x="1935.9" y="1165.1" width="13.8" height="13.7" fill="#844217"/>
<rect x="1949.0" y="1165.1" width="13.8" height="13.7" fill="#6c2209"/>
<rect x="1962.2" y="1165.1" width="13.8" height="13.7" fill="#6f260b"/>
<rect x="1975.4" y="1165.1" width="13.8" height="13.7" fill="#8f521d"/>
<rect x="1988.5" y="1165.1" width="13.8" height="13.7" fill="#a67534"/>
<rect x="2001.7" y="1165.1" width="13.8" height="13.7" fill="#b18441"/>
<rect x="2014.8" y="1165.1" width="13.8" height="13.7" fill="#9e692b"/>
<rect x="2028.0" y="1165.1" width="13.8" height="13.7" fill="#6f260b"/>
<rect x="2041.2" y="1165.1" width="13.8" height="13.7" fill="#540e03"/>
<rect x="2054.3" y="1165.1" width="13.8" height="13.7" fill="#490a01"/>
<rect x="2067.5" y="1165.1" width="13.8" height="13.7" fill="#4f0c02"/>
<rect x="2080.7" y="1165.1" width="13.8" height="13.7" fill="#631806"/>
<rect x="2093.8" y="1165.1" width="13.8" height="13.7" fill="#6a1f08"/>
<rect x="2107.0" y="1165.1" width="13.8" height="13.7" fill="#631806"/>
<rect x="2120.2" y="1165.1" width="13.8" height="13.7" fill="#601605"/>
<rect x="2133.3" y="1165.1" width="13.8" height="13.7" fill="#601605"/>
<rect x="2146.5" y="1165.1" width="13.8" height="13.7" fill="#631806"/>
<rect x="2159.7" y="1165.1" width="13.8" height="13.7" fill="#6a1f08"/>
<rect x="2172.8" y="1165.1" width="13.8" height="13.7" fill="#6e240a"/>
<rect x="1764.7" y="1178.2" width="13.8" height="13.7" fill="#752d0e"/>
<rect x="1777.9" y="1178.2" width="13.8" height="13.7" fill="#783110"/>
<rect x="1791.0" y="1178.2" width="13.8" height="13.7" fill="#7f3a14"/>
<rect x="1804.2" y="1178.2" width="13.8" height="13.7" fill="#7d3813"/>
<rect x="1817.4" y="1178.2" width="13.8" height="13.7" fill="#732a0d"/>
<rect x="1830.5" y="1178.2" width="13.8" height="13.7" fill="#6a1f08"/>
<rect x="1843.7" y="1178.2" width="13.8" height="13.7" fill="#631806"/>
<rect x="1856.9" y="1178.2" width="13.8" height="13.7" fill="#6f260b"/>
<rect x="1870.0" y="1178.2" width="13.8" height="13.7" fill="#8f521d"/>
<rect x="1883.2" y="1178.2" width="13.8" height="13.7" fill="#9e692b"/>
<rect x="1896.4" y="1178.2" width="13.8" height="13.7" fill="#9a6327"/>
<rect x="1909.5" y="1178.2" width="13.8" height="13.7" fill="#9a6327"/>
<rect x="1922.7" y="1178.2" width="13.8" height="13.7" fill="#9e692b"/>
<rect x="1935.9" y="1178.2" width="13.8" height="13.7" fill="#8f521d"/>
<rect x="1949.0" y="1178.2" width="13.8" height="13.7" fill="#6f260b"/>
<rect x="1962.2" y="1178.2" width="13.8" height="13.7" fill="#691d07"/>
<rect x="1975.4" y="1178.2" width="13.8" height="13.7" fill="#7a3311"/>
<rect x="1988.5" y="1178.2" width="13.8" height="13.7" fill="#8c4d1b"/>
<rect x="2001.7" y="1178.2" width="13.8" height="13.7" fill="#9e692b"/>
<rect x="2014.8" y="1178.2" width="13.8" height="13.7" fill="#975d23"/>
<rect x="2028.0" y="1178.2" width="13.8" height="13.7" fill="#762f0f"/>
<rect x="2041.2" y="1178.2" width="13.8" height="13.7" fill="#631806"/>
<rect x="2054.3" y="1178.2" width="13.8" height="13.7" fill="#5d1404"/>
<rect x="2067.5" y="1178.2" width="13.8" height="13.7" fill="#5d1404"/>
<rect x="2080.7" y="1178.2" width="13.8" height="13.7" fill="#631806"/>
<rect x="2093.8" y="1178.2" width="13.8" height="13.7" fill="#651906"/>
<rect x="2107.0" y="1178.2" width="13.8" height="13.7" fill="#621705"/>
<rect x="2120.2" y="1178.2" width="13.8" height="13.7" fill="#631806"/>
<rect x="2133.3" y="1178.2" width="13.8" height="13.7" fill="#6a1f08"/>
<rect x="2146.5" y="1178.2" width="13.8" height="13.7" fill="#6a1f08"/>
<rect x="2159.7" y="1178.2" width="13.8" height="13.7" fill="#631806"/>
<rect x="2172.8" y="1178.2" width="13.8" height="13.7" fill="#601605"/>
<rect x="1764.7" y="1191.4" width="13.8" height="13.7" fill="#a06c2e"/>
<rect x="1777.9" y="1191.4" width="13.8" height="13.7" fill="#8d501c"/>
<rect x="1791.0" y="1191.4" width="13.8" height="13.7" fill="#6a1f08"/>
<rect x="1804.2" y="1191.4" width="13.8" height="13.7" fill="#571103"/>
<rect x="1817.4" y="1191.4" width="13.8" height="13.7" fill="#540e03"/>
<rect x="1830.5" y="1191.4" width="13.8" height="13.7" fill="#631806"/>
<rect x="1843.7" y="1191.4" width="13.8" height="13.7" fill="#864518"/>
<rect x="1856.9" y="1191.4" width="13.8" height="13.7" fill="#9e692b"/>
<rect x="1870.0" y="1191.4" width="13.8" height="13.7" fill="#a97a38"/>
<rect x="1883.2" y="1191.4" width="13.8" height="13.7" fill="#a97a38"/>
<rect x="1896.4" y="1191.4" width="13.8" height="13.7" fill="#9e692b"/>
<rect x="1909.5" y="1191.4" width="13.8" height="13.7" fill="#9e692b"/>
<rect x="1922.7" y="1191.4" width="13.8" height="13.7" fill="#a97a38"/>
<rect x="1935.9" y="1191.4" width="13.8" height="13.7" fill="#9a6327"/>
<rect x="1949.0" y="1191.4" width="13.8" height="13.7" fill="#732a0d"/>
<rect x="1962.2" y="1191.4" width="13.8" height="13.7" fill="#5e1505"/>
<rect x="1975.4" y="1191.4" width="13.8" height="13.7" fill="#5b1304"/>
<rect x="1988.5" y="1191.4" width="13.8" height="13.7" fill="#651906"/>
<rect x="2001.7" y="1191.4" width="13.8" height="13.7" fill="#7d3813"/>
<rect x="2014.8" y="1191.4" width="13.8" height="13.7" fill="#844217"/>
<rect x="2028.0" y="1191.4" width="13.8" height="13.7" fill="#7a3311"/>
<rect x="2041.2" y="1191.4" width="13.8" height="13.7" fill="#783110"/>
<rect x="2054.3" y="1191.4" width="13.8" height="13.7" fill="#7f3a14"/>
<rect x="2067.5" y="1191.4" width="13.8" height="13.7" fill="#7f3a14"/>
<rect x="2080.7" y="1191.4" width="13.8" height="13.7" fill="#783110"/>
<rect x="2093.8" y="1191.4" width="13.8" height="13.7" fill="#6f260b"/>
<rect x="2107.0" y="1191.4" width="13.8" height="13.7" fill="#651906"/>
<rect x="2120.2" y="1191.4" width="13.8" height="13.7" fill="#6a1f08"/>
<rect x="2133.3" y="1191.4" width="13.8" height="13.7" fill="#7f3a14"/>
<rect x="2146.5" y="1191.4" width="13.8" height="13.7" fill="#7f3a14"/>
<rect x="2159.7" y="1191.4" width="13.8" height="13.7" fill="#6a1f08"/>
<rect x="2172.8" y="1191.4" width="13.8" height="13.7" fill="#601605"/>
<rect x="1764.7" y="1204.5" width="13.8" height="13.7" fill="#af823f"/>
<rect x="1777.9" y="1204.5" width="13.8" height="13.7" fill="#93581f"/>
<rect x="1791.0" y="1204.5" width="13.8" height="13.7" fill="#5e1505"/>
<rect x="1804.2" y="1204.5" width="13.8" height="13.7" fill="#4d0b02"/>
<rect x="1817.4" y="1204.5" width="13.8" height="13.7" fill="#5e1505"/>
<rect x="1830.5" y="1204.5" width="13.8" height="13.7" fill="#7d3813"/>
<rect x="1843.7" y="1204.5" width="13.8" height="13.7" fill="#ad803d"/>
<rect x="1856.9" y="1204.5" width="13.8" height="13.7" fill="#c19854"/>
<rect x="1870.0" y="1204.5" width="13.8" height="13.7" fill="#b58946"/>
<rect x="1883.2" y="1204.5" width="13.8" height="13.7" fill="#a67534"/>
<rect x="1896.4" y="1204.5" width="13.8" height="13.7" fill="#93581f"/>
<rect x="1909.5" y="1204.5" width="13.8" height="13.7" fill="#91551e"/>
<rect x="1922.7" y="1204.5" width="13.8" height="13.7" fill="#a06c2e"/>
<rect x="1935.9" y="1204.5" width="13.8" height="13.7" fill="#955b21"/>
<rect x="1949.0" y="1204.5" width="13.8" height="13.7" fill="#71280c"/>
<rect x="1962.2" y="1204.5" width="13.8" height="13.7" fill="#5b1304"/>
<rect x="1975.4" y="1204.5" width="13.8" height="13.7" fill="#500c02"/>
<rect x="1988.5" y="1204.5" width="13.8" height="13.7" fill="#561003"/>
<rect x="2001.7" y="1204.5" width="13.8" height="13.7" fill="#6a1f08"/>
<rect x="2014.8" y="1204.5" width="13.8" height="13.7" fill="#783110"/>
<rect x="2028.0" y="1204.5" width="13.8" height="13.7" fill="#7f3a14"/>
<rect x="2041.2" y="1204.5" width="13.8" height="13.7" fill="#8c4d1b"/>
<rect x="2054.3" y="1204.5" width="13.8" height="13.7" fill="#9e692b"/>
<rect x="2067.5" y="1204.5" width="13.8" height="13.7" fill="#a26f30"/>
<rect x="2080.7" y="1204.5" width="13.8" height="13.7" fill="#975d23"/>
<rect x="2093.8" y="1204.5" width="13.8" height="13.7" fill="#864518"/>
<rect x="2107.0" y="1204.5" width="13.8" height="13.7" fill="#71280c"/>
<rect x="2120.2" y="1204.5" width="13.8" height="13.7" fill="#732a0d"/>
<rect x="2133.3" y="1204.5" width="13.8" height="13.7" fill="#8c4d1b"/>
<rect x="2146.5" y="1204.5" width="13.8" height="13.7" fill="#8a4a1a"/>
<rect x="2159.7" y="1204.5" width="13.8" height="13.7" fill="#6e240a"/>
<rect x="2172.8" y="1204.5" width="13.8" height="13.7" fill="#601605"/>
<rect x="1764.7" y="1217.6" width="13.8" height="13.7" fill="#a06c2e"/>
<rect x="1777.9" y="1217.6" width="13.8" height="13.7" fill="#884819"/>
<rect x="1791.0" y="1217.6" width="13.8" height="13.7" fill="#5b1304"/>
<rect x="1804.2" y="1217.6" width="13.8" height="13.7" fill="#5e1505"/>
<rect x="1817.4" y="1217.6" width="13.8" height="13.7" fill="#93581f"/>
<rect x="1830.5" y="1217.6" width="13.8" height="13.7" fill="#bd934f"/>
<rect x="1843.7" y="1217.6" width="13.8" height="13.7" fill="#d7b77b"/>
<rect x="1856.9" y="1217.6" width="13.8" height="13.7" fill="#d4b274"/>
<rect x="1870.0" y="1217.6" width="13.8" height="13.7" fill="#b18441"/>
<rect x="1883.2" y="1217.6" width="13.8" height="13.7" fill="#93581f"/>
<rect x="1896.4" y="1217.6" width="13.8" height="13.7" fill="#7a3311"/>
<rect x="1909.5" y="1217.6" width="13.8" height="13.7" fill="#752d0e"/>
<rect x="1922.7" y="1217.6" width="13.8" height="13.7" fill="#834016"/>
<rect x="1935.9" y="1217.6" width="13.8" height="13.7" fill="#7f3a14"/>
<rect x="1949.0" y="1217.6" width="13.8" height="13.7" fill="#6a1f08"/>
<rect x="1962.2" y="1217.6" width="13.8" height="13.7" fill="#5e1505"/>
<rect x="1975.4" y="1217.6" width="13.8" height="13.7" fill="#5b1304"/>
<rect x="1988.5" y="1217.6" width="13.8" height="13.7" fill="#5d1404"/>
<rect x="2001.7" y="1217.6" width="13.8" height="13.7" fill="#631806"/>
<rect x="2014.8" y="1217.6" width="13.8" height="13.7" fill="#71280c"/>
<rect x="2028.0" y="1217.6" width="13.8" height="13.7" fill="#864518"/>
<rect x="2041.2" y="1217.6" width="13.8" height="13.7" fill="#9e692b"/>
<rect x="2054.3" y="1217.6" width="13.8" height="13.7" fill="#b98e4b"/>
<rect x="2067.5" y="1217.6" width="13.8" height="13.7" fill="#c59d59"/>
<rect x="2080.7" y="1217.6" width="13.8" height="13.7" fill="#c19854"/>
<rect x="2093.8" y="1217.6" width="13.8" height="13.7" fill="#ab7d3a"/>
<rect x="2107.0" y="1217.6" width="13.8" height="13.7" fill="#864518"/>
<rect x="2120.2" y="1217.6" width="13.8" height="13.7" fill="#7d3813"/>
<rect x="2133.3" y="1217.6" width="13.8" height="13.7" fill="#8f521d"/>
<rect x="2146.5" y="1217.6" width="13.8" height="13.7" fill="#8a4a1a"/>
<rect x="2159.7" y="1217.6" width="13.8" height="13.7" fill="#6e240a"/>
<rect x="2172.8" y="1217.6" width="13.8" height="13.7" fill="#601605"/>
<rect x="1764.7" y="1230.8" width="13.8" height="13.7" fill="#834016"/>
<rect x="1777.9" y="1230.8" width="13.8" height="13.7" fill="#752d0e"/>
<rect x="1791.0" y="1230.8" width="13.8" height="13.7" fill="#591204"/>
<rect x="1804.2" y="1230.8" width="13.8" height="13.7" fill="#6a1f08"/>
<rect x="1817.4" y="1230.8" width="13.8" height="13.7" fill="#ab7d3a"/>
<rect x="1830.5" y="1230.8" width="13.8" height="13.7" fill="#d0ad6e"/>
<rect x="1843.7" y="1230.8" width="13.8" height="13.7" fill="#d4b274"/>
<rect x="1856.9" y="1230.8" width="13.8" height="13.7" fill="#c69f5c"/>
<rect x="1870.0" y="1230.8" width="13.8" height="13.7" fill="#a77736"/>
<rect x="1883.2" y="1230.8" width="13.8" height="13.7" fill="#8a4a1a"/>
<rect x="1896.4" y="1230.8" width="13.8" height="13.7" fill="#6e240a"/>
<rect x="1909.5" y="1230.8" width="13.8" height="13.7" fill="#691d07"/>
<rect x="1922.7" y="1230.8" width="13.8" height="13.7" fill="#7a3311"/>
<rect x="1935.9" y="1230.8" width="13.8" height="13.7" fill="#7a3311"/>
<rect x="1949.0" y="1230.8" width="13.8" height="13.7" fill="#691d07"/>
<rect x="1962.2" y="1230.8" width="13.8" height="13.7" fill="#621705"/>
<rect x="1975.4" y="1230.8" width="13.8" height="13.7" fill="#651906"/>
<rect x="1988.5" y="1230.8" width="13.8" height="13.7" fill="#651906"/>
<rect x="2001.7" y="1230.8" width="13.8" height="13.7" fill="#621705"/>
<rect x="2014.8" y="1230.8" width="13.8" height="13.7" fill="#6e240a"/>
<rect x="2028.0" y="1230.8" width="13.8" height="13.7" fill="#8a4a1a"/>
<rect x="2041.2" y="1230.8" width="13.8" height="13.7" fill="#a67534"/>
<rect x="2054.3" y="1230.8" width="13.8" height="13.7" fill="#c19854"/>
<rect x="2067.5" y="1230.8" width="13.8" height="13.7" fill="#c8a260"/>
<rect x="2080.7" y="1230.8" width="13.8" height="13.7" fill="#bd934f"/>
<rect x="2093.8" y="1230.8" width="13.8" height="13.7" fill="#a77736"/>
<rect x="2107.0" y="1230.8" width="13.8" height="13.7" fill="#8a4a1a"/>
<rect x="2120.2" y="1230.8" width="13.8" height="13.7" fill="#813d15"/>
<rect x="2133.3" y="1230.8" width="13.8" height="13.7" fill="#8c4d1b"/>
<rect x="2146.5" y="1230.8" width="13.8" height="13.7" fill="#844217"/>
<rect x="2159.7" y="1230.8" width="13.8" height="13.7" fill="#6c2209"/>
<rect x="2172.8" y="1230.8" width="13.8" height="13.7" fill="#601605"/>
<rect x="1764.7" y="1243.9" width="13.8" height="13.7" fill="#591204"/>
<rect x="1777.9" y="1243.9" width="13.8" height="13.7" fill="#591204"/>
<rect x="1791.0" y="1243.9" width="13.8" height="13.7" fill="#591204"/>
<rect x="1804.2" y="1243.9" width="13.8" height="13.7" fill="#71280c"/>
<rect x="1817.4" y="1243.9" width="13.8" height="13.7" fill="#a47232"/>
<rect x="1830.5" y="1243.9" width="13.8" height="13.7" fill="#b58946"/>
<rect x="1843.7" y="1243.9" width="13.8" height="13.7" fill="#a26f30"/>
<rect x="1856.9" y="1243.9" width="13.8" height="13.7" fill="#986025"/>
<rect x="1870.0" y="1243.9" width="13.8" height="13.7" fill="#986025"/>
<rect x="1883.2" y="1243.9" width="13.8" height="13.7" fill="#8a4a1a"/>
<rect x="1896.4" y="1243.9" width="13.8" height="13.7" fill="#6e240a"/>
<rect x="1909.5" y="1243.9" width="13.8" height="13.7" fill="#6c2209"/>
<rect x="1922.7" y="1243.9" width="13.8" height="13.7" fill="#844217"/>
<rect x="1935.9" y="1243.9" width="13.8" height="13.7" fill="#844217"/>
<rect x="1949.0" y="1243.9" width="13.8" height="13.7" fill="#6c2209"/>
<rect x="1962.2" y="1243.9" width="13.8" height="13.7" fill="#651906"/>
<rect x="1975.4" y="1243.9" width="13.8" height="13.7" fill="#6f260b"/>
<rect x="1988.5" y="1243.9" width="13.8" height="13.7" fill="#6f260b"/>
<rect x="2001.7" y="1243.9" width="13.8" height="13.7" fill="#651906"/>
<rect x="2014.8" y="1243.9" width="13.8" height="13.7" fill="#6e240a"/>
<rect x="2028.0" y="1243.9" width="13.8" height="13.7" fill="#8a4a1a"/>
<rect x="2041.2" y="1243.9" width="13.8" height="13.7" fill="#a26f30"/>
<rect x="2054.3" y="1243.9" width="13.8" height="13.7" fill="#b58946"/>
<rect x="2067.5" y="1243.9" width="13.8" height="13.7" fill="#ad803d"/>
<rect x="2080.7" y="1243.9" width="13.8" height="13.7" fill="#8c4d1b"/>
<rect x="2093.8" y="1243.9" width="13.8" height="13.7" fill="#7b3512"/>
<rect x="2107.0" y="1243.9" width="13.8" height="13.7" fill="#7b3512"/>
<rect x="2120.2" y="1243.9" width="13.8" height="13.7" fill="#7d3813"/>
<rect x="2133.3" y="1243.9" width="13.8" height="13.7" fill="#813d15"/>
<rect x="2146.5" y="1243.9" width="13.8" height="13.7" fill="#7a3311"/>
<rect x="2159.7" y="1243.9" width="13.8" height="13.7" fill="#691d07"/>
<rect x="2172.8" y="1243.9" width="13.8" height="13.7" fill="#601605"/>
<rect x="1764.7" y="1257.1" width="13.8" height="13.7" fill="#430801"/>
<rect x="1777.9" y="1257.1" width="13.8" height="13.7" fill="#4b0a02"/>
<rect x="1791.0" y="1257.1" width="13.8" height="13.7" fill="#591204"/>
<rect x="1804.2" y="1257.1" width="13.8" height="13.7" fill="#752d0e"/>
<rect x="1817.4" y="1257.1" width="13.8" height="13.7" fill="#a06c2e"/>
<rect x="1830.5" y="1257.1" width="13.8" height="13.7" fill="#a77736"/>
<rect x="1843.7" y="1257.1" width="13.8" height="13.7" fill="#8a4a1a"/>
<rect x="1856.9" y="1257.1" width="13.8" height="13.7" fill="#834016"/>
<rect x="1870.0" y="1257.1" width="13.8" height="13.7" fill="#91551e"/>
<rect x="1883.2" y="1257.1" width="13.8" height="13.7" fill="#8a4a1a"/>
<rect x="1896.4" y="1257.1" width="13.8" height="13.7" fill="#6e240a"/>
<rect x="1909.5" y="1257.1" width="13.8" height="13.7" fill="#6e240a"/>
<rect x="1922.7" y="1257.1" width="13.8" height="13.7" fill="#8a4a1a"/>
<rect x="1935.9" y="1257.1" width="13.8" height="13.7" fill="#8a4a1a"/>
<rect x="1949.0" y="1257.1" width="13.8" height="13.7" fill="#6e240a"/>
<rect x="1962.2" y="1257.1" width="13.8" height="13.7" fill="#671b06"/>
<rect x="1975.4" y="1257.1" width="13.8" height="13.7" fill="#752d0e"/>
<rect x="1988.5" y="1257.1" width="13.8" height="13.7" fill="#752d0e"/>
<rect x="2001.7" y="1257.1" width="13.8" height="13.7" fill="#671b06"/>
<rect x="2014.8" y="1257.1" width="13.8" height="13.7" fill="#6e240a"/>
<rect x="2028.0" y="1257.1" width="13.8" height="13.7" fill="#8a4a1a"/>
<rect x="2041.2" y="1257.1" width="13.8" height="13.7" fill="#a06c2e"/>
<rect x="2054.3" y="1257.1" width="13.8" height="13.7" fill="#af823f"/>
<rect x="2067.5" y="1257.1" width="13.8" height="13.7" fill="#a06c2e"/>
<rect x="2080.7" y="1257.1" width="13.8" height="13.7" fill="#752d0e"/>
<rect x="2093.8" y="1257.1" width="13.8" height="13.7" fill="#671b06"/>
<rect x="2107.0" y="1257.1" width="13.8" height="13.7" fill="#752d0e"/>
<rect x="2120.2" y="1257.1" width="13.8" height="13.7" fill="#7b3512"/>
<rect x="2133.3" y="1257.1" width="13.8" height="13.7" fill="#7b3512"/>
<rect x="2146.5" y="1257.1" width="13.8" height="13.7" fill="#752d0e"/>
<rect x="2159.7" y="1257.1" width="13.8" height="13.7" fill="#671b06"/>
<rect x="2172.8" y="1257.1" width="13.8" height="13.7" fill="#601605"/>
</g>
<g filter="url(#bl1)">
<polygon points="1896.6,897.7 1912.2,894.6 1918.4,917.9 1920.0,949.0 1906.0,959.9 1896.6,941.2" fill="#4a0600" fill-opacity="0.65"/>
<polygon points="1818.9,959.9 1850.0,956.8 1859.3,972.3 1856.2,1000.3 1832.9,1003.4 1815.8,987.9" fill="#4a0600" fill-opacity="0.65"/>
<polygon points="1765.3,851.1 1781.6,851.1 1780.1,876.0 1766.1,879.1" fill="#4a0600" fill-opacity="0.65"/>
<polygon points="1846.9,882.2 1862.5,880.6 1864.0,897.7 1850.0,900.8" fill="#4a0600" fill-opacity="0.65"/>
<polygon points="1794.1,921.0 1815.8,919.5 1817.4,935.0 1797.2,936.6" fill="#4a0600" fill-opacity="0.65"/>
<polygon points="1951.0,941.2 1975.9,935.0 1975.9,969.2 1957.3,972.3" fill="#4a0600" fill-opacity="0.65"/>
<polygon points="2064.7,868.2 2081.8,863.5 2094.2,876.0 2084.9,888.4 2067.8,885.3" fill="#4a0600" fill-opacity="0.65"/>
<polygon points="1996.3,900.8 2016.5,899.3 2019.6,921.0 1999.4,922.6" fill="#4a0600" fill-opacity="0.65"/>
<polygon points="2032.1,910.2 2066.2,907.1 2075.6,935.0 2060.0,956.8 2035.2,944.3" fill="#4a0600" fill-opacity="0.65"/>
<polygon points="2098.9,947.5 2122.2,941.2 2128.4,966.1 2112.9,980.1 2100.4,969.2" fill="#4a0600" fill-opacity="0.65"/>
<polygon points="2063.1,987.9 2084.9,986.3 2091.1,1008.1 2074.0,1018.9 2061.6,1006.5" fill="#4a0600" fill-opacity="0.65"/>
<polygon points="2151.7,910.2 2175.0,900.8 2185.9,913.3 2185.9,938.1 2159.5,935.0" fill="#4a0600" fill-opacity="0.65"/>
<polygon points="1975.3,1009.6 2004.1,1008.1 2011.9,1031.4 1996.3,1046.9 1975.3,1043.8" fill="#4a0600" fill-opacity="0.65"/>
<polygon points="1873.3,1087.5 1896.6,1084.4 1902.9,1109.3 1890.4,1132.6 1874.9,1134.1 1871.8,1112.4" fill="#4a0600" fill-opacity="0.65"/>
<polygon points="1902.9,1112.4 1924.6,1113.9 1927.7,1127.9 1907.5,1129.5" fill="#4a0600" fill-opacity="0.65"/>
<polygon points="1797.2,1060.3 1829.8,1060.3 1831.4,1089.1 1814.3,1098.4 1797.2,1089.1" fill="#4a0600" fill-opacity="0.65"/>
<polygon points="1798.7,1201.0 1846.9,1194.8 1850.0,1210.3 1825.2,1228.9 1797.2,1233.6" fill="#4a0600" fill-opacity="0.65"/>
<polygon points="1832.9,1132.6 1864.0,1131.0 1871.8,1145.0 1850.0,1154.3 1834.5,1151.2" fill="#4a0600" fill-opacity="0.65"/>
<polygon points="1856.2,1166.8 1878.0,1166.8 1881.1,1185.4 1862.5,1187.0" fill="#4a0600" fill-opacity="0.65"/>
<polygon points="1765.3,1235.2 1789.4,1233.6 1791.0,1270.9 1765.3,1270.9" fill="#4a0600" fill-opacity="0.65"/>
<polygon points="1899.8,1219.6 1927.7,1221.2 1930.8,1244.5 1912.2,1260.0 1898.2,1249.1" fill="#4a0600" fill-opacity="0.65"/>
<polygon points="2041.4,1067.3 2069.3,1064.2 2074.0,1089.1 2053.8,1098.4 2041.4,1089.1" fill="#4a0600" fill-opacity="0.65"/>
<polygon points="2072.5,1062.7 2122.2,1061.1 2125.3,1086.0 2097.3,1093.7 2074.0,1089.1" fill="#4a0600" fill-opacity="0.65"/>
<polygon points="2142.4,1089.1 2171.9,1084.4 2175.0,1104.6 2147.0,1109.3" fill="#4a0600" fill-opacity="0.65"/>
<polygon points="1997.9,1120.2 2039.8,1117.1 2042.9,1135.7 2004.1,1138.8" fill="#4a0600" fill-opacity="0.65"/>
<polygon points="2052.3,1138.8 2075.6,1135.7 2084.9,1166.8 2069.3,1179.2 2053.8,1166.8" fill="#4a0600" fill-opacity="0.65"/>
<polygon points="1975.3,1145.0 1990.1,1141.9 1991.6,1165.2 1975.3,1166.8" fill="#4a0600" fill-opacity="0.65"/>
<polygon points="2080.2,1211.8 2102.0,1211.1 2105.1,1224.3 2081.8,1225.8" fill="#4a0600" fill-opacity="0.65"/>
<polygon points="1975.3,1202.5 2011.9,1201.0 2019.6,1221.2 2004.1,1233.6 1975.3,1232.0" fill="#4a0600" fill-opacity="0.65"/>
<polygon points="1792.5,851.1 1837.6,851.1 1840.7,863.5 1828.3,879.1 1814.3,883.7 1801.9,879.1 1791.0,868.2" fill="url(#fl)"/>
<polygon points="1864.0,871.3 1874.9,857.3 1899.8,860.4 1902.9,879.1 1893.5,899.3 1871.8,894.6 1862.5,885.3" fill="url(#fl)"/>
<polygon points="1915.3,868.2 1941.7,863.5 1955.7,879.1 1954.1,899.3 1933.9,910.2 1916.8,903.9 1912.2,886.9" fill="url(#fl)"/>
<polygon points="1870.2,1012.7 1887.3,1003.4 1912.2,1001.8 1920.0,1012.7 1912.2,1034.5 1898.2,1042.3 1874.9,1039.1" fill="url(#fl)"/>
<polygon points="1780.1,911.7 1794.1,902.4 1814.3,899.3 1815.8,913.3 1803.4,925.7 1786.3,925.7" fill="url(#fl)"/>
<polygon points="1769.2,947.5 1781.6,931.9 1797.2,935.0 1794.1,947.5 1778.5,952.1" fill="url(#fl)"/>
<polygon points="1856.2,944.3 1871.8,935.0 1884.2,944.3 1874.9,959.9 1862.5,956.8" fill="url(#fl)"/>
<polygon points="1778.5,959.9 1794.1,955.2 1809.6,963.0 1805.0,980.1 1787.9,987.9 1778.5,975.4" fill="url(#fl)"/>
<polygon points="1933.9,852.7 1965.0,852.7 1966.6,871.3 1954.1,883.7 1937.0,876.0" fill="url(#fl)"/>
<polygon points="1857.8,987.9 1871.8,984.8 1874.9,997.2 1862.5,1003.4" fill="url(#fl)"/>
<polygon points="1946.4,1003.4 1965.0,1000.3 1975.9,1012.7 1969.7,1026.7 1951.0,1025.2" fill="url(#fl)"/>
<polygon points="2081.8,888.4 2095.8,885.3 2117.5,894.6 2112.9,917.9 2094.2,935.0 2078.7,925.7 2077.1,907.1" fill="url(#fl)"/>
<polygon points="2109.8,863.5 2131.5,857.3 2159.5,879.1 2153.3,897.7 2133.1,899.3 2112.9,886.9" fill="url(#fl)"/>
<polygon points="2168.8,897.7 2185.9,871.3 2185.9,921.0 2171.9,922.6" fill="url(#fl)"/>
<polygon points="2022.7,879.1 2042.9,876.0 2055.4,894.6 2050.7,916.4 2039.8,917.9 2028.9,899.3" fill="url(#fl)"/>
<polygon points="2018.1,992.5 2038.3,986.3 2060.0,984.8 2061.6,1003.4 2052.3,1023.6 2035.2,1015.8 2019.6,1005.0" fill="url(#fl)"/>
<polygon points="2064.7,966.1 2072.5,956.8 2084.9,972.3 2078.7,987.9 2064.7,984.8" fill="url(#fl)"/>
<polygon points="2134.6,949.0 2147.0,944.3 2154.8,959.9 2151.7,972.3 2134.6,969.2" fill="url(#fl)"/>
<polygon points="2139.3,1001.8 2159.5,997.2 2168.8,1012.7 2164.1,1022.0 2143.9,1020.5" fill="url(#fl)"/>
<polygon points="2004.1,928.8 2019.6,925.7 2044.5,947.5 2041.4,969.2 2022.7,972.3 2007.2,956.8" fill="url(#fl)"/>
<polygon points="1975.3,891.5 1991.6,894.6 1993.2,917.9 1982.3,928.8 1975.3,925.7" fill="url(#fl)"/>
<polygon points="2072.5,1018.9 2091.1,1015.8 2094.2,1034.5 2081.8,1050.0 2070.9,1039.1" fill="url(#fl)"/>
<polygon points="1834.5,1081.3 1856.2,1073.5 1874.9,1084.4 1871.8,1107.7 1862.5,1129.5 1843.8,1126.4 1831.4,1104.6" fill="url(#fl)"/>
<polygon points="1904.4,1089.1 1918.4,1084.4 1938.6,1089.1 1940.2,1109.3 1930.8,1123.3 1912.2,1115.5 1902.9,1104.6" fill="url(#fl)"/>
<polygon points="1876.4,1138.8 1893.5,1129.5 1918.4,1138.8 1920.0,1159.0 1906.0,1176.1 1887.3,1171.4 1874.9,1157.5" fill="url(#fl)"/>
<polygon points="1840.7,1197.9 1862.5,1190.1 1885.8,1205.6 1881.1,1232.0 1862.5,1252.3 1843.8,1244.5 1837.6,1221.2" fill="url(#fl)"/>
<polygon points="1769.2,1190.1 1791.0,1187.0 1806.5,1205.6 1797.2,1225.8 1775.4,1228.9 1767.7,1213.4" fill="url(#fl)"/>
<polygon points="1924.6,1204.1 1946.4,1197.9 1961.9,1207.2 1957.3,1225.8 1933.9,1228.9" fill="url(#fl)"/>
<polygon points="1926.2,1081.3 1940.2,1078.2 1944.8,1098.4 1932.4,1104.6" fill="url(#fl)"/>
<polygon points="1797.2,1132.6 1812.7,1131.0 1815.8,1141.9 1800.3,1145.0" fill="url(#fl)"/>
<polygon points="1958.8,1096.9 1975.9,1093.7 1975.9,1117.1 1961.9,1113.9" fill="url(#fl)"/>
<polygon points="1817.4,1236.7 1836.0,1233.6 1840.7,1256.9 1828.3,1269.3 1815.8,1260.0" fill="url(#fl)"/>
<polygon points="1979.2,1098.4 1996.3,1093.7 2011.9,1104.6 2008.7,1120.2 1988.5,1123.3 1979.2,1113.9" fill="url(#fl)"/>
<polygon points="1983.9,1135.7 2001.0,1126.4 2010.3,1138.8 2004.1,1154.3 1987.0,1152.8" fill="url(#fl)"/>
<polygon points="1999.4,1081.3 2019.6,1073.5 2047.6,1081.3 2050.7,1101.5 2038.3,1109.3 2016.5,1104.6 2001.0,1096.9" fill="url(#fl)"/>
<polygon points="2128.4,1060.3 2156.4,1060.3 2159.5,1076.6 2143.9,1081.3 2130.0,1075.1" fill="url(#fl)"/>
<polygon points="1994.8,1163.7 2011.9,1154.3 2027.4,1166.8 2024.3,1191.6 2007.2,1197.9 1993.2,1182.3" fill="url(#fl)"/>
<polygon points="2041.4,1182.3 2063.1,1176.1 2078.7,1191.6 2072.5,1211.8 2050.7,1213.4 2039.8,1197.9" fill="url(#fl)"/>
<polygon points="2139.3,1197.9 2156.4,1191.6 2168.8,1213.4 2161.0,1230.5 2142.4,1225.8" fill="url(#fl)"/>
<polygon points="2032.1,1236.7 2060.0,1225.8 2088.0,1225.8 2100.4,1244.5 2091.1,1266.2 2060.0,1269.3 2032.1,1258.5" fill="url(#fl)"/>
<polygon points="2060.0,1092.2 2070.9,1089.1 2072.5,1107.7 2061.6,1110.8" fill="url(#fl)"/>
<polygon points="2154.8,1141.9 2175.0,1138.8 2181.2,1151.2 2159.5,1159.0" fill="url(#fl)"/>
<polygon points="2074.0,1141.9 2094.2,1138.8 2100.4,1154.3 2078.7,1160.6" fill="url(#fl)"/>
<polygon points="2165.7,1123.3 2185.9,1117.1 2185.9,1141.9 2168.8,1138.8" fill="url(#fl)"/>
</g>
</g>
<rect x="609.9" y="956.1" width="26.5" height="206.2" fill="url(#afmcb)" stroke="#000" stroke-width="2.6"/>
<text style="font-family:'Liberation Sans',Arial,sans-serif;font-size:24.5px" x="581.6" y="951.1" textLength="74.4" lengthAdjust="spacingAndGlyphs">1.0 nm</text>
<text style="font-family:'Liberation Sans',Arial,sans-serif;font-size:24.5px" x="576.7" y="1183.0" textLength="83.5" lengthAdjust="spacingAndGlyphs">-1.0 nm</text>
<rect x="1424.0" y="955.7" width="25.6" height="210.4" fill="url(#afmcb)" stroke="#000" stroke-width="2.6"/>
<text style="font-family:'Liberation Sans',Arial,sans-serif;font-size:24.5px" x="1390.7" y="950.0" textLength="89.6" lengthAdjust="spacingAndGlyphs">45.0 nm</text>
<text style="font-family:'Liberation Sans',Arial,sans-serif;font-size:24.5px" x="1386.7" y="1187.5" textLength="98.0" lengthAdjust="spacingAndGlyphs">-20.0 nm</text>
<rect x="2239.0" y="955.7" width="25.9" height="210.4" fill="url(#afmcb)" stroke="#000" stroke-width="2.6"/>
<text style="font-family:'Liberation Sans',Arial,sans-serif;font-size:24.5px" x="2205.9" y="950.0" textLength="90.0" lengthAdjust="spacingAndGlyphs">40.0 nm</text>
<text style="font-family:'Liberation Sans',Arial,sans-serif;font-size:24.5px" x="2202.0" y="1187.5" textLength="97.5" lengthAdjust="spacingAndGlyphs">-35.0 nm</text>
<text style="font-family:'Liberation Sans',Arial,sans-serif;font-size:23.7px" x="156.9" y="1292.3" textLength="150.6" lengthAdjust="spacingAndGlyphs">Height Sensor</text>
<rect x="453.0" y="1269.0" width="83.0" height="5.3" fill="#000"/>
<text style="font-family:'Liberation Sans',Arial,sans-serif;font-size:23.5px" x="455.9" y="1294.0" textLength="76.3" lengthAdjust="spacingAndGlyphs">2.0 µm</text>
<text style="font-family:'Liberation Sans',Arial,sans-serif;font-size:23.7px" x="953.5" y="1294.3" textLength="155.6" lengthAdjust="spacingAndGlyphs">Height Sensor</text>
<rect x="1281.2" y="1270.4" width="85.8" height="3.8" fill="#000"/>
<text style="font-family:'Liberation Sans',Arial,sans-serif;font-size:23.5px" x="1286.0" y="1294.3" textLength="75.9" lengthAdjust="spacingAndGlyphs">2.0 µm</text>
<text style="font-family:'Liberation Sans',Arial,sans-serif;font-size:23.7px" x="1768.5" y="1294.2" textLength="155.9" lengthAdjust="spacingAndGlyphs">Height Sensor</text>
<rect x="2096.2" y="1270.4" width="86.7" height="3.8" fill="#000"/>
<text style="font-family:'Liberation Sans',Arial,sans-serif;font-size:23.5px" x="2101.0" y="1294.2" textLength="76.3" lengthAdjust="spacingAndGlyphs">2.0 µm</text>
</svg>
</body></html>
